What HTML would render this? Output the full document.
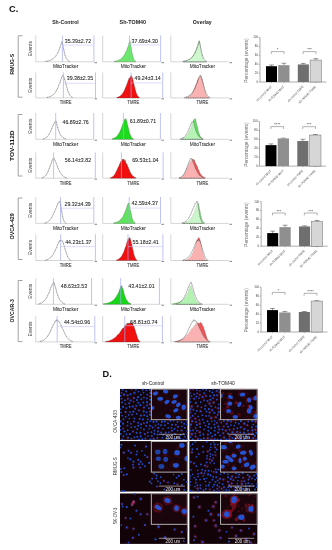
<!DOCTYPE html>
<html><head><meta charset="utf-8"><title>Figure</title>
<style>
html,body{margin:0;padding:0;background:#fff;}
body{width:332px;height:550px;overflow:hidden;}
svg{display:block;font-family:'Liberation Sans', sans-serif;}
</style></head>
<body>
<svg width="332" height="550" viewBox="0 0 332 550">
<defs><filter id="soft" x="-5%" y="-5%" width="110%" height="110%"><feGaussianBlur stdDeviation="0.35"/></filter><filter id="soft2" x="-5%" y="-5%" width="110%" height="110%"><feGaussianBlur stdDeviation="0.45"/></filter></defs>
<rect width="332" height="550" fill="#fff"/>
<text x="9.00" y="12.20" font-size="9.2" fill="#111" font-weight="bold" textLength="9.20" lengthAdjust="spacingAndGlyphs">C.</text>
<text x="52.20" y="24.20" font-size="6.0" fill="#222" font-weight="bold" textLength="26.50" lengthAdjust="spacingAndGlyphs">Sh-Control</text>
<text x="119.60" y="24.20" font-size="6.0" fill="#222" font-weight="bold" textLength="26.50" lengthAdjust="spacingAndGlyphs">Sh-TOM40</text>
<text x="192.80" y="24.20" font-size="6.0" fill="#222" font-weight="bold" textLength="18.90" lengthAdjust="spacingAndGlyphs">Overlay</text>
<path d="M22.5,35.80 L18.2,35.80 L18.2,97.20 L22.5,97.20" fill="none" stroke="#8a8a8a" stroke-width="0.8"/>
<text x="14.20" y="64.20" font-size="5.6" fill="#111" text-anchor="middle" font-weight="bold" textLength="20.40" lengthAdjust="spacingAndGlyphs" transform="rotate(-90 14.20 64.20)">RMUG-S</text>
<line x1="35.80" y1="35.50" x2="35.80" y2="61.80" stroke="#b8b8b8" stroke-width="0.6"/>
<line x1="35.80" y1="61.80" x2="93.60" y2="61.80" stroke="#b8b8b8" stroke-width="0.6"/>
<line x1="94.50" y1="62.70" x2="97.10" y2="62.70" stroke="#666" stroke-width="0.8"/>
<text x="65.60" y="68.30" font-size="5.9" fill="#333" text-anchor="middle" textLength="25.30" lengthAdjust="spacingAndGlyphs" stroke="#333" stroke-width="0.08">MitoTracker</text>
<line x1="102.70" y1="35.50" x2="102.70" y2="61.80" stroke="#b8b8b8" stroke-width="0.6"/>
<line x1="102.70" y1="61.80" x2="160.50" y2="61.80" stroke="#b8b8b8" stroke-width="0.6"/>
<line x1="161.40" y1="62.70" x2="164.00" y2="62.70" stroke="#666" stroke-width="0.8"/>
<text x="133.30" y="68.30" font-size="5.9" fill="#333" text-anchor="middle" textLength="25.30" lengthAdjust="spacingAndGlyphs" stroke="#333" stroke-width="0.08">MitoTracker</text>
<line x1="170.80" y1="35.50" x2="170.80" y2="61.80" stroke="#b8b8b8" stroke-width="0.6"/>
<line x1="170.80" y1="61.80" x2="228.60" y2="61.80" stroke="#b8b8b8" stroke-width="0.6"/>
<line x1="229.50" y1="62.70" x2="232.10" y2="62.70" stroke="#666" stroke-width="0.8"/>
<text x="202.40" y="68.30" font-size="5.9" fill="#333" text-anchor="middle" textLength="25.30" lengthAdjust="spacingAndGlyphs" stroke="#333" stroke-width="0.08">MitoTracker</text>
<text x="32.00" y="48.65" font-size="5.9" fill="#333" text-anchor="middle" textLength="15.00" lengthAdjust="spacingAndGlyphs" transform="rotate(-90 32.00 48.65)">Events</text>
<path d="M45.72,61.80 L45.72,61.28 L46.07,61.23 L46.42,61.18 L46.77,61.12 L47.12,61.06 L47.48,60.99 L47.83,60.92 L48.18,60.84 L48.53,60.75 L48.88,60.65 L49.23,60.55 L49.58,60.44 L49.93,60.32 L50.28,60.19 L50.63,60.05 L50.98,59.89 L51.33,59.72 L51.68,59.62 L52.03,59.41 L52.38,59.15 L52.73,58.89 L53.08,58.69 L53.43,58.40 L53.78,58.20 L54.13,57.77 L54.48,57.48 L54.83,57.15 L55.18,56.86 L55.53,56.31 L55.88,55.78 L56.23,55.47 L56.58,54.89 L56.93,54.17 L57.28,53.88 L57.63,53.29 L57.98,52.52 L58.33,51.85 L58.68,50.68 L59.03,50.13 L59.38,49.39 L59.73,48.29 L60.08,47.11 L60.43,45.71 L60.78,44.92 L61.13,43.98 L61.48,43.18 L61.83,42.14 L62.18,41.56 L62.53,43.64 L62.88,44.86 L63.23,47.30 L63.58,48.92 L63.93,50.29 L64.28,52.34 L64.63,53.59 L64.98,55.04 L65.33,56.07 L65.68,56.83 L66.03,57.80 L66.38,58.58 L66.73,59.05 L67.08,59.57 L67.43,59.98 L67.78,60.33 L68.12,60.61 L68.47,60.85 L68.82,61.04 L69.17,61.20 L69.45,61.80" fill="none" stroke="#555" stroke-width="0.65" stroke-dasharray="1.3 0.45"/>
<path d="M114.26,61.80 L114.26,61.28 L114.61,61.23 L114.96,61.17 L115.31,61.11 L115.66,61.04 L116.01,60.96 L116.36,60.88 L116.71,60.79 L117.06,60.69 L117.41,60.58 L117.76,60.46 L118.11,60.33 L118.46,60.19 L118.81,60.03 L119.16,59.86 L119.51,59.65 L119.86,59.52 L120.21,59.38 L120.56,59.13 L120.91,58.89 L121.26,58.53 L121.61,58.35 L121.96,57.94 L122.31,57.41 L122.66,57.18 L123.01,56.57 L123.36,56.57 L123.71,56.12 L124.06,55.25 L124.41,54.67 L124.76,54.39 L125.11,53.33 L125.46,52.60 L125.81,51.86 L126.16,51.21 L126.51,50.66 L126.86,50.18 L127.21,48.35 L127.56,48.34 L127.91,46.77 L128.26,46.24 L128.61,45.04 L128.96,42.79 L129.31,42.56 L129.66,40.55 L130.01,40.82 L130.36,42.88 L130.71,45.23 L131.06,46.83 L131.41,48.39 L131.76,51.13 L132.11,53.00 L132.46,54.16 L132.81,55.81 L133.16,57.18 L133.51,58.32 L133.86,58.95 L134.21,59.75 L134.56,60.25 L134.91,60.68 L135.26,61.00 L135.61,61.23 L135.79,61.80 L135.79,61.80 Z" fill="#6ce96c" stroke="#3a3a3a" stroke-width="0.25"/>
<path d="M183.56,61.80 L183.56,61.28 L183.91,61.23 L184.26,61.17 L184.61,61.11 L184.96,61.04 L185.31,60.96 L185.66,60.88 L186.01,60.79 L186.36,60.69 L186.71,60.58 L187.06,60.46 L187.41,60.33 L187.76,60.19 L188.11,60.03 L188.46,59.86 L188.81,59.65 L189.16,59.52 L189.51,59.38 L189.86,59.13 L190.21,58.89 L190.56,58.53 L190.91,58.35 L191.26,57.94 L191.61,57.41 L191.96,57.18 L192.31,56.57 L192.66,56.57 L193.01,56.12 L193.36,55.25 L193.71,54.67 L194.06,54.39 L194.41,53.33 L194.76,52.60 L195.11,51.86 L195.46,51.21 L195.81,50.66 L196.16,50.18 L196.51,48.35 L196.86,48.34 L197.21,46.77 L197.56,46.24 L197.91,45.04 L198.26,42.79 L198.61,42.56 L198.96,40.55 L199.31,40.82 L199.66,42.88 L200.01,45.23 L200.36,46.83 L200.71,48.39 L201.06,51.13 L201.41,53.00 L201.76,54.16 L202.11,55.81 L202.46,57.18 L202.81,58.32 L203.16,58.95 L203.51,59.75 L203.86,60.25 L204.21,60.68 L204.56,61.00 L204.91,61.23 L205.09,61.80 L205.09,61.80 Z" fill="#6ce96c" fill-opacity="0.72" stroke="#555" stroke-width="0.3"/>
<path d="M183.03,61.80 L183.03,61.28 L183.38,61.23 L183.73,61.18 L184.08,61.12 L184.43,61.06 L184.78,60.99 L185.12,60.92 L185.48,60.84 L185.83,60.75 L186.18,60.65 L186.53,60.55 L186.88,60.44 L187.23,60.32 L187.58,60.19 L187.93,60.05 L188.28,59.89 L188.63,59.72 L188.98,59.62 L189.33,59.41 L189.68,59.15 L190.03,58.89 L190.38,58.69 L190.73,58.40 L191.08,58.20 L191.43,57.77 L191.78,57.48 L192.13,57.15 L192.48,56.86 L192.83,56.31 L193.18,55.78 L193.53,55.47 L193.88,54.89 L194.23,54.17 L194.58,53.88 L194.93,53.29 L195.28,52.52 L195.63,51.85 L195.98,50.68 L196.33,50.13 L196.68,49.39 L197.03,48.29 L197.38,47.11 L197.73,45.71 L198.08,44.92 L198.43,43.98 L198.78,43.18 L199.13,42.14 L199.48,41.56 L199.83,43.64 L200.18,44.86 L200.53,47.30 L200.88,48.92 L201.23,50.29 L201.58,52.34 L201.93,53.59 L202.28,55.04 L202.63,56.07 L202.98,56.83 L203.33,57.80 L203.68,58.58 L204.03,59.05 L204.38,59.57 L204.73,59.98 L205.08,60.33 L205.43,60.61 L205.78,60.85 L206.12,61.04 L206.47,61.20 L206.75,61.80 L206.75,61.80 Z" fill="#ffffff" fill-opacity="0.55" stroke="#555" stroke-width="0.6" stroke-dasharray="1.3 0.45"/>
<line x1="62.40" y1="35.50" x2="62.40" y2="61.80" stroke="#a3abf4" stroke-width="0.7"/>
<line x1="93.90" y1="35.50" x2="93.90" y2="61.80" stroke="#a3abf4" stroke-width="0.7"/>
<line x1="62.40" y1="45.10" x2="93.90" y2="45.10" stroke="#c2c7f7" stroke-width="0.6"/>
<text x="64.80" y="42.85" font-size="6.0" fill="#222" textLength="26.30" lengthAdjust="spacingAndGlyphs" stroke="#222" stroke-width="0.08">35.39±2.72</text>
<line x1="129.60" y1="35.50" x2="129.60" y2="61.80" stroke="#a3abf4" stroke-width="0.7"/>
<line x1="160.60" y1="35.50" x2="160.60" y2="61.80" stroke="#a3abf4" stroke-width="0.7"/>
<line x1="129.60" y1="44.90" x2="160.60" y2="44.90" stroke="#c2c7f7" stroke-width="0.6"/>
<text x="131.60" y="42.60" font-size="6.0" fill="#222" textLength="26.30" lengthAdjust="spacingAndGlyphs" stroke="#222" stroke-width="0.08">37.69±4.30</text>
<line x1="35.80" y1="72.50" x2="35.80" y2="97.90" stroke="#b8b8b8" stroke-width="0.6"/>
<line x1="35.80" y1="97.90" x2="93.60" y2="97.90" stroke="#b8b8b8" stroke-width="0.6"/>
<line x1="94.50" y1="98.80" x2="97.10" y2="98.80" stroke="#666" stroke-width="0.8"/>
<text x="65.60" y="104.40" font-size="5.9" fill="#333" text-anchor="middle" textLength="11.90" lengthAdjust="spacingAndGlyphs" stroke="#333" stroke-width="0.08">TMRE</text>
<line x1="102.70" y1="72.50" x2="102.70" y2="97.90" stroke="#b8b8b8" stroke-width="0.6"/>
<line x1="102.70" y1="97.90" x2="160.50" y2="97.90" stroke="#b8b8b8" stroke-width="0.6"/>
<line x1="161.40" y1="98.80" x2="164.00" y2="98.80" stroke="#666" stroke-width="0.8"/>
<text x="133.30" y="104.40" font-size="5.9" fill="#333" text-anchor="middle" textLength="11.90" lengthAdjust="spacingAndGlyphs" stroke="#333" stroke-width="0.08">TMRE</text>
<line x1="170.80" y1="72.50" x2="170.80" y2="97.90" stroke="#b8b8b8" stroke-width="0.6"/>
<line x1="170.80" y1="97.90" x2="228.60" y2="97.90" stroke="#b8b8b8" stroke-width="0.6"/>
<line x1="229.50" y1="98.80" x2="232.10" y2="98.80" stroke="#666" stroke-width="0.8"/>
<text x="202.40" y="104.40" font-size="5.9" fill="#333" text-anchor="middle" textLength="11.90" lengthAdjust="spacingAndGlyphs" stroke="#333" stroke-width="0.08">TMRE</text>
<text x="32.00" y="85.20" font-size="5.9" fill="#333" text-anchor="middle" textLength="15.00" lengthAdjust="spacingAndGlyphs" transform="rotate(-90 32.00 85.20)">Events</text>
<path d="M47.27,97.90 L47.27,97.36 L47.62,97.30 L47.97,97.23 L48.32,97.15 L48.67,97.06 L49.02,96.96 L49.37,96.85 L49.72,96.74 L50.07,96.61 L50.42,96.46 L50.77,96.30 L51.12,96.13 L51.47,95.94 L51.82,95.73 L52.17,95.48 L52.52,95.33 L52.87,95.05 L53.22,94.67 L53.57,94.39 L53.92,94.04 L54.27,93.71 L54.62,93.34 L54.97,92.71 L55.32,92.21 L55.67,91.96 L56.02,91.28 L56.37,90.83 L56.72,89.88 L57.07,89.41 L57.42,88.85 L57.77,87.84 L58.12,87.48 L58.47,86.65 L58.82,85.20 L59.17,84.28 L59.52,83.75 L59.87,83.14 L60.22,81.68 L60.57,80.53 L60.92,79.74 L61.27,78.33 L61.62,77.59 L61.97,76.95 L62.32,76.24 L62.67,75.36 L63.02,75.46 L63.37,75.83 L63.72,76.74 L64.07,77.35 L64.42,78.04 L64.77,80.01 L65.12,80.92 L65.47,82.27 L65.82,83.20 L66.17,85.15 L66.52,86.34 L66.87,87.15 L67.22,88.51 L67.57,89.86 L67.92,90.91 L68.27,91.97 L68.61,92.69 L68.96,93.59 L69.31,94.25 L69.66,94.80 L70.01,95.39 L70.36,95.81 L70.71,96.21 L71.06,96.54 L71.41,96.81 L71.76,97.04 L72.11,97.23 L72.46,97.38 L72.57,97.90" fill="none" stroke="#555" stroke-width="0.65" stroke-dasharray="1.3 0.45"/>
<path d="M116.83,97.90 L116.83,97.39 L117.17,97.31 L117.52,97.21 L117.87,97.10 L118.22,96.97 L118.57,96.83 L118.92,96.67 L119.27,96.49 L119.62,96.28 L119.97,96.05 L120.32,95.79 L120.67,95.57 L121.02,95.16 L121.37,95.01 L121.72,94.64 L122.07,94.08 L122.42,93.70 L122.77,93.02 L123.12,92.47 L123.47,91.91 L123.82,91.51 L124.17,90.55 L124.52,90.35 L124.87,88.94 L125.22,88.23 L125.57,87.28 L125.92,87.06 L126.27,85.76 L126.62,84.96 L126.97,83.85 L127.32,83.31 L127.67,82.05 L128.02,80.83 L128.37,80.24 L128.72,79.16 L129.07,77.98 L129.42,78.46 L129.77,77.53 L130.12,76.93 L130.47,76.90 L130.82,75.67 L131.17,75.62 L131.52,76.00 L131.87,76.53 L132.22,77.83 L132.57,77.72 L132.92,79.74 L133.27,81.22 L133.62,82.42 L133.97,83.57 L134.32,85.90 L134.67,86.71 L135.02,88.67 L135.37,89.72 L135.72,90.92 L136.07,92.16 L136.42,93.14 L136.77,94.06 L137.12,94.97 L137.47,95.59 L137.82,96.03 L138.17,96.46 L138.52,96.80 L138.87,97.08 L139.22,97.29 L139.50,97.90 L139.50,97.90 Z" fill="#f01010" stroke="#3a3a3a" stroke-width="0.25"/>
<path d="M186.12,97.90 L186.12,97.39 L186.47,97.31 L186.82,97.21 L187.17,97.10 L187.52,96.97 L187.87,96.83 L188.22,96.67 L188.57,96.49 L188.92,96.28 L189.27,96.05 L189.62,95.79 L189.97,95.57 L190.32,95.16 L190.67,95.01 L191.02,94.64 L191.37,94.08 L191.72,93.70 L192.07,93.02 L192.42,92.47 L192.77,91.91 L193.12,91.51 L193.47,90.55 L193.82,90.35 L194.17,88.94 L194.52,88.23 L194.87,87.28 L195.22,87.06 L195.57,85.76 L195.92,84.96 L196.27,83.85 L196.62,83.31 L196.97,82.05 L197.32,80.83 L197.67,80.24 L198.02,79.16 L198.37,77.98 L198.72,78.46 L199.07,77.53 L199.42,76.93 L199.77,76.90 L200.12,75.67 L200.47,75.62 L200.82,76.00 L201.17,76.53 L201.52,77.83 L201.87,77.72 L202.22,79.74 L202.57,81.22 L202.92,82.42 L203.27,83.57 L203.62,85.90 L203.97,86.71 L204.32,88.67 L204.67,89.72 L205.02,90.92 L205.37,92.16 L205.72,93.14 L206.07,94.06 L206.42,94.97 L206.77,95.59 L207.12,96.03 L207.47,96.46 L207.82,96.80 L208.17,97.08 L208.52,97.29 L208.81,97.90 L208.81,97.90 Z" fill="#f01010" fill-opacity="0.72" stroke="#555" stroke-width="0.3"/>
<path d="M184.56,97.90 L184.56,97.36 L184.92,97.30 L185.27,97.23 L185.62,97.15 L185.97,97.06 L186.32,96.96 L186.67,96.85 L187.02,96.74 L187.37,96.61 L187.72,96.46 L188.07,96.30 L188.42,96.13 L188.77,95.94 L189.12,95.73 L189.47,95.48 L189.82,95.33 L190.17,95.05 L190.52,94.67 L190.87,94.39 L191.22,94.04 L191.57,93.71 L191.92,93.34 L192.27,92.71 L192.62,92.21 L192.97,91.96 L193.32,91.28 L193.67,90.83 L194.02,89.88 L194.37,89.41 L194.72,88.85 L195.07,87.84 L195.42,87.48 L195.77,86.65 L196.12,85.20 L196.47,84.28 L196.82,83.75 L197.17,83.14 L197.52,81.68 L197.87,80.53 L198.22,79.74 L198.57,78.33 L198.92,77.59 L199.27,76.95 L199.62,76.24 L199.97,75.36 L200.32,75.46 L200.67,75.83 L201.02,76.74 L201.37,77.35 L201.72,78.04 L202.07,80.01 L202.42,80.92 L202.77,82.27 L203.12,83.20 L203.47,85.15 L203.82,86.34 L204.17,87.15 L204.52,88.51 L204.87,89.86 L205.22,90.91 L205.56,91.97 L205.92,92.69 L206.26,93.59 L206.62,94.25 L206.96,94.80 L207.31,95.39 L207.66,95.81 L208.01,96.21 L208.36,96.54 L208.71,96.81 L209.06,97.04 L209.41,97.23 L209.76,97.38 L209.87,97.90 L209.87,97.90 Z" fill="#ffffff" fill-opacity="0.55" stroke="#555" stroke-width="0.6" stroke-dasharray="1.3 0.45"/>
<line x1="63.40" y1="72.50" x2="63.40" y2="97.90" stroke="#a3abf4" stroke-width="0.7"/>
<line x1="95.50" y1="72.50" x2="95.50" y2="97.90" stroke="#a3abf4" stroke-width="0.7"/>
<line x1="63.40" y1="83.30" x2="95.50" y2="83.30" stroke="#c2c7f7" stroke-width="0.6"/>
<text x="66.80" y="80.25" font-size="6.0" fill="#222" textLength="26.30" lengthAdjust="spacingAndGlyphs" stroke="#222" stroke-width="0.08">39.38±2.35</text>
<line x1="131.10" y1="72.50" x2="131.10" y2="97.90" stroke="#a3abf4" stroke-width="0.7"/>
<line x1="162.70" y1="72.50" x2="162.70" y2="97.90" stroke="#a3abf4" stroke-width="0.7"/>
<line x1="131.10" y1="82.90" x2="162.70" y2="82.90" stroke="#c2c7f7" stroke-width="0.6"/>
<text x="134.50" y="80.45" font-size="6.0" fill="#222" textLength="26.30" lengthAdjust="spacingAndGlyphs" stroke="#222" stroke-width="0.08">49.24±3.14</text>
<path d="M22.5,114.50 L18.2,114.50 L18.2,176.00 L22.5,176.00" fill="none" stroke="#8a8a8a" stroke-width="0.8"/>
<text x="14.20" y="145.70" font-size="5.6" fill="#111" text-anchor="middle" font-weight="bold" textLength="30.40" lengthAdjust="spacingAndGlyphs" transform="rotate(-90 14.20 145.70)">TOV-112D</text>
<line x1="35.80" y1="113.00" x2="35.80" y2="139.30" stroke="#b8b8b8" stroke-width="0.6"/>
<line x1="35.80" y1="139.30" x2="93.60" y2="139.30" stroke="#b8b8b8" stroke-width="0.6"/>
<line x1="94.50" y1="140.20" x2="97.10" y2="140.20" stroke="#666" stroke-width="0.8"/>
<text x="65.60" y="145.80" font-size="5.9" fill="#333" text-anchor="middle" textLength="25.30" lengthAdjust="spacingAndGlyphs" stroke="#333" stroke-width="0.08">MitoTracker</text>
<line x1="102.70" y1="113.00" x2="102.70" y2="139.30" stroke="#b8b8b8" stroke-width="0.6"/>
<line x1="102.70" y1="139.30" x2="160.50" y2="139.30" stroke="#b8b8b8" stroke-width="0.6"/>
<line x1="161.40" y1="140.20" x2="164.00" y2="140.20" stroke="#666" stroke-width="0.8"/>
<text x="133.30" y="145.80" font-size="5.9" fill="#333" text-anchor="middle" textLength="25.30" lengthAdjust="spacingAndGlyphs" stroke="#333" stroke-width="0.08">MitoTracker</text>
<line x1="170.80" y1="113.00" x2="170.80" y2="139.30" stroke="#b8b8b8" stroke-width="0.6"/>
<line x1="170.80" y1="139.30" x2="228.60" y2="139.30" stroke="#b8b8b8" stroke-width="0.6"/>
<line x1="229.50" y1="140.20" x2="232.10" y2="140.20" stroke="#666" stroke-width="0.8"/>
<text x="202.40" y="145.80" font-size="5.9" fill="#333" text-anchor="middle" textLength="25.30" lengthAdjust="spacingAndGlyphs" stroke="#333" stroke-width="0.08">MitoTracker</text>
<text x="32.00" y="126.15" font-size="5.9" fill="#333" text-anchor="middle" textLength="15.00" lengthAdjust="spacingAndGlyphs" transform="rotate(-90 32.00 126.15)">Events</text>
<path d="M43.20,139.30 L43.20,138.89 L43.55,138.81 L43.90,138.71 L44.25,138.60 L44.60,138.47 L44.95,138.32 L45.30,138.15 L45.65,137.95 L46.00,137.73 L46.35,137.47 L46.70,137.22 L47.05,136.88 L47.40,136.55 L47.75,136.08 L48.10,135.78 L48.45,135.32 L48.80,134.75 L49.15,134.01 L49.50,133.53 L49.85,132.79 L50.20,132.04 L50.55,131.67 L50.90,130.95 L51.25,129.55 L51.60,129.27 L51.95,128.25 L52.30,127.22 L52.65,126.27 L53.00,125.79 L53.35,124.77 L53.70,124.23 L54.05,123.49 L54.40,122.23 L54.75,122.40 L55.10,122.21 L55.45,121.86 L55.80,121.23 L56.15,121.18 L56.50,122.43 L56.85,123.96 L57.20,126.10 L57.55,126.83 L57.90,128.13 L58.25,129.67 L58.60,130.35 L58.95,131.48 L59.30,132.32 L59.65,132.98 L60.00,133.93 L60.35,134.67 L60.70,135.05 L61.05,135.60 L61.40,136.12 L61.75,136.46 L62.10,136.91 L62.45,137.28 L62.80,137.48 L63.15,137.73 L63.50,137.95 L63.85,138.14 L64.20,138.30 L64.55,138.44 L64.90,138.57 L65.25,138.67 L65.60,138.76 L65.95,138.84 L65.98,139.30" fill="none" stroke="#555" stroke-width="0.65" stroke-dasharray="1.3 0.45"/>
<path d="M111.97,139.30 L111.97,138.80 L112.31,138.72 L112.66,138.63 L113.01,138.53 L113.36,138.42 L113.71,138.29 L114.06,138.15 L114.41,137.98 L114.76,137.80 L115.11,137.59 L115.46,137.36 L115.81,137.24 L116.16,136.84 L116.51,136.64 L116.86,136.14 L117.21,135.83 L117.56,135.34 L117.91,134.99 L118.26,134.28 L118.61,133.89 L118.96,133.25 L119.31,132.43 L119.66,132.25 L120.01,131.61 L120.36,130.25 L120.71,129.83 L121.06,128.88 L121.41,127.86 L121.76,127.10 L122.11,126.22 L122.46,124.73 L122.81,123.82 L123.16,123.02 L123.51,122.80 L123.86,121.78 L124.21,120.64 L124.56,119.25 L124.91,119.44 L125.26,119.17 L125.61,119.18 L125.96,118.47 L126.31,119.80 L126.66,120.65 L127.01,122.36 L127.36,124.39 L127.71,125.38 L128.06,126.71 L128.41,128.06 L128.76,129.52 L129.11,131.42 L129.46,132.70 L129.81,133.74 L130.16,134.30 L130.51,135.30 L130.86,136.02 L131.21,136.75 L131.56,137.25 L131.91,137.69 L132.26,138.05 L132.61,138.34 L132.96,138.57 L133.31,138.76 L133.49,139.30 L133.49,139.30 Z" fill="#1ddc1d" stroke="#3a3a3a" stroke-width="0.25"/>
<path d="M181.26,139.30 L181.26,138.80 L181.62,138.72 L181.96,138.63 L182.31,138.53 L182.66,138.42 L183.01,138.29 L183.36,138.15 L183.71,137.98 L184.06,137.80 L184.41,137.59 L184.76,137.36 L185.11,137.24 L185.46,136.84 L185.81,136.64 L186.16,136.14 L186.51,135.83 L186.86,135.34 L187.21,134.99 L187.56,134.28 L187.91,133.89 L188.26,133.25 L188.61,132.43 L188.96,132.25 L189.31,131.61 L189.66,130.25 L190.01,129.83 L190.36,128.88 L190.71,127.86 L191.06,127.10 L191.41,126.22 L191.76,124.73 L192.11,123.82 L192.46,123.02 L192.81,122.80 L193.16,121.78 L193.51,120.64 L193.86,119.25 L194.21,119.44 L194.56,119.17 L194.91,119.18 L195.26,118.47 L195.61,119.80 L195.96,120.65 L196.31,122.36 L196.66,124.39 L197.01,125.38 L197.36,126.71 L197.71,128.06 L198.06,129.52 L198.41,131.42 L198.76,132.70 L199.11,133.74 L199.46,134.30 L199.81,135.30 L200.16,136.02 L200.51,136.75 L200.86,137.25 L201.21,137.69 L201.56,138.05 L201.91,138.34 L202.26,138.57 L202.61,138.76 L202.79,139.30 L202.79,139.30 Z" fill="#1ddc1d" fill-opacity="0.72" stroke="#555" stroke-width="0.3"/>
<path d="M180.50,139.30 L180.50,138.89 L180.85,138.81 L181.20,138.71 L181.55,138.60 L181.90,138.47 L182.25,138.32 L182.60,138.15 L182.95,137.95 L183.30,137.73 L183.65,137.47 L184.00,137.22 L184.35,136.88 L184.70,136.55 L185.05,136.08 L185.40,135.78 L185.75,135.32 L186.10,134.75 L186.45,134.01 L186.80,133.53 L187.15,132.79 L187.50,132.04 L187.85,131.67 L188.20,130.95 L188.55,129.55 L188.90,129.27 L189.25,128.25 L189.60,127.22 L189.95,126.27 L190.30,125.79 L190.65,124.77 L191.00,124.23 L191.35,123.49 L191.70,122.23 L192.05,122.40 L192.40,122.21 L192.75,121.86 L193.10,121.23 L193.45,121.18 L193.80,122.43 L194.15,123.96 L194.50,126.10 L194.85,126.83 L195.20,128.13 L195.55,129.67 L195.90,130.35 L196.25,131.48 L196.60,132.32 L196.95,132.98 L197.30,133.93 L197.65,134.67 L198.00,135.05 L198.35,135.60 L198.70,136.12 L199.05,136.46 L199.40,136.91 L199.75,137.28 L200.10,137.48 L200.45,137.73 L200.80,137.95 L201.15,138.14 L201.50,138.30 L201.85,138.44 L202.20,138.57 L202.55,138.67 L202.90,138.76 L203.25,138.84 L203.28,139.30 L203.28,139.30 Z" fill="#ffffff" fill-opacity="0.55" stroke="#555" stroke-width="0.6" stroke-dasharray="1.3 0.45"/>
<line x1="55.70" y1="113.00" x2="55.70" y2="139.30" stroke="#a3abf4" stroke-width="0.7"/>
<line x1="93.70" y1="113.00" x2="93.70" y2="139.30" stroke="#a3abf4" stroke-width="0.7"/>
<text x="62.50" y="123.65" font-size="6.0" fill="#222" textLength="26.30" lengthAdjust="spacingAndGlyphs" stroke="#222" stroke-width="0.08">46.89±2.76</text>
<line x1="123.40" y1="113.00" x2="123.40" y2="139.30" stroke="#a3abf4" stroke-width="0.7"/>
<line x1="160.40" y1="113.00" x2="160.40" y2="139.30" stroke="#a3abf4" stroke-width="0.7"/>
<text x="129.80" y="123.30" font-size="6.0" fill="#222" textLength="26.30" lengthAdjust="spacingAndGlyphs" stroke="#222" stroke-width="0.08">61.89±0.71</text>
<line x1="35.80" y1="152.40" x2="35.80" y2="178.20" stroke="#b8b8b8" stroke-width="0.6"/>
<line x1="35.80" y1="178.20" x2="93.60" y2="178.20" stroke="#b8b8b8" stroke-width="0.6"/>
<line x1="94.50" y1="179.10" x2="97.10" y2="179.10" stroke="#666" stroke-width="0.8"/>
<text x="65.60" y="184.70" font-size="5.9" fill="#333" text-anchor="middle" textLength="11.90" lengthAdjust="spacingAndGlyphs" stroke="#333" stroke-width="0.08">TMRE</text>
<line x1="102.70" y1="152.40" x2="102.70" y2="178.20" stroke="#b8b8b8" stroke-width="0.6"/>
<line x1="102.70" y1="178.20" x2="160.50" y2="178.20" stroke="#b8b8b8" stroke-width="0.6"/>
<line x1="161.40" y1="179.10" x2="164.00" y2="179.10" stroke="#666" stroke-width="0.8"/>
<text x="133.30" y="184.70" font-size="5.9" fill="#333" text-anchor="middle" textLength="11.90" lengthAdjust="spacingAndGlyphs" stroke="#333" stroke-width="0.08">TMRE</text>
<line x1="170.80" y1="152.40" x2="170.80" y2="178.20" stroke="#b8b8b8" stroke-width="0.6"/>
<line x1="170.80" y1="178.20" x2="228.60" y2="178.20" stroke="#b8b8b8" stroke-width="0.6"/>
<line x1="229.50" y1="179.10" x2="232.10" y2="179.10" stroke="#666" stroke-width="0.8"/>
<text x="202.40" y="184.70" font-size="5.9" fill="#333" text-anchor="middle" textLength="11.90" lengthAdjust="spacingAndGlyphs" stroke="#333" stroke-width="0.08">TMRE</text>
<text x="32.00" y="165.30" font-size="5.9" fill="#333" text-anchor="middle" textLength="15.00" lengthAdjust="spacingAndGlyphs" transform="rotate(-90 32.00 165.30)">Events</text>
<path d="M42.04,178.20 L42.04,177.76 L42.39,177.67 L42.74,177.55 L43.09,177.42 L43.44,177.26 L43.79,177.07 L44.14,176.86 L44.49,176.61 L44.84,176.32 L45.19,176.01 L45.54,175.66 L45.89,175.32 L46.24,174.77 L46.59,174.26 L46.94,173.71 L47.29,172.96 L47.64,172.38 L47.99,171.69 L48.34,170.99 L48.69,169.79 L49.04,169.00 L49.39,167.93 L49.74,167.45 L50.09,166.41 L50.44,164.89 L50.79,164.72 L51.14,163.77 L51.49,162.56 L51.84,161.66 L52.19,160.35 L52.54,159.46 L52.89,159.48 L53.24,158.46 L53.59,158.34 L53.94,158.40 L54.29,158.47 L54.64,159.51 L54.99,160.13 L55.34,161.32 L55.69,161.77 L56.04,162.75 L56.39,163.51 L56.74,164.57 L57.09,165.31 L57.44,166.09 L57.79,167.52 L58.14,168.37 L58.49,169.09 L58.84,169.81 L59.19,170.38 L59.54,171.07 L59.89,171.79 L60.24,172.36 L60.59,173.19 L60.94,173.62 L61.29,174.24 L61.64,174.58 L61.99,175.12 L62.34,175.47 L62.69,175.67 L63.04,176.01 L63.39,176.30 L63.74,176.55 L64.09,176.77 L64.44,176.96 L64.79,177.13 L65.14,177.28 L65.49,177.41 L65.84,177.53 L66.19,177.63 L66.54,177.71 L66.72,178.20" fill="none" stroke="#555" stroke-width="0.65" stroke-dasharray="1.3 0.45"/>
<path d="M110.17,178.20 L110.17,177.81 L110.52,177.72 L110.86,177.60 L111.21,177.47 L111.56,177.31 L111.91,177.12 L112.26,176.90 L112.61,176.65 L112.96,176.36 L113.31,176.16 L113.66,175.65 L114.01,175.45 L114.36,174.86 L114.71,174.33 L115.06,173.88 L115.41,173.06 L115.76,172.42 L116.11,171.87 L116.46,171.01 L116.81,170.60 L117.16,169.60 L117.51,168.76 L117.86,167.82 L118.21,166.91 L118.56,166.67 L118.91,166.13 L119.26,164.59 L119.61,164.49 L119.96,163.01 L120.31,163.05 L120.66,161.56 L121.01,161.57 L121.36,160.78 L121.71,161.23 L122.06,160.69 L122.41,159.18 L122.76,158.98 L123.11,159.58 L123.46,159.06 L123.81,159.15 L124.16,160.68 L124.51,160.89 L124.86,159.49 L125.21,159.96 L125.56,161.59 L125.91,162.74 L126.26,163.29 L126.61,163.70 L126.96,164.54 L127.31,164.99 L127.66,165.85 L128.01,167.16 L128.36,167.16 L128.71,168.65 L129.06,169.51 L129.41,169.83 L129.76,171.13 L130.11,171.44 L130.46,172.67 L130.81,173.19 L131.16,173.64 L131.51,174.27 L131.86,174.92 L132.21,175.17 L132.56,175.56 L132.91,176.06 L133.26,176.30 L133.61,176.60 L133.96,176.86 L134.31,177.08 L134.66,177.27 L135.01,177.44 L135.36,177.58 L135.71,177.69 L136.06,177.79 L136.10,178.20 L136.10,178.20 Z" fill="#f01010" stroke="#3a3a3a" stroke-width="0.25"/>
<path d="M179.47,178.20 L179.47,177.81 L179.81,177.72 L180.16,177.60 L180.51,177.47 L180.86,177.31 L181.21,177.12 L181.56,176.90 L181.91,176.65 L182.26,176.36 L182.61,176.16 L182.96,175.65 L183.31,175.45 L183.66,174.86 L184.01,174.33 L184.36,173.88 L184.71,173.06 L185.06,172.42 L185.41,171.87 L185.76,171.01 L186.11,170.60 L186.46,169.60 L186.81,168.76 L187.16,167.82 L187.51,166.91 L187.86,166.67 L188.21,166.13 L188.56,164.59 L188.91,164.49 L189.26,163.01 L189.61,163.05 L189.96,161.56 L190.31,161.57 L190.66,160.78 L191.01,161.23 L191.36,160.69 L191.71,159.18 L192.06,158.98 L192.41,159.58 L192.76,159.06 L193.11,159.15 L193.46,160.68 L193.81,160.89 L194.16,159.49 L194.51,159.96 L194.86,161.59 L195.21,162.74 L195.56,163.29 L195.91,163.70 L196.26,164.54 L196.61,164.99 L196.96,165.85 L197.31,167.16 L197.66,167.16 L198.01,168.65 L198.36,169.51 L198.71,169.83 L199.06,171.13 L199.41,171.44 L199.76,172.67 L200.11,173.19 L200.46,173.64 L200.81,174.27 L201.16,174.92 L201.51,175.17 L201.86,175.56 L202.21,176.06 L202.56,176.30 L202.91,176.60 L203.26,176.86 L203.61,177.08 L203.96,177.27 L204.31,177.44 L204.66,177.58 L205.01,177.69 L205.36,177.79 L205.40,178.20 L205.40,178.20 Z" fill="#f01010" fill-opacity="0.72" stroke="#555" stroke-width="0.3"/>
<path d="M179.34,178.20 L179.34,177.76 L179.69,177.67 L180.04,177.55 L180.39,177.42 L180.74,177.26 L181.09,177.07 L181.44,176.86 L181.79,176.61 L182.14,176.32 L182.49,176.01 L182.84,175.66 L183.19,175.32 L183.54,174.77 L183.89,174.26 L184.24,173.71 L184.59,172.96 L184.94,172.38 L185.29,171.69 L185.64,170.99 L185.99,169.79 L186.34,169.00 L186.69,167.93 L187.04,167.45 L187.39,166.41 L187.74,164.89 L188.09,164.72 L188.44,163.77 L188.79,162.56 L189.14,161.66 L189.49,160.35 L189.84,159.46 L190.19,159.48 L190.54,158.46 L190.89,158.34 L191.24,158.40 L191.59,158.47 L191.94,159.51 L192.29,160.13 L192.64,161.32 L192.99,161.77 L193.34,162.75 L193.69,163.51 L194.04,164.57 L194.39,165.31 L194.74,166.09 L195.09,167.52 L195.44,168.37 L195.79,169.09 L196.14,169.81 L196.49,170.38 L196.84,171.07 L197.19,171.79 L197.54,172.36 L197.89,173.19 L198.24,173.62 L198.59,174.24 L198.94,174.58 L199.29,175.12 L199.64,175.47 L199.99,175.67 L200.34,176.01 L200.69,176.30 L201.04,176.55 L201.39,176.77 L201.74,176.96 L202.09,177.13 L202.44,177.28 L202.79,177.41 L203.14,177.53 L203.49,177.63 L203.84,177.71 L204.02,178.20 L204.02,178.20 Z" fill="#ffffff" fill-opacity="0.55" stroke="#555" stroke-width="0.6" stroke-dasharray="1.3 0.45"/>
<line x1="53.60" y1="152.40" x2="53.60" y2="178.20" stroke="#a3abf4" stroke-width="0.7"/>
<line x1="95.30" y1="152.40" x2="95.30" y2="178.20" stroke="#a3abf4" stroke-width="0.7"/>
<text x="64.80" y="161.80" font-size="6.0" fill="#222" textLength="26.30" lengthAdjust="spacingAndGlyphs" stroke="#222" stroke-width="0.08">56.14±3.82</text>
<line x1="121.40" y1="152.40" x2="121.40" y2="178.20" stroke="#a3abf4" stroke-width="0.7"/>
<line x1="163.10" y1="152.40" x2="163.10" y2="178.20" stroke="#a3abf4" stroke-width="0.7"/>
<text x="132.20" y="161.80" font-size="6.0" fill="#222" textLength="26.30" lengthAdjust="spacingAndGlyphs" stroke="#222" stroke-width="0.08">69.53±1.04</text>
<path d="M22.5,198.00 L18.2,198.00 L18.2,259.50 L22.5,259.50" fill="none" stroke="#8a8a8a" stroke-width="0.8"/>
<text x="14.20" y="226.40" font-size="5.6" fill="#111" text-anchor="middle" font-weight="bold" textLength="26.20" lengthAdjust="spacingAndGlyphs" transform="rotate(-90 14.20 226.40)">OVCA-429</text>
<line x1="35.80" y1="197.00" x2="35.80" y2="223.40" stroke="#b8b8b8" stroke-width="0.6"/>
<line x1="35.80" y1="223.40" x2="93.60" y2="223.40" stroke="#b8b8b8" stroke-width="0.6"/>
<line x1="94.50" y1="224.30" x2="97.10" y2="224.30" stroke="#666" stroke-width="0.8"/>
<text x="65.60" y="229.90" font-size="5.9" fill="#333" text-anchor="middle" textLength="25.30" lengthAdjust="spacingAndGlyphs" stroke="#333" stroke-width="0.08">MitoTracker</text>
<line x1="102.70" y1="197.00" x2="102.70" y2="223.40" stroke="#b8b8b8" stroke-width="0.6"/>
<line x1="102.70" y1="223.40" x2="160.50" y2="223.40" stroke="#b8b8b8" stroke-width="0.6"/>
<line x1="161.40" y1="224.30" x2="164.00" y2="224.30" stroke="#666" stroke-width="0.8"/>
<text x="133.30" y="229.90" font-size="5.9" fill="#333" text-anchor="middle" textLength="25.30" lengthAdjust="spacingAndGlyphs" stroke="#333" stroke-width="0.08">MitoTracker</text>
<line x1="170.80" y1="197.00" x2="170.80" y2="223.40" stroke="#b8b8b8" stroke-width="0.6"/>
<line x1="170.80" y1="223.40" x2="228.60" y2="223.40" stroke="#b8b8b8" stroke-width="0.6"/>
<line x1="229.50" y1="224.30" x2="232.10" y2="224.30" stroke="#666" stroke-width="0.8"/>
<text x="202.40" y="229.90" font-size="5.9" fill="#333" text-anchor="middle" textLength="25.30" lengthAdjust="spacingAndGlyphs" stroke="#333" stroke-width="0.08">MitoTracker</text>
<text x="32.00" y="210.20" font-size="5.9" fill="#333" text-anchor="middle" textLength="15.00" lengthAdjust="spacingAndGlyphs" transform="rotate(-90 32.00 210.20)">Events</text>
<path d="M44.88,223.40 L44.88,222.92 L45.23,222.84 L45.58,222.74 L45.93,222.64 L46.28,222.51 L46.63,222.37 L46.98,222.21 L47.33,222.03 L47.68,221.83 L48.03,221.60 L48.38,221.35 L48.73,221.15 L49.08,220.82 L49.43,220.50 L49.78,220.16 L50.13,219.63 L50.48,219.28 L50.83,218.88 L51.18,218.37 L51.53,217.73 L51.88,217.00 L52.23,216.46 L52.58,216.05 L52.93,214.94 L53.28,214.31 L53.63,213.91 L53.98,212.84 L54.33,211.87 L54.68,211.11 L55.03,210.72 L55.38,209.44 L55.73,208.67 L56.08,208.01 L56.43,207.37 L56.78,206.29 L57.13,205.10 L57.48,204.90 L57.83,203.64 L58.18,203.09 L58.53,202.65 L58.88,202.80 L59.23,201.94 L59.58,202.18 L59.93,201.37 L60.28,201.78 L60.63,203.54 L60.98,206.58 L61.33,209.11 L61.68,210.96 L62.03,213.18 L62.38,215.04 L62.73,216.99 L63.08,218.28 L63.43,219.41 L63.78,220.45 L64.13,221.18 L64.48,221.72 L64.83,222.16 L65.18,222.50 L65.53,222.75 L65.77,223.40" fill="none" stroke="#555" stroke-width="0.65" stroke-dasharray="1.3 0.45"/>
<path d="M113.69,223.40 L113.69,222.88 L114.04,222.82 L114.39,222.75 L114.74,222.68 L115.09,222.60 L115.44,222.51 L115.79,222.41 L116.14,222.30 L116.49,222.18 L116.84,222.05 L117.19,221.91 L117.54,221.75 L117.89,221.57 L118.24,221.38 L118.59,221.22 L118.94,220.92 L119.29,220.86 L119.64,220.51 L119.99,220.21 L120.34,220.00 L120.69,219.36 L121.04,219.25 L121.39,218.60 L121.74,218.16 L122.09,217.70 L122.44,217.42 L122.79,217.00 L123.14,216.26 L123.49,215.34 L123.84,214.49 L124.19,213.87 L124.54,213.00 L124.89,212.44 L125.24,211.57 L125.59,210.18 L125.94,209.30 L126.29,209.19 L126.64,207.93 L126.99,205.94 L127.34,206.12 L127.69,204.36 L128.04,203.24 L128.39,203.19 L128.74,203.05 L129.09,203.49 L129.44,204.77 L129.79,206.69 L130.14,208.89 L130.49,210.54 L130.84,211.69 L131.19,213.45 L131.54,215.37 L131.89,216.79 L132.24,218.31 L132.59,219.30 L132.94,220.05 L133.29,220.88 L133.64,221.46 L133.99,221.95 L134.34,222.33 L134.69,222.62 L135.04,222.84 L135.22,223.40 L135.22,223.40 Z" fill="#5fe35f" stroke="#3a3a3a" stroke-width="0.25"/>
<path d="M183.00,223.40 L183.00,222.88 L183.34,222.82 L183.69,222.75 L184.04,222.68 L184.39,222.60 L184.74,222.51 L185.09,222.41 L185.44,222.30 L185.79,222.18 L186.14,222.05 L186.49,221.91 L186.84,221.75 L187.19,221.57 L187.54,221.38 L187.89,221.22 L188.24,220.92 L188.59,220.86 L188.94,220.51 L189.29,220.21 L189.64,220.00 L189.99,219.36 L190.34,219.25 L190.69,218.60 L191.04,218.16 L191.39,217.70 L191.74,217.42 L192.09,217.00 L192.44,216.26 L192.79,215.34 L193.14,214.49 L193.49,213.87 L193.84,213.00 L194.19,212.44 L194.54,211.57 L194.89,210.18 L195.24,209.30 L195.59,209.19 L195.94,207.93 L196.29,205.94 L196.64,206.12 L196.99,204.36 L197.34,203.24 L197.69,203.19 L198.04,203.05 L198.39,203.49 L198.74,204.77 L199.09,206.69 L199.44,208.89 L199.79,210.54 L200.14,211.69 L200.49,213.45 L200.84,215.37 L201.19,216.79 L201.54,218.31 L201.89,219.30 L202.24,220.05 L202.59,220.88 L202.94,221.46 L203.29,221.95 L203.64,222.33 L203.99,222.62 L204.34,222.84 L204.52,223.40 L204.52,223.40 Z" fill="#5fe35f" fill-opacity="0.72" stroke="#555" stroke-width="0.3"/>
<path d="M182.18,223.40 L182.18,222.92 L182.53,222.84 L182.88,222.74 L183.23,222.64 L183.58,222.51 L183.93,222.37 L184.28,222.21 L184.63,222.03 L184.98,221.83 L185.33,221.60 L185.68,221.35 L186.03,221.15 L186.38,220.82 L186.73,220.50 L187.08,220.16 L187.43,219.63 L187.78,219.28 L188.13,218.88 L188.48,218.37 L188.83,217.73 L189.18,217.00 L189.53,216.46 L189.88,216.05 L190.23,214.94 L190.58,214.31 L190.93,213.91 L191.28,212.84 L191.63,211.87 L191.98,211.11 L192.33,210.72 L192.68,209.44 L193.03,208.67 L193.38,208.01 L193.73,207.37 L194.08,206.29 L194.43,205.10 L194.78,204.90 L195.13,203.64 L195.48,203.09 L195.83,202.65 L196.18,202.80 L196.53,201.94 L196.88,202.18 L197.23,201.37 L197.58,201.78 L197.93,203.54 L198.28,206.58 L198.63,209.11 L198.98,210.96 L199.33,213.18 L199.68,215.04 L200.03,216.99 L200.38,218.28 L200.73,219.41 L201.08,220.45 L201.43,221.18 L201.78,221.72 L202.13,222.16 L202.48,222.50 L202.83,222.75 L203.07,223.40 L203.07,223.40 Z" fill="#ffffff" fill-opacity="0.55" stroke="#555" stroke-width="0.6" stroke-dasharray="1.3 0.45"/>
<line x1="60.50" y1="197.00" x2="60.50" y2="223.40" stroke="#a3abf4" stroke-width="0.7"/>
<line x1="93.80" y1="197.00" x2="93.80" y2="223.40" stroke="#a3abf4" stroke-width="0.7"/>
<line x1="60.50" y1="208.20" x2="93.80" y2="208.20" stroke="#c2c7f7" stroke-width="0.6"/>
<text x="64.50" y="205.55" font-size="6.0" fill="#222" textLength="26.30" lengthAdjust="spacingAndGlyphs" stroke="#222" stroke-width="0.08">29.32±4.39</text>
<line x1="129.20" y1="197.00" x2="129.20" y2="223.40" stroke="#a3abf4" stroke-width="0.7"/>
<line x1="160.50" y1="197.00" x2="160.50" y2="223.40" stroke="#a3abf4" stroke-width="0.7"/>
<line x1="129.20" y1="208.10" x2="160.50" y2="208.10" stroke="#c2c7f7" stroke-width="0.6"/>
<text x="131.60" y="205.20" font-size="6.0" fill="#222" textLength="26.30" lengthAdjust="spacingAndGlyphs" stroke="#222" stroke-width="0.08">42.59±4.37</text>
<line x1="35.80" y1="234.30" x2="35.80" y2="260.50" stroke="#b8b8b8" stroke-width="0.6"/>
<line x1="35.80" y1="260.50" x2="93.60" y2="260.50" stroke="#b8b8b8" stroke-width="0.6"/>
<line x1="94.50" y1="261.40" x2="97.10" y2="261.40" stroke="#666" stroke-width="0.8"/>
<text x="65.60" y="267.00" font-size="5.9" fill="#333" text-anchor="middle" textLength="11.90" lengthAdjust="spacingAndGlyphs" stroke="#333" stroke-width="0.08">TMRE</text>
<line x1="102.70" y1="234.30" x2="102.70" y2="260.50" stroke="#b8b8b8" stroke-width="0.6"/>
<line x1="102.70" y1="260.50" x2="160.50" y2="260.50" stroke="#b8b8b8" stroke-width="0.6"/>
<line x1="161.40" y1="261.40" x2="164.00" y2="261.40" stroke="#666" stroke-width="0.8"/>
<text x="133.30" y="267.00" font-size="5.9" fill="#333" text-anchor="middle" textLength="11.90" lengthAdjust="spacingAndGlyphs" stroke="#333" stroke-width="0.08">TMRE</text>
<line x1="170.80" y1="234.30" x2="170.80" y2="260.50" stroke="#b8b8b8" stroke-width="0.6"/>
<line x1="170.80" y1="260.50" x2="228.60" y2="260.50" stroke="#b8b8b8" stroke-width="0.6"/>
<line x1="229.50" y1="261.40" x2="232.10" y2="261.40" stroke="#666" stroke-width="0.8"/>
<text x="202.40" y="267.00" font-size="5.9" fill="#333" text-anchor="middle" textLength="11.90" lengthAdjust="spacingAndGlyphs" stroke="#333" stroke-width="0.08">TMRE</text>
<text x="32.00" y="247.40" font-size="5.9" fill="#333" text-anchor="middle" textLength="15.00" lengthAdjust="spacingAndGlyphs" transform="rotate(-90 32.00 247.40)">Events</text>
<path d="M45.48,260.50 L45.48,260.03 L45.83,259.96 L46.18,259.88 L46.53,259.79 L46.88,259.69 L47.23,259.57 L47.58,259.44 L47.93,259.29 L48.28,259.13 L48.63,258.95 L48.98,258.75 L49.33,258.53 L49.68,258.26 L50.03,258.07 L50.38,257.77 L50.73,257.42 L51.08,257.02 L51.43,256.77 L51.78,256.37 L52.13,255.85 L52.48,255.37 L52.83,254.76 L53.18,254.12 L53.53,253.67 L53.88,253.15 L54.23,252.25 L54.58,251.94 L54.93,250.92 L55.28,250.17 L55.63,249.27 L55.98,249.15 L56.33,248.18 L56.68,247.49 L57.03,246.47 L57.38,245.13 L57.73,244.59 L58.08,243.98 L58.43,242.82 L58.78,243.02 L59.13,241.71 L59.48,240.87 L59.83,241.16 L60.18,239.91 L60.53,240.66 L60.88,240.02 L61.23,240.22 L61.58,240.14 L61.93,240.63 L62.28,240.72 L62.63,241.14 L62.98,242.81 L63.33,242.97 L63.68,244.50 L64.03,245.00 L64.38,246.82 L64.73,247.91 L65.08,248.99 L65.43,250.19 L65.78,251.27 L66.13,252.49 L66.48,253.31 L66.83,254.49 L67.18,255.54 L67.53,256.20 L67.88,257.12 L68.23,257.75 L68.58,258.23 L68.92,258.69 L69.27,259.09 L69.62,259.42 L69.97,259.68 L70.32,259.89 L70.67,260.05 L70.78,260.50" fill="none" stroke="#555" stroke-width="0.65" stroke-dasharray="1.3 0.45"/>
<path d="M116.28,260.50 L116.28,259.98 L116.63,259.89 L116.98,259.78 L117.33,259.66 L117.68,259.51 L118.03,259.35 L118.38,259.17 L118.73,258.96 L119.08,258.72 L119.43,258.45 L119.78,258.11 L120.13,257.87 L120.48,257.46 L120.83,257.20 L121.18,256.65 L121.53,256.12 L121.88,255.75 L122.23,254.85 L122.58,254.49 L122.93,253.55 L123.28,252.95 L123.63,252.37 L123.98,251.41 L124.33,250.35 L124.68,249.60 L125.03,247.80 L125.38,247.20 L125.73,246.68 L126.08,245.52 L126.43,244.05 L126.78,242.66 L127.13,241.81 L127.48,240.97 L127.83,239.51 L128.18,240.20 L128.53,239.01 L128.88,238.29 L129.23,237.40 L129.58,237.79 L129.93,238.32 L130.28,238.44 L130.63,239.68 L130.98,240.88 L131.33,242.81 L131.68,244.53 L132.03,244.93 L132.38,246.83 L132.73,249.30 L133.08,250.17 L133.43,251.98 L133.78,253.64 L134.13,254.91 L134.48,255.92 L134.83,257.08 L135.18,257.87 L135.53,258.44 L135.88,258.98 L136.23,259.40 L136.58,259.72 L136.93,259.96 L137.07,260.50 L137.07,260.50 Z" fill="#f01010" stroke="#3a3a3a" stroke-width="0.25"/>
<path d="M185.58,260.50 L185.58,259.98 L185.93,259.89 L186.28,259.78 L186.63,259.66 L186.98,259.51 L187.33,259.35 L187.68,259.17 L188.03,258.96 L188.38,258.72 L188.73,258.45 L189.08,258.11 L189.43,257.87 L189.78,257.46 L190.13,257.20 L190.48,256.65 L190.83,256.12 L191.18,255.75 L191.53,254.85 L191.88,254.49 L192.23,253.55 L192.58,252.95 L192.93,252.37 L193.28,251.41 L193.63,250.35 L193.98,249.60 L194.33,247.80 L194.68,247.20 L195.03,246.68 L195.38,245.52 L195.73,244.05 L196.08,242.66 L196.43,241.81 L196.78,240.97 L197.13,239.51 L197.48,240.20 L197.83,239.01 L198.18,238.29 L198.53,237.40 L198.88,237.79 L199.23,238.32 L199.58,238.44 L199.93,239.68 L200.28,240.88 L200.63,242.81 L200.98,244.53 L201.33,244.93 L201.68,246.83 L202.03,249.30 L202.38,250.17 L202.73,251.98 L203.08,253.64 L203.43,254.91 L203.78,255.92 L204.13,257.08 L204.48,257.87 L204.83,258.44 L205.18,258.98 L205.53,259.40 L205.88,259.72 L206.23,259.96 L206.38,260.50 L206.38,260.50 Z" fill="#f01010" fill-opacity="0.72" stroke="#555" stroke-width="0.3"/>
<path d="M182.78,260.50 L182.78,260.03 L183.12,259.96 L183.48,259.88 L183.83,259.79 L184.18,259.69 L184.53,259.57 L184.88,259.44 L185.23,259.29 L185.58,259.13 L185.93,258.95 L186.28,258.75 L186.63,258.53 L186.98,258.26 L187.33,258.07 L187.68,257.77 L188.03,257.42 L188.38,257.02 L188.73,256.77 L189.08,256.37 L189.43,255.85 L189.78,255.37 L190.13,254.76 L190.48,254.12 L190.83,253.67 L191.18,253.15 L191.53,252.25 L191.88,251.94 L192.23,250.92 L192.58,250.17 L192.93,249.27 L193.28,249.15 L193.63,248.18 L193.98,247.49 L194.33,246.47 L194.68,245.13 L195.03,244.59 L195.38,243.98 L195.73,242.82 L196.08,243.02 L196.43,241.71 L196.78,240.87 L197.13,241.16 L197.48,239.91 L197.83,240.66 L198.18,240.02 L198.53,240.22 L198.88,240.14 L199.23,240.63 L199.58,240.72 L199.93,241.14 L200.28,242.81 L200.63,242.97 L200.98,244.50 L201.33,245.00 L201.68,246.82 L202.03,247.91 L202.38,248.99 L202.73,250.19 L203.08,251.27 L203.43,252.49 L203.78,253.31 L204.13,254.49 L204.48,255.54 L204.83,256.20 L205.18,257.12 L205.53,257.75 L205.88,258.23 L206.23,258.69 L206.57,259.09 L206.93,259.42 L207.27,259.68 L207.62,259.89 L207.97,260.05 L208.08,260.50 L208.08,260.50 Z" fill="#ffffff" fill-opacity="0.55" stroke="#555" stroke-width="0.6" stroke-dasharray="1.3 0.45"/>
<line x1="60.60" y1="234.30" x2="60.60" y2="260.50" stroke="#a3abf4" stroke-width="0.7"/>
<line x1="95.40" y1="234.30" x2="95.40" y2="260.50" stroke="#a3abf4" stroke-width="0.7"/>
<line x1="60.60" y1="246.60" x2="95.40" y2="246.60" stroke="#c2c7f7" stroke-width="0.6"/>
<text x="65.20" y="244.40" font-size="6.0" fill="#222" textLength="26.30" lengthAdjust="spacingAndGlyphs" stroke="#222" stroke-width="0.08">44.23±1.37</text>
<line x1="128.00" y1="234.30" x2="128.00" y2="260.50" stroke="#a3abf4" stroke-width="0.7"/>
<line x1="162.90" y1="234.30" x2="162.90" y2="260.50" stroke="#a3abf4" stroke-width="0.7"/>
<line x1="128.00" y1="246.60" x2="162.90" y2="246.60" stroke="#c2c7f7" stroke-width="0.6"/>
<text x="132.50" y="244.10" font-size="6.0" fill="#222" textLength="26.30" lengthAdjust="spacingAndGlyphs" stroke="#222" stroke-width="0.08">55.18±2.41</text>
<path d="M22.5,280.50 L18.2,280.50 L18.2,341.60 L22.5,341.60" fill="none" stroke="#8a8a8a" stroke-width="0.8"/>
<text x="14.20" y="310.80" font-size="5.6" fill="#111" text-anchor="middle" font-weight="bold" textLength="23.30" lengthAdjust="spacingAndGlyphs" transform="rotate(-90 14.20 310.80)">OVCAR-3</text>
<line x1="35.80" y1="278.10" x2="35.80" y2="304.30" stroke="#b8b8b8" stroke-width="0.6"/>
<line x1="35.80" y1="304.30" x2="93.60" y2="304.30" stroke="#b8b8b8" stroke-width="0.6"/>
<line x1="94.50" y1="305.20" x2="97.10" y2="305.20" stroke="#666" stroke-width="0.8"/>
<text x="65.60" y="310.80" font-size="5.9" fill="#333" text-anchor="middle" textLength="25.30" lengthAdjust="spacingAndGlyphs" stroke="#333" stroke-width="0.08">MitoTracker</text>
<line x1="102.70" y1="278.10" x2="102.70" y2="304.30" stroke="#b8b8b8" stroke-width="0.6"/>
<line x1="102.70" y1="304.30" x2="160.50" y2="304.30" stroke="#b8b8b8" stroke-width="0.6"/>
<line x1="161.40" y1="305.20" x2="164.00" y2="305.20" stroke="#666" stroke-width="0.8"/>
<text x="133.30" y="310.80" font-size="5.9" fill="#333" text-anchor="middle" textLength="25.30" lengthAdjust="spacingAndGlyphs" stroke="#333" stroke-width="0.08">MitoTracker</text>
<line x1="170.80" y1="278.10" x2="170.80" y2="304.30" stroke="#b8b8b8" stroke-width="0.6"/>
<line x1="170.80" y1="304.30" x2="228.60" y2="304.30" stroke="#b8b8b8" stroke-width="0.6"/>
<line x1="229.50" y1="305.20" x2="232.10" y2="305.20" stroke="#666" stroke-width="0.8"/>
<text x="202.40" y="310.80" font-size="5.9" fill="#333" text-anchor="middle" textLength="25.30" lengthAdjust="spacingAndGlyphs" stroke="#333" stroke-width="0.08">MitoTracker</text>
<text x="32.00" y="291.20" font-size="5.9" fill="#333" text-anchor="middle" textLength="15.00" lengthAdjust="spacingAndGlyphs" transform="rotate(-90 32.00 291.20)">Events</text>
<path d="M38.89,304.30 L38.89,303.79 L39.24,303.71 L39.59,303.63 L39.94,303.53 L40.29,303.42 L40.64,303.30 L40.99,303.16 L41.34,303.00 L41.69,302.83 L42.04,302.64 L42.39,302.42 L42.74,302.19 L43.09,301.96 L43.44,301.64 L43.79,301.28 L44.14,301.04 L44.49,300.58 L44.84,300.18 L45.19,299.76 L45.54,299.35 L45.89,298.95 L46.24,298.23 L46.59,297.84 L46.94,297.23 L47.29,296.23 L47.64,295.43 L47.99,294.72 L48.34,294.32 L48.69,293.37 L49.04,292.75 L49.39,291.94 L49.74,290.83 L50.09,289.84 L50.44,288.52 L50.79,287.55 L51.14,287.40 L51.49,286.41 L51.84,285.68 L52.19,284.68 L52.54,284.08 L52.89,283.42 L53.24,283.22 L53.59,281.88 L53.94,282.45 L54.29,283.08 L54.64,284.79 L54.99,286.05 L55.34,286.70 L55.69,287.88 L56.04,289.36 L56.39,290.71 L56.74,292.27 L57.09,293.19 L57.44,294.49 L57.79,295.28 L58.14,296.34 L58.49,297.08 L58.84,298.06 L59.19,298.74 L59.54,299.50 L59.89,300.11 L60.24,300.54 L60.59,300.93 L60.94,301.51 L61.29,301.88 L61.64,302.12 L61.99,302.42 L62.34,302.68 L62.69,302.90 L63.04,303.10 L63.39,303.28 L63.74,303.43 L64.09,303.56 L64.44,303.67 L64.79,303.76 L64.83,304.30" fill="none" stroke="#555" stroke-width="0.65" stroke-dasharray="1.3 0.45"/>
<path d="M103.35,304.30 L103.35,303.80 L103.70,303.76 L104.05,303.72 L104.40,303.67 L104.75,303.62 L105.10,303.57 L105.45,303.51 L105.80,303.45 L106.15,303.38 L106.50,303.31 L106.85,303.23 L107.20,303.15 L107.55,303.06 L107.90,302.96 L108.25,302.86 L108.60,302.75 L108.95,302.63 L109.30,302.50 L109.65,302.36 L110.00,302.25 L110.35,302.04 L110.70,301.98 L111.05,301.82 L111.40,301.58 L111.75,301.19 L112.10,301.02 L112.45,300.80 L112.80,300.78 L113.15,300.38 L113.50,300.03 L113.85,299.77 L114.20,299.15 L114.55,299.07 L114.90,298.66 L115.25,297.96 L115.60,297.58 L115.95,297.12 L116.30,297.01 L116.65,295.98 L117.00,295.07 L117.35,295.14 L117.70,294.52 L118.05,293.24 L118.40,292.89 L118.75,292.39 L119.10,290.75 L119.45,290.18 L119.80,289.01 L120.15,287.96 L120.50,286.83 L120.85,286.26 L121.20,285.71 L121.55,286.29 L121.90,285.68 L122.25,287.99 L122.60,287.91 L122.95,289.21 L123.30,290.45 L123.65,291.62 L124.00,293.23 L124.35,294.02 L124.70,295.42 L125.05,296.78 L125.40,297.33 L125.75,297.98 L126.10,299.14 L126.45,299.71 L126.80,300.20 L127.15,300.82 L127.50,301.30 L127.85,301.82 L128.20,302.27 L128.55,302.47 L128.90,302.76 L129.25,303.00 L129.60,303.22 L129.95,303.40 L130.30,303.55 L130.65,303.68 L131.00,303.79 L131.18,304.30 L131.18,304.30 Z" fill="#16d816" stroke="#3a3a3a" stroke-width="0.25"/>
<path d="M172.65,304.30 L172.65,303.80 L173.00,303.76 L173.35,303.72 L173.70,303.67 L174.05,303.62 L174.40,303.57 L174.75,303.51 L175.10,303.45 L175.45,303.38 L175.80,303.31 L176.15,303.23 L176.50,303.15 L176.85,303.06 L177.20,302.96 L177.55,302.86 L177.90,302.75 L178.25,302.63 L178.60,302.50 L178.95,302.36 L179.30,302.25 L179.65,302.04 L180.00,301.98 L180.35,301.82 L180.70,301.58 L181.05,301.19 L181.40,301.02 L181.75,300.80 L182.10,300.78 L182.45,300.38 L182.80,300.03 L183.15,299.77 L183.50,299.15 L183.85,299.07 L184.20,298.66 L184.55,297.96 L184.90,297.58 L185.25,297.12 L185.60,297.01 L185.95,295.98 L186.30,295.07 L186.65,295.14 L187.00,294.52 L187.35,293.24 L187.70,292.89 L188.05,292.39 L188.40,290.75 L188.75,290.18 L189.10,289.01 L189.45,287.96 L189.80,286.83 L190.15,286.26 L190.50,285.71 L190.85,286.29 L191.20,285.68 L191.55,287.99 L191.90,287.91 L192.25,289.21 L192.60,290.45 L192.95,291.62 L193.30,293.23 L193.65,294.02 L194.00,295.42 L194.35,296.78 L194.70,297.33 L195.05,297.98 L195.40,299.14 L195.75,299.71 L196.10,300.20 L196.45,300.82 L196.80,301.30 L197.15,301.82 L197.50,302.27 L197.85,302.47 L198.20,302.76 L198.55,303.00 L198.90,303.22 L199.25,303.40 L199.60,303.55 L199.95,303.68 L200.30,303.79 L200.48,304.30 L200.48,304.30 Z" fill="#16d816" fill-opacity="0.72" stroke="#555" stroke-width="0.3"/>
<path d="M176.19,304.30 L176.19,303.79 L176.54,303.71 L176.89,303.63 L177.24,303.53 L177.59,303.42 L177.94,303.30 L178.29,303.16 L178.64,303.00 L178.99,302.83 L179.34,302.64 L179.69,302.42 L180.04,302.19 L180.39,301.96 L180.74,301.64 L181.09,301.28 L181.44,301.04 L181.79,300.58 L182.14,300.18 L182.49,299.76 L182.84,299.35 L183.19,298.95 L183.54,298.23 L183.89,297.84 L184.24,297.23 L184.59,296.23 L184.94,295.43 L185.29,294.72 L185.64,294.32 L185.99,293.37 L186.34,292.75 L186.69,291.94 L187.04,290.83 L187.39,289.84 L187.74,288.52 L188.09,287.55 L188.44,287.40 L188.79,286.41 L189.14,285.68 L189.49,284.68 L189.84,284.08 L190.19,283.42 L190.54,283.22 L190.89,281.88 L191.24,282.45 L191.59,283.08 L191.94,284.79 L192.29,286.05 L192.64,286.70 L192.99,287.88 L193.34,289.36 L193.69,290.71 L194.04,292.27 L194.39,293.19 L194.74,294.49 L195.09,295.28 L195.44,296.34 L195.79,297.08 L196.14,298.06 L196.49,298.74 L196.84,299.50 L197.19,300.11 L197.54,300.54 L197.89,300.93 L198.24,301.51 L198.59,301.88 L198.94,302.12 L199.29,302.42 L199.64,302.68 L199.99,302.90 L200.34,303.10 L200.69,303.28 L201.04,303.43 L201.39,303.56 L201.74,303.67 L202.09,303.76 L202.12,304.30 L202.12,304.30 Z" fill="#ffffff" fill-opacity="0.55" stroke="#555" stroke-width="0.6" stroke-dasharray="1.3 0.45"/>
<line x1="53.40" y1="278.10" x2="53.40" y2="304.30" stroke="#a3abf4" stroke-width="0.7"/>
<line x1="91.50" y1="278.10" x2="91.50" y2="304.30" stroke="#a3abf4" stroke-width="0.7"/>
<text x="60.80" y="288.00" font-size="6.0" fill="#222" textLength="26.30" lengthAdjust="spacingAndGlyphs" stroke="#222" stroke-width="0.08">48.63±3.53</text>
<line x1="120.70" y1="278.10" x2="120.70" y2="304.30" stroke="#a3abf4" stroke-width="0.7"/>
<line x1="159.40" y1="278.10" x2="159.40" y2="304.30" stroke="#a3abf4" stroke-width="0.7"/>
<text x="128.30" y="287.70" font-size="6.0" fill="#222" textLength="26.30" lengthAdjust="spacingAndGlyphs" stroke="#222" stroke-width="0.08">43.41±2.01</text>
<line x1="35.80" y1="316.10" x2="35.80" y2="341.90" stroke="#b8b8b8" stroke-width="0.6"/>
<line x1="35.80" y1="341.90" x2="93.60" y2="341.90" stroke="#b8b8b8" stroke-width="0.6"/>
<line x1="94.50" y1="342.80" x2="97.10" y2="342.80" stroke="#666" stroke-width="0.8"/>
<text x="65.60" y="348.40" font-size="5.9" fill="#333" text-anchor="middle" textLength="11.90" lengthAdjust="spacingAndGlyphs" stroke="#333" stroke-width="0.08">TMRE</text>
<line x1="102.70" y1="316.10" x2="102.70" y2="341.90" stroke="#b8b8b8" stroke-width="0.6"/>
<line x1="102.70" y1="341.90" x2="160.50" y2="341.90" stroke="#b8b8b8" stroke-width="0.6"/>
<line x1="161.40" y1="342.80" x2="164.00" y2="342.80" stroke="#666" stroke-width="0.8"/>
<text x="133.30" y="348.40" font-size="5.9" fill="#333" text-anchor="middle" textLength="11.90" lengthAdjust="spacingAndGlyphs" stroke="#333" stroke-width="0.08">TMRE</text>
<line x1="170.80" y1="316.10" x2="170.80" y2="341.90" stroke="#b8b8b8" stroke-width="0.6"/>
<line x1="170.80" y1="341.90" x2="228.60" y2="341.90" stroke="#b8b8b8" stroke-width="0.6"/>
<line x1="229.50" y1="342.80" x2="232.10" y2="342.80" stroke="#666" stroke-width="0.8"/>
<text x="202.40" y="348.40" font-size="5.9" fill="#333" text-anchor="middle" textLength="11.90" lengthAdjust="spacingAndGlyphs" stroke="#333" stroke-width="0.08">TMRE</text>
<text x="32.00" y="329.00" font-size="5.9" fill="#333" text-anchor="middle" textLength="15.00" lengthAdjust="spacingAndGlyphs" transform="rotate(-90 32.00 329.00)">Events</text>
<path d="M40.02,341.90 L40.02,341.41 L40.37,341.34 L40.72,341.26 L41.07,341.17 L41.42,341.07 L41.77,340.96 L42.12,340.83 L42.47,340.69 L42.82,340.54 L43.17,340.36 L43.52,340.18 L43.87,339.97 L44.22,339.74 L44.57,339.45 L44.92,339.18 L45.27,338.93 L45.62,338.66 L45.97,338.20 L46.32,337.81 L46.67,337.43 L47.02,337.14 L47.37,336.49 L47.72,336.18 L48.07,335.63 L48.42,334.87 L48.77,334.44 L49.12,333.78 L49.47,333.11 L49.82,332.75 L50.17,331.54 L50.52,330.75 L50.87,330.60 L51.22,329.47 L51.57,328.53 L51.92,327.84 L52.27,327.07 L52.62,326.81 L52.97,325.35 L53.32,324.58 L53.67,324.21 L54.02,323.47 L54.37,323.26 L54.72,322.52 L55.07,321.41 L55.42,320.74 L55.77,321.12 L56.12,321.03 L56.47,319.70 L56.82,320.59 L57.17,320.83 L57.52,320.70 L57.87,320.38 L58.22,321.36 L58.57,321.61 L58.92,321.38 L59.27,322.36 L59.62,322.40 L59.97,322.78 L60.32,323.72 L60.67,324.38 L61.02,325.14 L61.37,326.09 L61.72,327.00 L62.07,327.85 L62.42,328.61 L62.77,329.38 L63.12,330.00 L63.47,330.44 L63.82,331.13 L64.17,332.15 L64.52,332.84 L64.87,333.61 L65.22,334.02 L65.57,334.73 L65.92,335.64 L66.27,336.11 L66.62,336.69 L66.97,337.04 L67.32,337.61 L67.67,338.18 L68.02,338.54 L68.37,338.98 L68.72,339.19 L69.07,339.55 L69.42,339.82 L69.77,340.09 L70.11,340.32 L70.46,340.53 L70.81,340.72 L71.16,340.89 L71.51,341.03 L71.86,341.16 L72.21,341.27 L72.56,341.37 L72.88,341.90" fill="none" stroke="#555" stroke-width="0.65" stroke-dasharray="1.3 0.45"/>
<path d="M105.45,341.90 L105.45,341.48 L105.80,341.43 L106.15,341.38 L106.50,341.33 L106.85,341.27 L107.20,341.20 L107.55,341.13 L107.90,341.06 L108.25,340.97 L108.60,340.88 L108.95,340.79 L109.30,340.68 L109.65,340.57 L110.00,340.45 L110.35,340.32 L110.70,340.18 L111.05,340.03 L111.40,339.87 L111.75,339.81 L112.10,339.47 L112.45,339.32 L112.80,339.15 L113.15,339.09 L113.50,338.69 L113.85,338.54 L114.20,338.10 L114.55,337.86 L114.90,337.80 L115.25,337.45 L115.60,337.23 L115.95,336.78 L116.30,336.47 L116.65,335.96 L117.00,335.61 L117.35,335.11 L117.70,334.80 L118.05,334.61 L118.40,334.31 L118.75,334.02 L119.10,333.53 L119.45,333.26 L119.80,332.76 L120.15,331.58 L120.50,332.04 L120.85,331.16 L121.20,330.63 L121.55,329.74 L121.90,329.34 L122.25,328.74 L122.60,328.29 L122.95,328.79 L123.30,327.75 L123.65,327.90 L124.00,327.79 L124.35,326.81 L124.70,325.73 L125.05,325.24 L125.40,326.22 L125.75,325.05 L126.10,324.44 L126.45,325.23 L126.80,323.51 L127.15,324.55 L127.50,322.69 L127.85,323.29 L128.20,322.92 L128.55,324.01 L128.90,322.90 L129.25,323.07 L129.60,323.52 L129.95,323.17 L130.30,323.58 L130.65,323.57 L131.00,322.20 L131.35,322.39 L131.70,323.06 L132.05,323.25 L132.40,324.34 L132.75,323.48 L133.10,325.50 L133.45,325.77 L133.80,326.21 L134.15,326.43 L134.50,328.18 L134.85,329.11 L135.20,330.42 L135.55,330.97 L135.90,332.71 L136.25,333.42 L136.60,334.86 L136.95,335.83 L137.30,337.01 L137.65,338.27 L138.00,339.10 L138.35,339.59 L138.70,340.22 L139.05,340.71 L139.40,341.08 L139.75,341.35 L140.10,341.55 L140.21,341.90 L140.21,341.90 Z" fill="#f01010" stroke="#3a3a3a" stroke-width="0.25"/>
<path d="M174.75,341.90 L174.75,341.48 L175.10,341.43 L175.45,341.38 L175.80,341.33 L176.15,341.27 L176.50,341.20 L176.85,341.13 L177.20,341.06 L177.55,340.97 L177.90,340.88 L178.25,340.79 L178.60,340.68 L178.95,340.57 L179.30,340.45 L179.65,340.32 L180.00,340.18 L180.35,340.03 L180.70,339.87 L181.05,339.81 L181.40,339.47 L181.75,339.32 L182.10,339.15 L182.45,339.09 L182.80,338.69 L183.15,338.54 L183.50,338.10 L183.85,337.86 L184.20,337.80 L184.55,337.45 L184.90,337.23 L185.25,336.78 L185.60,336.47 L185.95,335.96 L186.30,335.61 L186.65,335.11 L187.00,334.80 L187.35,334.61 L187.70,334.31 L188.05,334.02 L188.40,333.53 L188.75,333.26 L189.10,332.76 L189.45,331.58 L189.80,332.04 L190.15,331.16 L190.50,330.63 L190.85,329.74 L191.20,329.34 L191.55,328.74 L191.90,328.29 L192.25,328.79 L192.60,327.75 L192.95,327.90 L193.30,327.79 L193.65,326.81 L194.00,325.73 L194.35,325.24 L194.70,326.22 L195.05,325.05 L195.40,324.44 L195.75,325.23 L196.10,323.51 L196.45,324.55 L196.80,322.69 L197.15,323.29 L197.50,322.92 L197.85,324.01 L198.20,322.90 L198.55,323.07 L198.90,323.52 L199.25,323.17 L199.60,323.58 L199.95,323.57 L200.30,322.20 L200.65,322.39 L201.00,323.06 L201.35,323.25 L201.70,324.34 L202.05,323.48 L202.40,325.50 L202.75,325.77 L203.10,326.21 L203.45,326.43 L203.80,328.18 L204.15,329.11 L204.50,330.42 L204.85,330.97 L205.20,332.71 L205.55,333.42 L205.90,334.86 L206.25,335.83 L206.60,337.01 L206.95,338.27 L207.30,339.10 L207.65,339.59 L208.00,340.22 L208.35,340.71 L208.70,341.08 L209.05,341.35 L209.40,341.55 L209.51,341.90 L209.51,341.90 Z" fill="#f01010" fill-opacity="0.72" stroke="#555" stroke-width="0.3"/>
<path d="M177.31,341.90 L177.31,341.41 L177.67,341.34 L178.02,341.26 L178.37,341.17 L178.72,341.07 L179.07,340.96 L179.42,340.83 L179.77,340.69 L180.12,340.54 L180.47,340.36 L180.82,340.18 L181.17,339.97 L181.52,339.74 L181.87,339.45 L182.22,339.18 L182.57,338.93 L182.92,338.66 L183.27,338.20 L183.62,337.81 L183.97,337.43 L184.32,337.14 L184.67,336.49 L185.02,336.18 L185.37,335.63 L185.72,334.87 L186.07,334.44 L186.42,333.78 L186.77,333.11 L187.12,332.75 L187.47,331.54 L187.82,330.75 L188.17,330.60 L188.52,329.47 L188.87,328.53 L189.22,327.84 L189.57,327.07 L189.92,326.81 L190.27,325.35 L190.62,324.58 L190.97,324.21 L191.32,323.47 L191.67,323.26 L192.02,322.52 L192.37,321.41 L192.72,320.74 L193.07,321.12 L193.42,321.03 L193.77,319.70 L194.12,320.59 L194.47,320.83 L194.82,320.70 L195.17,320.38 L195.52,321.36 L195.87,321.61 L196.22,321.38 L196.57,322.36 L196.92,322.40 L197.27,322.78 L197.62,323.72 L197.97,324.38 L198.32,325.14 L198.67,326.09 L199.02,327.00 L199.37,327.85 L199.72,328.61 L200.07,329.38 L200.42,330.00 L200.77,330.44 L201.12,331.13 L201.47,332.15 L201.82,332.84 L202.17,333.61 L202.52,334.02 L202.87,334.73 L203.22,335.64 L203.57,336.11 L203.92,336.69 L204.27,337.04 L204.62,337.61 L204.97,338.18 L205.32,338.54 L205.67,338.98 L206.02,339.19 L206.37,339.55 L206.72,339.82 L207.06,340.09 L207.42,340.32 L207.76,340.53 L208.12,340.72 L208.46,340.89 L208.81,341.03 L209.16,341.16 L209.51,341.27 L209.86,341.37 L210.18,341.90 L210.18,341.90 Z" fill="#ffffff" fill-opacity="0.55" stroke="#555" stroke-width="0.6" stroke-dasharray="1.3 0.45"/>
<line x1="57.20" y1="316.10" x2="57.20" y2="341.90" stroke="#a3abf4" stroke-width="0.7"/>
<line x1="94.80" y1="316.10" x2="94.80" y2="341.90" stroke="#a3abf4" stroke-width="0.7"/>
<line x1="57.20" y1="326.60" x2="94.80" y2="326.60" stroke="#c2c7f7" stroke-width="0.6"/>
<text x="63.90" y="324.20" font-size="6.0" fill="#222" textLength="26.30" lengthAdjust="spacingAndGlyphs" stroke="#222" stroke-width="0.08">44.54±0.96</text>
<line x1="124.80" y1="316.10" x2="124.80" y2="341.90" stroke="#a3abf4" stroke-width="0.7"/>
<line x1="162.40" y1="316.10" x2="162.40" y2="341.90" stroke="#a3abf4" stroke-width="0.7"/>
<line x1="124.80" y1="325.70" x2="162.40" y2="325.70" stroke="#c2c7f7" stroke-width="0.6"/>
<text x="130.10" y="324.00" font-size="6.0" fill="#222" textLength="27.50" lengthAdjust="spacingAndGlyphs" stroke="#222" stroke-width="0.08">68.81±0.74</text>
<text x="247.60" y="60.50" font-size="4.8" fill="#6a6a6a" text-anchor="middle" textLength="44.50" lengthAdjust="spacingAndGlyphs" transform="rotate(-90 247.60 60.50)">Percentage (events)</text>
<line x1="260.00" y1="37.40" x2="260.00" y2="82.00" stroke="#777" stroke-width="0.6"/>
<line x1="260.00" y1="82.00" x2="326.50" y2="82.00" stroke="#777" stroke-width="0.6"/>
<line x1="258.60" y1="82.00" x2="260.00" y2="82.00" stroke="#777" stroke-width="0.5"/>
<text x="258.00" y="83.00" font-size="2.9" fill="#444" text-anchor="end">0</text>
<line x1="258.60" y1="73.08" x2="260.00" y2="73.08" stroke="#777" stroke-width="0.5"/>
<text x="258.00" y="74.08" font-size="2.9" fill="#444" text-anchor="end">20</text>
<line x1="258.60" y1="64.16" x2="260.00" y2="64.16" stroke="#777" stroke-width="0.5"/>
<text x="258.00" y="65.16" font-size="2.9" fill="#444" text-anchor="end">40</text>
<line x1="258.60" y1="55.24" x2="260.00" y2="55.24" stroke="#777" stroke-width="0.5"/>
<text x="258.00" y="56.24" font-size="2.9" fill="#444" text-anchor="end">60</text>
<line x1="258.60" y1="46.32" x2="260.00" y2="46.32" stroke="#777" stroke-width="0.5"/>
<text x="258.00" y="47.32" font-size="2.9" fill="#444" text-anchor="end">80</text>
<line x1="258.60" y1="37.40" x2="260.00" y2="37.40" stroke="#777" stroke-width="0.5"/>
<text x="258.00" y="38.40" font-size="2.9" fill="#444" text-anchor="end">100</text>
<line x1="271.50" y1="66.22" x2="271.50" y2="65.00" stroke="#333" stroke-width="0.5"/>
<line x1="269.10" y1="65.00" x2="273.90" y2="65.00" stroke="#333" stroke-width="0.5"/>
<rect x="266.00" y="66.22" width="11.00" height="15.78" fill="#000000"/>
<line x1="271.50" y1="82.00" x2="271.50" y2="83.20" stroke="#777" stroke-width="0.4"/>
<text x="272.10" y="87.00" font-size="3.1" fill="#444" text-anchor="end" textLength="20.50" lengthAdjust="spacingAndGlyphs" transform="rotate(-45 272.10 87.00)">sh-control MitoT</text>
<line x1="283.85" y1="65.19" x2="283.85" y2="63.27" stroke="#333" stroke-width="0.5"/>
<line x1="281.45" y1="63.27" x2="286.25" y2="63.27" stroke="#333" stroke-width="0.5"/>
<rect x="278.20" y="65.19" width="11.30" height="16.81" fill="#8f8f8f"/>
<line x1="283.85" y1="82.00" x2="283.85" y2="83.20" stroke="#777" stroke-width="0.4"/>
<text x="284.45" y="87.00" font-size="3.1" fill="#444" text-anchor="end" textLength="21.00" lengthAdjust="spacingAndGlyphs" transform="rotate(-45 284.45 87.00)">sh-TOM40 MitoT</text>
<line x1="303.35" y1="64.44" x2="303.35" y2="63.39" stroke="#333" stroke-width="0.5"/>
<line x1="300.95" y1="63.39" x2="305.75" y2="63.39" stroke="#333" stroke-width="0.5"/>
<rect x="297.80" y="64.44" width="11.10" height="17.56" fill="#6f6f6f"/>
<line x1="303.35" y1="82.00" x2="303.35" y2="83.20" stroke="#777" stroke-width="0.4"/>
<text x="303.95" y="87.00" font-size="3.1" fill="#444" text-anchor="end" textLength="21.50" lengthAdjust="spacingAndGlyphs" transform="rotate(-45 303.95 87.00)">sh-control TMRE</text>
<line x1="315.80" y1="60.04" x2="315.80" y2="58.64" stroke="#333" stroke-width="0.5"/>
<line x1="313.40" y1="58.64" x2="318.20" y2="58.64" stroke="#333" stroke-width="0.5"/>
<rect x="310.10" y="60.04" width="11.40" height="21.96" fill="#d6d6d6" stroke="#555" stroke-width="0.4"/>
<line x1="315.80" y1="82.00" x2="315.80" y2="83.20" stroke="#777" stroke-width="0.4"/>
<text x="316.40" y="87.00" font-size="3.1" fill="#444" text-anchor="end" textLength="23.50" lengthAdjust="spacingAndGlyphs" transform="rotate(-45 316.40 87.00)">sh-TOM40 TMRE</text>
<path d="M271.30,54.00 L271.30,51.60 L284.05,51.60 L284.05,54.00" fill="none" stroke="#666" stroke-width="0.5"/>
<text x="277.68" y="51.20" font-size="3.8" fill="#333" text-anchor="middle" textLength="1.60" lengthAdjust="spacingAndGlyphs">*</text>
<path d="M303.15,54.00 L303.15,51.60 L316.00,51.60 L316.00,54.00" fill="none" stroke="#666" stroke-width="0.5"/>
<text x="309.58" y="51.20" font-size="3.8" fill="#333" text-anchor="middle" textLength="4.80" lengthAdjust="spacingAndGlyphs">***</text>
<text x="247.60" y="144.55" font-size="4.8" fill="#6a6a6a" text-anchor="middle" textLength="44.50" lengthAdjust="spacingAndGlyphs" transform="rotate(-90 247.60 144.55)">Percentage (events)</text>
<line x1="259.50" y1="121.40" x2="259.50" y2="166.10" stroke="#777" stroke-width="0.6"/>
<line x1="259.50" y1="166.10" x2="326.00" y2="166.10" stroke="#777" stroke-width="0.6"/>
<line x1="258.10" y1="166.10" x2="259.50" y2="166.10" stroke="#777" stroke-width="0.5"/>
<text x="257.50" y="167.10" font-size="2.9" fill="#444" text-anchor="end">0</text>
<line x1="258.10" y1="157.16" x2="259.50" y2="157.16" stroke="#777" stroke-width="0.5"/>
<text x="257.50" y="158.16" font-size="2.9" fill="#444" text-anchor="end">20</text>
<line x1="258.10" y1="148.22" x2="259.50" y2="148.22" stroke="#777" stroke-width="0.5"/>
<text x="257.50" y="149.22" font-size="2.9" fill="#444" text-anchor="end">40</text>
<line x1="258.10" y1="139.28" x2="259.50" y2="139.28" stroke="#777" stroke-width="0.5"/>
<text x="257.50" y="140.28" font-size="2.9" fill="#444" text-anchor="end">60</text>
<line x1="258.10" y1="130.34" x2="259.50" y2="130.34" stroke="#777" stroke-width="0.5"/>
<text x="257.50" y="131.34" font-size="2.9" fill="#444" text-anchor="end">80</text>
<line x1="258.10" y1="121.40" x2="259.50" y2="121.40" stroke="#777" stroke-width="0.5"/>
<text x="257.50" y="122.40" font-size="2.9" fill="#444" text-anchor="end">100</text>
<line x1="271.00" y1="145.14" x2="271.00" y2="143.91" stroke="#333" stroke-width="0.5"/>
<line x1="268.60" y1="143.91" x2="273.40" y2="143.91" stroke="#333" stroke-width="0.5"/>
<rect x="265.50" y="145.14" width="11.00" height="20.96" fill="#000000"/>
<line x1="271.00" y1="166.10" x2="271.00" y2="167.30" stroke="#777" stroke-width="0.4"/>
<text x="271.60" y="171.10" font-size="3.1" fill="#444" text-anchor="end" textLength="20.50" lengthAdjust="spacingAndGlyphs" transform="rotate(-45 271.60 171.10)">sh-control MitoT</text>
<line x1="283.35" y1="138.44" x2="283.35" y2="138.12" stroke="#333" stroke-width="0.5"/>
<line x1="280.95" y1="138.12" x2="285.75" y2="138.12" stroke="#333" stroke-width="0.5"/>
<rect x="277.70" y="138.44" width="11.30" height="27.66" fill="#8f8f8f"/>
<line x1="283.35" y1="166.10" x2="283.35" y2="167.30" stroke="#777" stroke-width="0.4"/>
<text x="283.95" y="171.10" font-size="3.1" fill="#444" text-anchor="end" textLength="21.00" lengthAdjust="spacingAndGlyphs" transform="rotate(-45 283.95 171.10)">sh-TOM40 MitoT</text>
<line x1="302.85" y1="141.01" x2="302.85" y2="139.30" stroke="#333" stroke-width="0.5"/>
<line x1="300.45" y1="139.30" x2="305.25" y2="139.30" stroke="#333" stroke-width="0.5"/>
<rect x="297.30" y="141.01" width="11.10" height="25.09" fill="#6f6f6f"/>
<line x1="302.85" y1="166.10" x2="302.85" y2="167.30" stroke="#777" stroke-width="0.4"/>
<text x="303.45" y="171.10" font-size="3.1" fill="#444" text-anchor="end" textLength="21.50" lengthAdjust="spacingAndGlyphs" transform="rotate(-45 303.45 171.10)">sh-control TMRE</text>
<line x1="315.30" y1="135.02" x2="315.30" y2="134.56" stroke="#333" stroke-width="0.5"/>
<line x1="312.90" y1="134.56" x2="317.70" y2="134.56" stroke="#333" stroke-width="0.5"/>
<rect x="309.60" y="135.02" width="11.40" height="31.08" fill="#d6d6d6" stroke="#555" stroke-width="0.4"/>
<line x1="315.30" y1="166.10" x2="315.30" y2="167.30" stroke="#777" stroke-width="0.4"/>
<text x="315.90" y="171.10" font-size="3.1" fill="#444" text-anchor="end" textLength="23.50" lengthAdjust="spacingAndGlyphs" transform="rotate(-45 315.90 171.10)">sh-TOM40 TMRE</text>
<path d="M270.80,129.00 L270.80,126.60 L283.55,126.60 L283.55,129.00" fill="none" stroke="#666" stroke-width="0.5"/>
<text x="277.18" y="126.20" font-size="3.8" fill="#333" text-anchor="middle" textLength="6.40" lengthAdjust="spacingAndGlyphs">****</text>
<path d="M302.65,129.10 L302.65,126.70 L315.50,126.70 L315.50,129.10" fill="none" stroke="#666" stroke-width="0.5"/>
<text x="309.08" y="126.30" font-size="3.8" fill="#333" text-anchor="middle" textLength="4.80" lengthAdjust="spacingAndGlyphs">***</text>
<text x="247.60" y="224.65" font-size="4.8" fill="#6a6a6a" text-anchor="middle" textLength="44.50" lengthAdjust="spacingAndGlyphs" transform="rotate(-90 247.60 224.65)">Percentage (events)</text>
<line x1="261.20" y1="201.50" x2="261.20" y2="246.20" stroke="#777" stroke-width="0.6"/>
<line x1="261.20" y1="246.20" x2="327.70" y2="246.20" stroke="#777" stroke-width="0.6"/>
<line x1="259.80" y1="246.20" x2="261.20" y2="246.20" stroke="#777" stroke-width="0.5"/>
<text x="259.20" y="247.20" font-size="2.9" fill="#444" text-anchor="end">0</text>
<line x1="259.80" y1="237.26" x2="261.20" y2="237.26" stroke="#777" stroke-width="0.5"/>
<text x="259.20" y="238.26" font-size="2.9" fill="#444" text-anchor="end">20</text>
<line x1="259.80" y1="228.32" x2="261.20" y2="228.32" stroke="#777" stroke-width="0.5"/>
<text x="259.20" y="229.32" font-size="2.9" fill="#444" text-anchor="end">40</text>
<line x1="259.80" y1="219.38" x2="261.20" y2="219.38" stroke="#777" stroke-width="0.5"/>
<text x="259.20" y="220.38" font-size="2.9" fill="#444" text-anchor="end">60</text>
<line x1="259.80" y1="210.44" x2="261.20" y2="210.44" stroke="#777" stroke-width="0.5"/>
<text x="259.20" y="211.44" font-size="2.9" fill="#444" text-anchor="end">80</text>
<line x1="259.80" y1="201.50" x2="261.20" y2="201.50" stroke="#777" stroke-width="0.5"/>
<text x="259.20" y="202.50" font-size="2.9" fill="#444" text-anchor="end">100</text>
<line x1="272.70" y1="233.09" x2="272.70" y2="231.13" stroke="#333" stroke-width="0.5"/>
<line x1="270.30" y1="231.13" x2="275.10" y2="231.13" stroke="#333" stroke-width="0.5"/>
<rect x="267.20" y="233.09" width="11.00" height="13.11" fill="#000000"/>
<line x1="272.70" y1="246.20" x2="272.70" y2="247.40" stroke="#777" stroke-width="0.4"/>
<text x="273.30" y="251.20" font-size="3.1" fill="#444" text-anchor="end" textLength="20.50" lengthAdjust="spacingAndGlyphs" transform="rotate(-45 273.30 251.20)">sh-control MitoT</text>
<line x1="285.05" y1="227.16" x2="285.05" y2="225.21" stroke="#333" stroke-width="0.5"/>
<line x1="282.65" y1="225.21" x2="287.45" y2="225.21" stroke="#333" stroke-width="0.5"/>
<rect x="279.40" y="227.16" width="11.30" height="19.04" fill="#8f8f8f"/>
<line x1="285.05" y1="246.20" x2="285.05" y2="247.40" stroke="#777" stroke-width="0.4"/>
<text x="285.65" y="251.20" font-size="3.1" fill="#444" text-anchor="end" textLength="21.00" lengthAdjust="spacingAndGlyphs" transform="rotate(-45 285.65 251.20)">sh-TOM40 MitoT</text>
<line x1="304.55" y1="226.43" x2="304.55" y2="225.82" stroke="#333" stroke-width="0.5"/>
<line x1="302.15" y1="225.82" x2="306.95" y2="225.82" stroke="#333" stroke-width="0.5"/>
<rect x="299.00" y="226.43" width="11.10" height="19.77" fill="#6f6f6f"/>
<line x1="304.55" y1="246.20" x2="304.55" y2="247.40" stroke="#777" stroke-width="0.4"/>
<text x="305.15" y="251.20" font-size="3.1" fill="#444" text-anchor="end" textLength="21.50" lengthAdjust="spacingAndGlyphs" transform="rotate(-45 305.15 251.20)">sh-control TMRE</text>
<line x1="317.00" y1="221.53" x2="317.00" y2="220.46" stroke="#333" stroke-width="0.5"/>
<line x1="314.60" y1="220.46" x2="319.40" y2="220.46" stroke="#333" stroke-width="0.5"/>
<rect x="311.30" y="221.53" width="11.40" height="24.67" fill="#d6d6d6" stroke="#555" stroke-width="0.4"/>
<line x1="317.00" y1="246.20" x2="317.00" y2="247.40" stroke="#777" stroke-width="0.4"/>
<text x="317.60" y="251.20" font-size="3.1" fill="#444" text-anchor="end" textLength="23.50" lengthAdjust="spacingAndGlyphs" transform="rotate(-45 317.60 251.20)">sh-TOM40 TMRE</text>
<path d="M272.50,215.40 L272.50,213.00 L285.25,213.00 L285.25,215.40" fill="none" stroke="#666" stroke-width="0.5"/>
<text x="278.88" y="212.60" font-size="3.8" fill="#333" text-anchor="middle" textLength="4.80" lengthAdjust="spacingAndGlyphs">***</text>
<path d="M304.35,215.40 L304.35,213.00 L317.20,213.00 L317.20,215.40" fill="none" stroke="#666" stroke-width="0.5"/>
<text x="310.77" y="212.60" font-size="3.8" fill="#333" text-anchor="middle" textLength="4.80" lengthAdjust="spacingAndGlyphs">***</text>
<text x="247.60" y="310.30" font-size="4.8" fill="#6a6a6a" text-anchor="middle" textLength="44.50" lengthAdjust="spacingAndGlyphs" transform="rotate(-90 247.60 310.30)">Percentage (events)</text>
<line x1="261.00" y1="287.00" x2="261.00" y2="332.00" stroke="#777" stroke-width="0.6"/>
<line x1="261.00" y1="332.00" x2="327.50" y2="332.00" stroke="#777" stroke-width="0.6"/>
<line x1="259.60" y1="332.00" x2="261.00" y2="332.00" stroke="#777" stroke-width="0.5"/>
<text x="259.00" y="333.00" font-size="2.9" fill="#444" text-anchor="end">0</text>
<line x1="259.60" y1="323.00" x2="261.00" y2="323.00" stroke="#777" stroke-width="0.5"/>
<text x="259.00" y="324.00" font-size="2.9" fill="#444" text-anchor="end">20</text>
<line x1="259.60" y1="314.00" x2="261.00" y2="314.00" stroke="#777" stroke-width="0.5"/>
<text x="259.00" y="315.00" font-size="2.9" fill="#444" text-anchor="end">40</text>
<line x1="259.60" y1="305.00" x2="261.00" y2="305.00" stroke="#777" stroke-width="0.5"/>
<text x="259.00" y="306.00" font-size="2.9" fill="#444" text-anchor="end">60</text>
<line x1="259.60" y1="296.00" x2="261.00" y2="296.00" stroke="#777" stroke-width="0.5"/>
<text x="259.00" y="297.00" font-size="2.9" fill="#444" text-anchor="end">80</text>
<line x1="259.60" y1="287.00" x2="261.00" y2="287.00" stroke="#777" stroke-width="0.5"/>
<text x="259.00" y="288.00" font-size="2.9" fill="#444" text-anchor="end">100</text>
<line x1="272.50" y1="310.12" x2="272.50" y2="308.53" stroke="#333" stroke-width="0.5"/>
<line x1="270.10" y1="308.53" x2="274.90" y2="308.53" stroke="#333" stroke-width="0.5"/>
<rect x="267.00" y="310.12" width="11.00" height="21.88" fill="#000000"/>
<line x1="272.50" y1="332.00" x2="272.50" y2="333.20" stroke="#777" stroke-width="0.4"/>
<text x="273.10" y="337.00" font-size="3.1" fill="#444" text-anchor="end" textLength="20.50" lengthAdjust="spacingAndGlyphs" transform="rotate(-45 273.10 337.00)">sh-control MitoT</text>
<line x1="284.85" y1="312.47" x2="284.85" y2="311.56" stroke="#333" stroke-width="0.5"/>
<line x1="282.45" y1="311.56" x2="287.25" y2="311.56" stroke="#333" stroke-width="0.5"/>
<rect x="279.20" y="312.47" width="11.30" height="19.53" fill="#8f8f8f"/>
<line x1="284.85" y1="332.00" x2="284.85" y2="333.20" stroke="#777" stroke-width="0.4"/>
<text x="285.45" y="337.00" font-size="3.1" fill="#444" text-anchor="end" textLength="21.00" lengthAdjust="spacingAndGlyphs" transform="rotate(-45 285.45 337.00)">sh-TOM40 MitoT</text>
<line x1="304.35" y1="311.96" x2="304.35" y2="311.52" stroke="#333" stroke-width="0.5"/>
<line x1="301.95" y1="311.52" x2="306.75" y2="311.52" stroke="#333" stroke-width="0.5"/>
<rect x="298.80" y="311.96" width="11.10" height="20.04" fill="#6f6f6f"/>
<line x1="304.35" y1="332.00" x2="304.35" y2="333.20" stroke="#777" stroke-width="0.4"/>
<text x="304.95" y="337.00" font-size="3.1" fill="#444" text-anchor="end" textLength="21.50" lengthAdjust="spacingAndGlyphs" transform="rotate(-45 304.95 337.00)">sh-control TMRE</text>
<line x1="316.80" y1="301.04" x2="316.80" y2="300.70" stroke="#333" stroke-width="0.5"/>
<line x1="314.40" y1="300.70" x2="319.20" y2="300.70" stroke="#333" stroke-width="0.5"/>
<rect x="311.10" y="301.04" width="11.40" height="30.96" fill="#d6d6d6" stroke="#555" stroke-width="0.4"/>
<line x1="316.80" y1="332.00" x2="316.80" y2="333.20" stroke="#777" stroke-width="0.4"/>
<text x="317.40" y="337.00" font-size="3.1" fill="#444" text-anchor="end" textLength="23.50" lengthAdjust="spacingAndGlyphs" transform="rotate(-45 317.40 337.00)">sh-TOM40 TMRE</text>
<path d="M272.30,294.80 L272.30,292.40 L285.05,292.40 L285.05,294.80" fill="none" stroke="#666" stroke-width="0.5"/>
<text x="278.68" y="292.00" font-size="3.8" fill="#333" text-anchor="middle" textLength="1.60" lengthAdjust="spacingAndGlyphs">*</text>
<path d="M304.15,295.70 L304.15,293.30 L317.00,293.30 L317.00,295.70" fill="none" stroke="#666" stroke-width="0.5"/>
<text x="310.58" y="292.90" font-size="3.8" fill="#333" text-anchor="middle" textLength="6.40" lengthAdjust="spacingAndGlyphs">****</text>
<text x="102.50" y="376.60" font-size="9.2" fill="#111" font-weight="bold" textLength="9.20" lengthAdjust="spacingAndGlyphs">D.</text>
<text x="153.10" y="385.40" font-size="5.0" fill="#222" text-anchor="middle" textLength="22.40" lengthAdjust="spacingAndGlyphs">sh-Control</text>
<text x="223.00" y="385.40" font-size="5.0" fill="#222" text-anchor="middle" textLength="23.40" lengthAdjust="spacingAndGlyphs">sh-TOM40</text>
<text x="117.20" y="421.50" font-size="4.7" fill="#333" text-anchor="middle" textLength="22.60" lengthAdjust="spacingAndGlyphs" transform="rotate(-90 117.20 421.50)">OVCA-433</text>
<text x="117.20" y="466.20" font-size="4.7" fill="#333" text-anchor="middle" textLength="18.00" lengthAdjust="spacingAndGlyphs" transform="rotate(-90 117.20 466.20)">RMUG-S</text>
<text x="117.20" y="516.00" font-size="4.7" fill="#333" text-anchor="middle" textLength="16.50" lengthAdjust="spacingAndGlyphs" transform="rotate(-90 117.20 516.00)">SK-OV-3</text>
<clipPath id="cp00"><rect x="119.90" y="388.70" width="67.80" height="51.20"/></clipPath>
<g clip-path="url(#cp00)">
<rect x="119.90" y="388.70" width="67.80" height="51.20" fill="#120309"/>
<g filter="url(#soft)">
<circle cx="129.99" cy="412.02" r="0.90" fill="#1f4cc9"/>
<circle cx="172.00" cy="424.70" r="1.05" fill="#1f4cc9"/>
<circle cx="125.59" cy="412.07" r="2.09" fill="#b3182a" fill-opacity="0.12"/>
<circle cx="125.59" cy="412.07" r="1.04" fill="#1f4cc9"/>
<circle cx="123.42" cy="436.21" r="1.00" fill="#1f4cc9"/>
<circle cx="140.99" cy="427.86" r="0.92" fill="#1f4cc9"/>
<circle cx="133.90" cy="398.03" r="2.06" fill="#b3182a" fill-opacity="0.12"/>
<circle cx="133.90" cy="398.03" r="1.03" fill="#1f4cc9"/>
<circle cx="132.87" cy="406.56" r="2.06" fill="#b3182a" fill-opacity="0.12"/>
<circle cx="132.87" cy="406.56" r="1.03" fill="#1f4cc9"/>
<circle cx="162.29" cy="437.74" r="0.92" fill="#1f4cc9"/>
<circle cx="134.37" cy="437.38" r="0.95" fill="#1f4cc9"/>
<circle cx="157.52" cy="434.60" r="1.05" fill="#1f4cc9"/>
<circle cx="120.58" cy="409.01" r="0.88" fill="#1f4cc9"/>
<circle cx="133.15" cy="431.56" r="1.93" fill="#b3182a" fill-opacity="0.12"/>
<circle cx="133.15" cy="431.56" r="0.96" fill="#1f4cc9"/>
<circle cx="150.32" cy="421.27" r="0.93" fill="#1f4cc9"/>
<circle cx="157.43" cy="438.01" r="0.92" fill="#1f4cc9"/>
<circle cx="161.13" cy="425.30" r="1.04" fill="#1f4cc9"/>
<circle cx="139.68" cy="418.87" r="1.03" fill="#1f4cc9"/>
<circle cx="152.70" cy="427.53" r="1.99" fill="#b3182a" fill-opacity="0.12"/>
<circle cx="152.70" cy="427.53" r="1.00" fill="#1f4cc9"/>
<circle cx="174.89" cy="434.06" r="1.92" fill="#b3182a" fill-opacity="0.12"/>
<circle cx="174.89" cy="434.06" r="0.96" fill="#1f4cc9"/>
<circle cx="168.23" cy="427.81" r="0.87" fill="#1f4cc9"/>
<circle cx="165.63" cy="432.58" r="1.07" fill="#1f4cc9"/>
<circle cx="131.27" cy="427.15" r="0.85" fill="#1f4cc9"/>
<circle cx="123.61" cy="419.13" r="0.90" fill="#1f4cc9"/>
<circle cx="161.94" cy="421.93" r="1.07" fill="#1f4cc9"/>
<circle cx="142.63" cy="389.63" r="1.04" fill="#1f4cc9"/>
<circle cx="127.86" cy="398.76" r="1.80" fill="#b3182a" fill-opacity="0.12"/>
<circle cx="127.86" cy="398.76" r="0.90" fill="#1f4cc9"/>
<circle cx="155.50" cy="425.44" r="0.94" fill="#1f4cc9"/>
<circle cx="133.51" cy="401.59" r="0.87" fill="#1f4cc9"/>
<circle cx="147.22" cy="416.35" r="1.08" fill="#1f4cc9"/>
<circle cx="147.93" cy="436.08" r="0.88" fill="#1f4cc9"/>
<circle cx="147.13" cy="402.18" r="1.08" fill="#1f4cc9"/>
<circle cx="138.44" cy="402.73" r="0.91" fill="#1f4cc9"/>
<circle cx="140.66" cy="436.40" r="1.04" fill="#1f4cc9"/>
<circle cx="135.79" cy="389.49" r="1.03" fill="#1f4cc9"/>
<circle cx="125.58" cy="404.08" r="0.91" fill="#1f4cc9"/>
<circle cx="177.54" cy="430.55" r="0.86" fill="#1f4cc9"/>
<circle cx="143.90" cy="423.10" r="1.78" fill="#b3182a" fill-opacity="0.12"/>
<circle cx="143.90" cy="423.10" r="0.89" fill="#1f4cc9"/>
<circle cx="150.06" cy="425.85" r="1.10" fill="#1f4cc9"/>
<circle cx="143.89" cy="429.52" r="1.03" fill="#1f4cc9"/>
<circle cx="129.85" cy="434.08" r="1.09" fill="#1f4cc9"/>
<circle cx="120.42" cy="426.20" r="1.05" fill="#1f4cc9"/>
<circle cx="150.22" cy="399.76" r="1.10" fill="#1f4cc9"/>
<circle cx="129.34" cy="418.58" r="0.86" fill="#1f4cc9"/>
<circle cx="140.41" cy="432.68" r="1.95" fill="#b3182a" fill-opacity="0.12"/>
<circle cx="140.41" cy="432.68" r="0.98" fill="#1f4cc9"/>
<circle cx="146.64" cy="412.19" r="0.96" fill="#1f4cc9"/>
<circle cx="126.08" cy="391.36" r="1.04" fill="#1f4cc9"/>
<circle cx="149.87" cy="390.01" r="1.08" fill="#1f4cc9"/>
<circle cx="130.57" cy="394.37" r="1.03" fill="#1f4cc9"/>
<circle cx="122.55" cy="389.72" r="1.05" fill="#1f4cc9"/>
<circle cx="122.17" cy="415.58" r="0.86" fill="#1f4cc9"/>
<circle cx="184.91" cy="427.81" r="1.93" fill="#b3182a" fill-opacity="0.12"/>
<circle cx="184.91" cy="427.81" r="0.96" fill="#1f4cc9"/>
<circle cx="166.99" cy="436.26" r="0.90" fill="#1f4cc9"/>
<circle cx="141.37" cy="399.31" r="1.03" fill="#1f4cc9"/>
<circle cx="138.19" cy="422.73" r="0.95" fill="#1f4cc9"/>
<circle cx="148.78" cy="408.30" r="1.02" fill="#1f4cc9"/>
<circle cx="122.05" cy="402.47" r="1.03" fill="#1f4cc9"/>
<circle cx="143.88" cy="397.58" r="0.90" fill="#1f4cc9"/>
<circle cx="153.73" cy="438.98" r="2.15" fill="#b3182a" fill-opacity="0.12"/>
<circle cx="153.73" cy="438.98" r="1.07" fill="#1f4cc9"/>
<circle cx="146.92" cy="405.42" r="1.80" fill="#b3182a" fill-opacity="0.12"/>
<circle cx="146.92" cy="405.42" r="0.90" fill="#1f4cc9"/>
<circle cx="181.94" cy="426.34" r="0.88" fill="#1f4cc9"/>
<circle cx="134.41" cy="392.90" r="2.06" fill="#b3182a" fill-opacity="0.12"/>
<circle cx="134.41" cy="392.90" r="1.03" fill="#1f4cc9"/>
<circle cx="178.09" cy="426.75" r="2.02" fill="#b3182a" fill-opacity="0.12"/>
<circle cx="178.09" cy="426.75" r="1.01" fill="#1f4cc9"/>
<circle cx="145.36" cy="438.54" r="0.95" fill="#1f4cc9"/>
<circle cx="184.96" cy="436.70" r="0.86" fill="#1f4cc9"/>
<circle cx="173.67" cy="420.77" r="0.85" fill="#1f4cc9"/>
<circle cx="123.07" cy="423.63" r="1.06" fill="#1f4cc9"/>
<circle cx="158.01" cy="431.48" r="1.02" fill="#1f4cc9"/>
<circle cx="133.49" cy="411.66" r="1.09" fill="#1f4cc9"/>
<circle cx="133.98" cy="421.49" r="0.96" fill="#1f4cc9"/>
<circle cx="146.37" cy="390.27" r="0.95" fill="#1f4cc9"/>
<circle cx="147.15" cy="394.60" r="0.97" fill="#1f4cc9"/>
<circle cx="163.16" cy="434.71" r="0.92" fill="#1f4cc9"/>
<circle cx="140.98" cy="415.54" r="1.96" fill="#b3182a" fill-opacity="0.12"/>
<circle cx="140.98" cy="415.54" r="0.98" fill="#1f4cc9"/>
<circle cx="167.99" cy="423.26" r="0.98" fill="#1f4cc9"/>
<circle cx="121.56" cy="392.77" r="0.86" fill="#1f4cc9"/>
<circle cx="138.91" cy="410.36" r="1.90" fill="#b3182a" fill-opacity="0.12"/>
<circle cx="138.91" cy="410.36" r="0.95" fill="#1f4cc9"/>
<circle cx="181.62" cy="430.50" r="2.11" fill="#b3182a" fill-opacity="0.12"/>
<circle cx="181.62" cy="430.50" r="1.06" fill="#1f4cc9"/>
<circle cx="187.16" cy="434.19" r="0.87" fill="#1f4cc9"/>
<circle cx="149.90" cy="414.68" r="1.05" fill="#1f4cc9"/>
<circle cx="129.72" cy="406.84" r="1.07" fill="#1f4cc9"/>
<circle cx="138.80" cy="439.46" r="1.06" fill="#1f4cc9"/>
<circle cx="123.25" cy="428.48" r="1.70" fill="#b3182a" fill-opacity="0.12"/>
<circle cx="123.25" cy="428.48" r="0.85" fill="#1f4cc9"/>
<circle cx="168.84" cy="432.32" r="0.88" fill="#1f4cc9"/>
<circle cx="120.22" cy="429.97" r="1.03" fill="#1f4cc9"/>
<circle cx="187.26" cy="430.94" r="0.96" fill="#1f4cc9"/>
<circle cx="180.38" cy="438.39" r="0.94" fill="#1f4cc9"/>
<circle cx="151.45" cy="432.13" r="0.92" fill="#1f4cc9"/>
<circle cx="164.92" cy="425.22" r="0.92" fill="#1f4cc9"/>
<circle cx="172.07" cy="430.76" r="1.98" fill="#b3182a" fill-opacity="0.12"/>
<circle cx="172.07" cy="430.76" r="0.99" fill="#1f4cc9"/>
<circle cx="144.89" cy="433.96" r="1.91" fill="#b3182a" fill-opacity="0.12"/>
<circle cx="144.89" cy="433.96" r="0.95" fill="#1f4cc9"/>
<circle cx="127.92" cy="437.81" r="2.12" fill="#b3182a" fill-opacity="0.12"/>
<circle cx="127.92" cy="437.81" r="1.06" fill="#1f4cc9"/>
<circle cx="120.34" cy="421.38" r="2.01" fill="#b3182a" fill-opacity="0.12"/>
<circle cx="120.34" cy="421.38" r="1.01" fill="#1f4cc9"/>
<circle cx="126.54" cy="434.26" r="0.89" fill="#1f4cc9"/>
<circle cx="136.32" cy="405.66" r="0.99" fill="#1f4cc9"/>
<circle cx="140.45" cy="405.17" r="1.07" fill="#1f4cc9"/>
<circle cx="138.43" cy="391.59" r="0.94" fill="#1f4cc9"/>
<circle cx="131.60" cy="389.23" r="1.76" fill="#b3182a" fill-opacity="0.12"/>
<circle cx="131.60" cy="389.23" r="0.88" fill="#1f4cc9"/>
<circle cx="164.94" cy="421.47" r="1.05" fill="#1f4cc9"/>
<circle cx="121.52" cy="398.77" r="0.90" fill="#1f4cc9"/>
<circle cx="181.49" cy="422.34" r="1.03" fill="#1f4cc9"/>
<circle cx="146.16" cy="425.95" r="0.93" fill="#1f4cc9"/>
<circle cx="140.89" cy="394.82" r="1.02" fill="#1f4cc9"/>
<circle cx="134.36" cy="418.46" r="0.98" fill="#1f4cc9"/>
<circle cx="171.59" cy="437.90" r="0.87" fill="#1f4cc9"/>
<circle cx="136.74" cy="413.85" r="0.95" fill="#1f4cc9"/>
<circle cx="187.01" cy="421.64" r="0.90" fill="#1f4cc9"/>
<circle cx="143.68" cy="411.41" r="1.05" fill="#1f4cc9"/>
<circle cx="150.50" cy="439.16" r="1.00" fill="#1f4cc9"/>
<circle cx="124.00" cy="394.71" r="2.18" fill="#b3182a" fill-opacity="0.12"/>
<circle cx="124.00" cy="394.71" r="1.09" fill="#1f4cc9"/>
<circle cx="163.02" cy="428.80" r="0.87" fill="#1f4cc9"/>
<circle cx="134.97" cy="426.93" r="0.94" fill="#1f4cc9"/>
<circle cx="128.77" cy="414.97" r="0.87" fill="#1f4cc9"/>
<circle cx="120.94" cy="412.39" r="0.85" fill="#1f4cc9"/>
<circle cx="177.50" cy="421.94" r="0.95" fill="#1f4cc9"/>
<circle cx="149.12" cy="428.75" r="0.86" fill="#1f4cc9"/>
<circle cx="122.43" cy="439.41" r="2.05" fill="#b3182a" fill-opacity="0.12"/>
<circle cx="122.43" cy="439.41" r="1.02" fill="#1f4cc9"/>
<circle cx="123.07" cy="406.93" r="1.07" fill="#1f4cc9"/>
<circle cx="124.41" cy="431.53" r="1.07" fill="#1f4cc9"/>
<circle cx="175.82" cy="424.74" r="0.96" fill="#1f4cc9"/>
<circle cx="127.63" cy="422.01" r="0.94" fill="#1f4cc9"/>
<circle cx="153.55" cy="421.91" r="1.07" fill="#1f4cc9"/>
<circle cx="138.06" cy="397.15" r="1.03" fill="#1f4cc9"/>
<circle cx="143.99" cy="407.51" r="2.15" fill="#b3182a" fill-opacity="0.12"/>
<circle cx="143.99" cy="407.51" r="1.07" fill="#1f4cc9"/>
<circle cx="174.49" cy="439.14" r="2.15" fill="#b3182a" fill-opacity="0.12"/>
<circle cx="174.49" cy="439.14" r="1.07" fill="#1f4cc9"/>
<circle cx="154.42" cy="433.73" r="1.07" fill="#1f4cc9"/>
<circle cx="136.58" cy="432.77" r="1.10" fill="#1f4cc9"/>
<circle cx="156.65" cy="421.46" r="1.96" fill="#b3182a" fill-opacity="0.12"/>
<circle cx="156.65" cy="421.46" r="0.98" fill="#1f4cc9"/>
<circle cx="142.96" cy="419.38" r="1.02" fill="#1f4cc9"/>
<circle cx="183.58" cy="433.62" r="0.89" fill="#1f4cc9"/>
<circle cx="170.63" cy="420.73" r="0.90" fill="#1f4cc9"/>
<circle cx="158.25" cy="427.86" r="2.12" fill="#b3182a" fill-opacity="0.12"/>
<circle cx="158.25" cy="427.86" r="1.06" fill="#1f4cc9"/>
<circle cx="127.72" cy="430.17" r="0.88" fill="#1f4cc9"/>
<circle cx="167.85" cy="439.33" r="1.09" fill="#1f4cc9"/>
<circle cx="180.55" cy="435.08" r="0.88" fill="#1f4cc9"/>
<circle cx="120.85" cy="433.95" r="1.00" fill="#1f4cc9"/>
<circle cx="129.16" cy="403.32" r="1.04" fill="#1f4cc9"/>
<circle cx="174.54" cy="428.83" r="1.05" fill="#1f4cc9"/>
<circle cx="131.96" cy="414.50" r="0.96" fill="#1f4cc9"/>
<circle cx="147.71" cy="419.50" r="1.02" fill="#1f4cc9"/>
<circle cx="141.05" cy="424.29" r="1.09" fill="#1f4cc9"/>
<circle cx="126.38" cy="408.10" r="0.96" fill="#1f4cc9"/>
<circle cx="137.32" cy="429.30" r="0.94" fill="#1f4cc9"/>
<circle cx="149.91" cy="396.34" r="1.89" fill="#b3182a" fill-opacity="0.12"/>
<circle cx="149.91" cy="396.34" r="0.95" fill="#1f4cc9"/>
<circle cx="147.86" cy="432.56" r="0.94" fill="#1f4cc9"/>
<circle cx="177.25" cy="437.77" r="1.10" fill="#1f4cc9"/>
<circle cx="143.35" cy="402.51" r="1.04" fill="#1f4cc9"/>
<circle cx="131.43" cy="438.54" r="0.85" fill="#1f4cc9"/>
<circle cx="130.83" cy="423.73" r="1.70" fill="#b3182a" fill-opacity="0.12"/>
<circle cx="130.83" cy="423.73" r="0.85" fill="#1f4cc9"/>
<circle cx="144.19" cy="415.32" r="1.01" fill="#1f4cc9"/>
<circle cx="149.91" cy="411.63" r="0.90" fill="#1f4cc9"/>
<circle cx="125.73" cy="416.73" r="0.91" fill="#1f4cc9"/>
<circle cx="184.15" cy="423.74" r="0.96" fill="#1f4cc9"/>
<circle cx="127.49" cy="425.67" r="0.87" fill="#1f4cc9"/>
<circle cx="151.81" cy="435.93" r="1.00" fill="#1f4cc9"/>
<circle cx="171.72" cy="434.77" r="0.94" fill="#1f4cc9"/>
<circle cx="143.51" cy="392.53" r="0.85" fill="#1f4cc9"/>
<circle cx="149.77" cy="404.20" r="1.04" fill="#1f4cc9"/>
<circle cx="183.64" cy="439.59" r="0.99" fill="#1f4cc9"/>
<circle cx="130.63" cy="400.48" r="2.15" fill="#b3182a" fill-opacity="0.12"/>
<circle cx="130.63" cy="400.48" r="1.07" fill="#1f4cc9"/>
<circle cx="154.42" cy="430.46" r="0.94" fill="#1f4cc9"/>
<circle cx="187.14" cy="424.78" r="0.91" fill="#1f4cc9"/>
<circle cx="142.11" cy="439.40" r="1.07" fill="#1f4cc9"/>
<circle cx="137.31" cy="436.78" r="1.08" fill="#1f4cc9"/>
<circle cx="147.08" cy="422.58" r="1.07" fill="#1f4cc9"/>
<circle cx="135.23" cy="408.76" r="1.85" fill="#b3182a" fill-opacity="0.12"/>
<circle cx="135.23" cy="408.76" r="0.93" fill="#1f4cc9"/>
<circle cx="124.88" cy="400.29" r="1.73" fill="#b3182a" fill-opacity="0.12"/>
<circle cx="124.88" cy="400.29" r="0.86" fill="#1f4cc9"/>
<circle cx="127.66" cy="395.31" r="2.01" fill="#b3182a" fill-opacity="0.12"/>
<circle cx="127.66" cy="395.31" r="1.01" fill="#1f4cc9"/>
<circle cx="146.96" cy="398.39" r="0.97" fill="#1f4cc9"/>
<circle cx="161.23" cy="432.40" r="1.02" fill="#1f4cc9"/>
<circle cx="187.18" cy="439.27" r="1.85" fill="#b3182a" fill-opacity="0.12"/>
<circle cx="187.18" cy="439.27" r="0.92" fill="#1f4cc9"/>
<circle cx="136.90" cy="400.03" r="1.02" fill="#1f4cc9"/>
<circle cx="120.50" cy="395.86" r="1.04" fill="#1f4cc9"/>
<circle cx="158.35" cy="424.06" r="0.85" fill="#1f4cc9"/>
<circle cx="138.24" cy="425.78" r="1.06" fill="#1f4cc9"/>
<circle cx="150.28" cy="393.00" r="0.96" fill="#1f4cc9"/>
<circle cx="171.40" cy="427.78" r="0.90" fill="#1f4cc9"/>
</g>
<rect x="151.30" y="388.70" width="36.40" height="31.00" fill="#1a050c"/>
<g filter="url(#soft2)">
<circle cx="158.20" cy="392.22" r="1.56" fill="#b0142a" fill-opacity="0.12"/>
<circle cx="153.95" cy="389.23" r="0.85" fill="#b0142a" fill-opacity="0.11"/>
<circle cx="151.68" cy="392.26" r="1.69" fill="#b0142a" fill-opacity="0.13"/>
<circle cx="152.05" cy="391.89" r="1.13" fill="#b0142a" fill-opacity="0.10"/>
<circle cx="152.46" cy="392.90" r="1.36" fill="#b0142a" fill-opacity="0.11"/>
<circle cx="165.74" cy="394.34" r="1.24" fill="#b0142a" fill-opacity="0.10"/>
<circle cx="167.81" cy="388.35" r="0.91" fill="#b0142a" fill-opacity="0.13"/>
<circle cx="168.26" cy="390.78" r="1.23" fill="#b0142a" fill-opacity="0.08"/>
<circle cx="164.38" cy="393.77" r="1.60" fill="#b0142a" fill-opacity="0.08"/>
<circle cx="162.74" cy="387.99" r="1.07" fill="#b0142a" fill-opacity="0.12"/>
<circle cx="162.22" cy="401.54" r="1.48" fill="#b0142a" fill-opacity="0.12"/>
<circle cx="158.72" cy="394.81" r="1.30" fill="#b0142a" fill-opacity="0.15"/>
<circle cx="157.21" cy="400.94" r="0.96" fill="#b0142a" fill-opacity="0.09"/>
<circle cx="156.35" cy="395.38" r="1.73" fill="#b0142a" fill-opacity="0.10"/>
<circle cx="160.53" cy="402.28" r="1.49" fill="#b0142a" fill-opacity="0.09"/>
<circle cx="168.78" cy="398.87" r="0.91" fill="#b0142a" fill-opacity="0.09"/>
<circle cx="170.54" cy="405.00" r="1.07" fill="#b0142a" fill-opacity="0.11"/>
<circle cx="170.26" cy="400.42" r="1.42" fill="#b0142a" fill-opacity="0.12"/>
<circle cx="171.36" cy="403.08" r="1.18" fill="#b0142a" fill-opacity="0.10"/>
<circle cx="166.76" cy="404.49" r="1.78" fill="#b0142a" fill-opacity="0.11"/>
<circle cx="176.67" cy="391.85" r="1.50" fill="#b0142a" fill-opacity="0.08"/>
<circle cx="176.96" cy="399.03" r="0.98" fill="#b0142a" fill-opacity="0.13"/>
<circle cx="178.63" cy="395.69" r="1.44" fill="#b0142a" fill-opacity="0.15"/>
<circle cx="178.62" cy="394.11" r="1.61" fill="#b0142a" fill-opacity="0.09"/>
<circle cx="178.86" cy="394.92" r="1.12" fill="#b0142a" fill-opacity="0.09"/>
<circle cx="173.30" cy="398.73" r="1.53" fill="#b0142a" fill-opacity="0.12"/>
<circle cx="173.97" cy="405.97" r="1.65" fill="#b0142a" fill-opacity="0.15"/>
<circle cx="178.30" cy="403.24" r="1.74" fill="#b0142a" fill-opacity="0.10"/>
<circle cx="175.72" cy="404.08" r="0.95" fill="#b0142a" fill-opacity="0.14"/>
<circle cx="176.68" cy="403.83" r="0.88" fill="#b0142a" fill-opacity="0.11"/>
<circle cx="178.14" cy="407.31" r="0.87" fill="#b0142a" fill-opacity="0.14"/>
<circle cx="174.99" cy="401.52" r="0.86" fill="#b0142a" fill-opacity="0.14"/>
<circle cx="181.52" cy="406.99" r="1.29" fill="#b0142a" fill-opacity="0.13"/>
<circle cx="180.67" cy="405.76" r="0.87" fill="#b0142a" fill-opacity="0.08"/>
<circle cx="176.53" cy="401.74" r="1.17" fill="#b0142a" fill-opacity="0.14"/>
<circle cx="185.61" cy="404.31" r="1.34" fill="#b0142a" fill-opacity="0.12"/>
<circle cx="186.31" cy="410.91" r="0.98" fill="#b0142a" fill-opacity="0.11"/>
<circle cx="185.37" cy="408.34" r="1.07" fill="#b0142a" fill-opacity="0.08"/>
<circle cx="183.88" cy="410.66" r="1.52" fill="#b0142a" fill-opacity="0.12"/>
<circle cx="185.39" cy="405.35" r="1.53" fill="#b0142a" fill-opacity="0.08"/>
<circle cx="177.45" cy="408.18" r="1.00" fill="#b0142a" fill-opacity="0.12"/>
<circle cx="170.93" cy="410.76" r="1.34" fill="#b0142a" fill-opacity="0.10"/>
<circle cx="178.30" cy="412.81" r="1.10" fill="#b0142a" fill-opacity="0.13"/>
<circle cx="181.01" cy="409.61" r="1.58" fill="#b0142a" fill-opacity="0.15"/>
<circle cx="179.33" cy="412.45" r="0.96" fill="#b0142a" fill-opacity="0.11"/>
<circle cx="167.24" cy="419.88" r="1.75" fill="#b0142a" fill-opacity="0.12"/>
<circle cx="169.10" cy="419.67" r="1.28" fill="#b0142a" fill-opacity="0.10"/>
<circle cx="165.82" cy="417.84" r="1.71" fill="#b0142a" fill-opacity="0.11"/>
<circle cx="172.27" cy="414.28" r="1.60" fill="#b0142a" fill-opacity="0.08"/>
<circle cx="168.11" cy="419.25" r="1.14" fill="#b0142a" fill-opacity="0.12"/>
<circle cx="182.22" cy="415.21" r="1.12" fill="#b0142a" fill-opacity="0.08"/>
<circle cx="181.08" cy="419.73" r="1.61" fill="#b0142a" fill-opacity="0.14"/>
<circle cx="174.06" cy="417.47" r="1.24" fill="#b0142a" fill-opacity="0.13"/>
<circle cx="181.92" cy="418.57" r="1.39" fill="#b0142a" fill-opacity="0.10"/>
<circle cx="178.97" cy="419.83" r="1.57" fill="#b0142a" fill-opacity="0.08"/>
<circle cx="149.45" cy="409.58" r="1.52" fill="#b0142a" fill-opacity="0.11"/>
<circle cx="151.53" cy="409.70" r="1.59" fill="#b0142a" fill-opacity="0.10"/>
<circle cx="151.73" cy="410.38" r="1.44" fill="#b0142a" fill-opacity="0.10"/>
<circle cx="155.06" cy="407.86" r="1.15" fill="#b0142a" fill-opacity="0.12"/>
<circle cx="151.12" cy="406.11" r="1.05" fill="#b0142a" fill-opacity="0.15"/>
<circle cx="175.82" cy="400.42" r="0.97" fill="#a0122a" fill-opacity="0.09"/>
<circle cx="165.44" cy="417.12" r="1.01" fill="#a0122a" fill-opacity="0.09"/>
<circle cx="165.51" cy="408.80" r="1.07" fill="#a0122a" fill-opacity="0.09"/>
<circle cx="177.02" cy="405.51" r="0.83" fill="#a0122a" fill-opacity="0.09"/>
<ellipse cx="155.40" cy="393.40" rx="2.76" ry="1.84" transform="rotate(-20 155.40 393.40)" fill="#2552d2"/>
<ellipse cx="165.70" cy="391.60" rx="2.76" ry="1.84" transform="rotate(10 165.70 391.60)" fill="#2552d2"/>
<ellipse cx="160.20" cy="398.80" rx="2.94" ry="1.93" transform="rotate(0 160.20 398.80)" fill="#2552d2"/>
<ellipse cx="166.90" cy="401.90" rx="2.67" ry="1.93" transform="rotate(-30 166.90 401.90)" fill="#2552d2"/>
<ellipse cx="175.30" cy="396.40" rx="2.58" ry="1.93" transform="rotate(-20 175.30 396.40)" fill="#2552d2"/>
<ellipse cx="174.10" cy="401.90" rx="2.76" ry="1.75" transform="rotate(-20 174.10 401.90)" fill="#2552d2"/>
<ellipse cx="178.30" cy="404.90" rx="2.58" ry="1.84" transform="rotate(-40 178.30 404.90)" fill="#2552d2"/>
<ellipse cx="183.70" cy="407.30" rx="2.12" ry="2.76" transform="rotate(0 183.70 407.30)" fill="#2552d2"/>
<ellipse cx="175.90" cy="410.30" rx="2.76" ry="1.93" transform="rotate(-20 175.90 410.30)" fill="#2552d2"/>
<ellipse cx="168.10" cy="416.30" rx="2.94" ry="1.84" transform="rotate(20 168.10 416.30)" fill="#2552d2"/>
<ellipse cx="178.30" cy="417.50" rx="2.58" ry="1.66" transform="rotate(0 178.30 417.50)" fill="#2552d2"/>
<ellipse cx="152.60" cy="407.90" rx="1.66" ry="2.02" transform="rotate(0 152.60 407.90)" fill="#2552d2"/>
</g>
<rect x="151.30" y="389.10" width="36.00" height="30.60" fill="none" stroke="#c4c4c4" stroke-width="0.9"/>
<line x1="158.90" y1="434.30" x2="184.90" y2="434.30" stroke="#e0e0e0" stroke-width="0.6"/>
<text x="172.90" y="438.70" font-size="4.8" fill="#e6e6e6" text-anchor="middle" textLength="14.80" lengthAdjust="spacingAndGlyphs">200 um</text>
</g>
<clipPath id="cp01"><rect x="189.20" y="388.70" width="68.40" height="51.20"/></clipPath>
<g clip-path="url(#cp01)">
<rect x="189.20" y="388.70" width="68.40" height="51.20" fill="#120309"/>
<g filter="url(#soft)">
<circle cx="254.94" cy="435.75" r="1.09" fill="#1f4cc9"/>
<circle cx="221.17" cy="422.57" r="1.73" fill="#b3182a" fill-opacity="0.12"/>
<circle cx="221.17" cy="422.57" r="0.86" fill="#1f4cc9"/>
<circle cx="204.04" cy="400.22" r="1.72" fill="#b3182a" fill-opacity="0.12"/>
<circle cx="204.04" cy="400.22" r="0.86" fill="#1f4cc9"/>
<circle cx="209.06" cy="424.04" r="1.09" fill="#1f4cc9"/>
<circle cx="203.90" cy="438.14" r="1.01" fill="#1f4cc9"/>
<circle cx="194.27" cy="398.78" r="1.84" fill="#b3182a" fill-opacity="0.25"/>
<circle cx="194.27" cy="398.78" r="0.92" fill="#1f4cc9"/>
<circle cx="195.52" cy="427.96" r="0.86" fill="#1f4cc9"/>
<circle cx="214.35" cy="412.87" r="1.04" fill="#1f4cc9"/>
<circle cx="211.60" cy="421.25" r="0.85" fill="#1f4cc9"/>
<circle cx="216.88" cy="399.54" r="1.76" fill="#b3182a" fill-opacity="0.12"/>
<circle cx="216.88" cy="399.54" r="0.88" fill="#1f4cc9"/>
<circle cx="218.66" cy="404.40" r="0.85" fill="#1f4cc9"/>
<circle cx="197.01" cy="430.66" r="1.92" fill="#b3182a" fill-opacity="0.12"/>
<circle cx="197.01" cy="430.66" r="0.96" fill="#1f4cc9"/>
<circle cx="235.61" cy="422.64" r="0.86" fill="#1f4cc9"/>
<circle cx="216.93" cy="422.85" r="1.73" fill="#b3182a" fill-opacity="0.25"/>
<circle cx="216.93" cy="422.85" r="0.86" fill="#1f4cc9"/>
<circle cx="189.94" cy="412.48" r="2.16" fill="#b3182a" fill-opacity="0.25"/>
<circle cx="189.94" cy="412.48" r="1.08" fill="#1f4cc9"/>
<circle cx="190.98" cy="424.65" r="2.15" fill="#b3182a" fill-opacity="0.12"/>
<circle cx="190.98" cy="424.65" r="1.08" fill="#1f4cc9"/>
<circle cx="190.14" cy="417.56" r="1.76" fill="#b3182a" fill-opacity="0.25"/>
<circle cx="190.14" cy="417.56" r="0.88" fill="#1f4cc9"/>
<circle cx="199.90" cy="390.75" r="0.85" fill="#1f4cc9"/>
<circle cx="199.72" cy="423.65" r="1.97" fill="#b3182a" fill-opacity="0.25"/>
<circle cx="199.72" cy="423.65" r="0.98" fill="#1f4cc9"/>
<circle cx="223.30" cy="433.32" r="2.00" fill="#b3182a" fill-opacity="0.12"/>
<circle cx="223.30" cy="433.32" r="1.00" fill="#1f4cc9"/>
<circle cx="210.61" cy="433.02" r="0.99" fill="#1f4cc9"/>
<circle cx="189.90" cy="393.25" r="1.79" fill="#b3182a" fill-opacity="0.25"/>
<circle cx="189.90" cy="393.25" r="0.90" fill="#1f4cc9"/>
<circle cx="191.67" cy="406.50" r="2.15" fill="#b3182a" fill-opacity="0.25"/>
<circle cx="191.67" cy="406.50" r="1.08" fill="#1f4cc9"/>
<circle cx="237.35" cy="428.19" r="1.00" fill="#1f4cc9"/>
<circle cx="244.37" cy="429.09" r="2.08" fill="#b3182a" fill-opacity="0.12"/>
<circle cx="244.37" cy="429.09" r="1.04" fill="#1f4cc9"/>
<circle cx="199.01" cy="398.05" r="1.80" fill="#b3182a" fill-opacity="0.12"/>
<circle cx="199.01" cy="398.05" r="0.90" fill="#1f4cc9"/>
<circle cx="212.39" cy="392.42" r="0.99" fill="#1f4cc9"/>
<circle cx="226.69" cy="423.87" r="1.82" fill="#b3182a" fill-opacity="0.25"/>
<circle cx="226.69" cy="423.87" r="0.91" fill="#1f4cc9"/>
<circle cx="208.39" cy="430.72" r="0.97" fill="#1f4cc9"/>
<circle cx="195.64" cy="436.43" r="1.96" fill="#b3182a" fill-opacity="0.12"/>
<circle cx="195.64" cy="436.43" r="0.98" fill="#1f4cc9"/>
<circle cx="195.98" cy="422.06" r="1.91" fill="#b3182a" fill-opacity="0.12"/>
<circle cx="195.98" cy="422.06" r="0.95" fill="#1f4cc9"/>
<circle cx="232.42" cy="432.35" r="2.17" fill="#b3182a" fill-opacity="0.25"/>
<circle cx="232.42" cy="432.35" r="1.08" fill="#1f4cc9"/>
<circle cx="212.17" cy="436.41" r="0.96" fill="#1f4cc9"/>
<circle cx="197.67" cy="406.33" r="1.97" fill="#b3182a" fill-opacity="0.12"/>
<circle cx="197.67" cy="406.33" r="0.99" fill="#1f4cc9"/>
<circle cx="198.15" cy="416.62" r="0.88" fill="#1f4cc9"/>
<circle cx="219.00" cy="412.02" r="2.08" fill="#b3182a" fill-opacity="0.25"/>
<circle cx="219.00" cy="412.02" r="1.04" fill="#1f4cc9"/>
<circle cx="209.63" cy="391.05" r="1.00" fill="#1f4cc9"/>
<circle cx="192.86" cy="439.24" r="1.01" fill="#1f4cc9"/>
<circle cx="237.66" cy="437.11" r="1.95" fill="#b3182a" fill-opacity="0.25"/>
<circle cx="237.66" cy="437.11" r="0.97" fill="#1f4cc9"/>
<circle cx="193.45" cy="409.84" r="1.00" fill="#1f4cc9"/>
<circle cx="240.16" cy="432.40" r="1.81" fill="#b3182a" fill-opacity="0.12"/>
<circle cx="240.16" cy="432.40" r="0.90" fill="#1f4cc9"/>
<circle cx="207.53" cy="421.30" r="1.02" fill="#1f4cc9"/>
<circle cx="207.48" cy="401.07" r="1.02" fill="#1f4cc9"/>
<circle cx="204.20" cy="429.30" r="0.86" fill="#1f4cc9"/>
<circle cx="202.54" cy="397.00" r="2.06" fill="#b3182a" fill-opacity="0.25"/>
<circle cx="202.54" cy="397.00" r="1.03" fill="#1f4cc9"/>
<circle cx="234.57" cy="434.55" r="1.72" fill="#b3182a" fill-opacity="0.25"/>
<circle cx="234.57" cy="434.55" r="0.86" fill="#1f4cc9"/>
<circle cx="202.33" cy="415.14" r="0.97" fill="#1f4cc9"/>
<circle cx="229.68" cy="436.30" r="1.75" fill="#b3182a" fill-opacity="0.25"/>
<circle cx="229.68" cy="436.30" r="0.88" fill="#1f4cc9"/>
<circle cx="230.95" cy="425.06" r="0.91" fill="#1f4cc9"/>
<circle cx="209.04" cy="415.86" r="0.87" fill="#1f4cc9"/>
<circle cx="205.45" cy="425.60" r="0.92" fill="#1f4cc9"/>
<circle cx="215.83" cy="417.25" r="1.91" fill="#b3182a" fill-opacity="0.25"/>
<circle cx="215.83" cy="417.25" r="0.96" fill="#1f4cc9"/>
<circle cx="199.77" cy="432.18" r="1.97" fill="#b3182a" fill-opacity="0.25"/>
<circle cx="199.77" cy="432.18" r="0.99" fill="#1f4cc9"/>
<circle cx="251.83" cy="427.21" r="1.03" fill="#1f4cc9"/>
<circle cx="200.64" cy="411.21" r="1.97" fill="#b3182a" fill-opacity="0.25"/>
<circle cx="200.64" cy="411.21" r="0.99" fill="#1f4cc9"/>
<circle cx="252.26" cy="433.73" r="2.05" fill="#b3182a" fill-opacity="0.25"/>
<circle cx="252.26" cy="433.73" r="1.03" fill="#1f4cc9"/>
<circle cx="240.88" cy="427.26" r="2.19" fill="#b3182a" fill-opacity="0.12"/>
<circle cx="240.88" cy="427.26" r="1.10" fill="#1f4cc9"/>
<circle cx="191.77" cy="434.15" r="2.18" fill="#b3182a" fill-opacity="0.25"/>
<circle cx="191.77" cy="434.15" r="1.09" fill="#1f4cc9"/>
<circle cx="243.22" cy="436.49" r="0.97" fill="#1f4cc9"/>
<circle cx="193.34" cy="389.13" r="1.82" fill="#b3182a" fill-opacity="0.25"/>
<circle cx="193.34" cy="389.13" r="0.91" fill="#1f4cc9"/>
<circle cx="198.01" cy="438.90" r="2.02" fill="#b3182a" fill-opacity="0.25"/>
<circle cx="198.01" cy="438.90" r="1.01" fill="#1f4cc9"/>
<circle cx="246.13" cy="435.39" r="0.94" fill="#1f4cc9"/>
<circle cx="207.78" cy="438.13" r="1.83" fill="#b3182a" fill-opacity="0.25"/>
<circle cx="207.78" cy="438.13" r="0.92" fill="#1f4cc9"/>
<circle cx="238.88" cy="423.63" r="0.93" fill="#1f4cc9"/>
<circle cx="208.79" cy="409.11" r="1.10" fill="#1f4cc9"/>
<circle cx="218.01" cy="432.46" r="1.01" fill="#1f4cc9"/>
<circle cx="192.67" cy="415.84" r="1.94" fill="#b3182a" fill-opacity="0.12"/>
<circle cx="192.67" cy="415.84" r="0.97" fill="#1f4cc9"/>
<circle cx="205.95" cy="395.90" r="1.80" fill="#b3182a" fill-opacity="0.25"/>
<circle cx="205.95" cy="395.90" r="0.90" fill="#1f4cc9"/>
<circle cx="219.51" cy="392.24" r="1.04" fill="#1f4cc9"/>
<circle cx="247.33" cy="425.14" r="1.75" fill="#b3182a" fill-opacity="0.25"/>
<circle cx="247.33" cy="425.14" r="0.88" fill="#1f4cc9"/>
<circle cx="224.07" cy="437.47" r="1.91" fill="#b3182a" fill-opacity="0.25"/>
<circle cx="224.07" cy="437.47" r="0.95" fill="#1f4cc9"/>
<circle cx="190.36" cy="401.92" r="1.04" fill="#1f4cc9"/>
<circle cx="227.94" cy="433.47" r="1.01" fill="#1f4cc9"/>
<circle cx="210.18" cy="396.11" r="1.07" fill="#1f4cc9"/>
<circle cx="211.23" cy="428.10" r="1.00" fill="#1f4cc9"/>
<circle cx="211.14" cy="418.01" r="2.15" fill="#b3182a" fill-opacity="0.25"/>
<circle cx="211.14" cy="418.01" r="1.08" fill="#1f4cc9"/>
<circle cx="209.46" cy="403.46" r="1.95" fill="#b3182a" fill-opacity="0.25"/>
<circle cx="209.46" cy="403.46" r="0.98" fill="#1f4cc9"/>
<circle cx="253.12" cy="438.36" r="2.04" fill="#b3182a" fill-opacity="0.25"/>
<circle cx="253.12" cy="438.36" r="1.02" fill="#1f4cc9"/>
<circle cx="200.21" cy="435.37" r="0.95" fill="#1f4cc9"/>
<circle cx="196.84" cy="411.05" r="0.93" fill="#1f4cc9"/>
<circle cx="206.51" cy="411.54" r="0.95" fill="#1f4cc9"/>
<circle cx="203.39" cy="434.28" r="1.10" fill="#1f4cc9"/>
<circle cx="247.89" cy="430.62" r="1.01" fill="#1f4cc9"/>
<circle cx="240.92" cy="421.16" r="1.09" fill="#1f4cc9"/>
<circle cx="192.13" cy="421.30" r="1.98" fill="#b3182a" fill-opacity="0.25"/>
<circle cx="192.13" cy="421.30" r="0.99" fill="#1f4cc9"/>
<circle cx="222.57" cy="429.52" r="1.04" fill="#1f4cc9"/>
<circle cx="228.10" cy="426.79" r="1.00" fill="#1f4cc9"/>
<circle cx="217.70" cy="414.74" r="0.92" fill="#1f4cc9"/>
<circle cx="214.65" cy="430.76" r="0.93" fill="#1f4cc9"/>
<circle cx="205.45" cy="405.74" r="1.08" fill="#1f4cc9"/>
<circle cx="212.25" cy="410.02" r="1.90" fill="#b3182a" fill-opacity="0.25"/>
<circle cx="212.25" cy="410.02" r="0.95" fill="#1f4cc9"/>
<circle cx="200.17" cy="427.04" r="0.98" fill="#1f4cc9"/>
<circle cx="234.39" cy="425.56" r="0.89" fill="#1f4cc9"/>
<circle cx="218.21" cy="408.24" r="2.06" fill="#b3182a" fill-opacity="0.25"/>
<circle cx="218.21" cy="408.24" r="1.03" fill="#1f4cc9"/>
<circle cx="244.00" cy="432.64" r="1.05" fill="#1f4cc9"/>
<circle cx="253.29" cy="424.57" r="0.90" fill="#1f4cc9"/>
<circle cx="230.98" cy="421.41" r="1.74" fill="#b3182a" fill-opacity="0.25"/>
<circle cx="230.98" cy="421.41" r="0.87" fill="#1f4cc9"/>
<circle cx="248.93" cy="438.11" r="2.03" fill="#b3182a" fill-opacity="0.25"/>
<circle cx="248.93" cy="438.11" r="1.01" fill="#1f4cc9"/>
<circle cx="219.31" cy="419.65" r="1.72" fill="#b3182a" fill-opacity="0.12"/>
<circle cx="219.31" cy="419.65" r="0.86" fill="#1f4cc9"/>
<circle cx="218.34" cy="426.50" r="2.03" fill="#b3182a" fill-opacity="0.12"/>
<circle cx="218.34" cy="426.50" r="1.01" fill="#1f4cc9"/>
<circle cx="244.23" cy="423.59" r="2.09" fill="#b3182a" fill-opacity="0.25"/>
<circle cx="244.23" cy="423.59" r="1.05" fill="#1f4cc9"/>
<circle cx="193.99" cy="394.36" r="0.94" fill="#1f4cc9"/>
<circle cx="206.23" cy="389.86" r="1.81" fill="#b3182a" fill-opacity="0.12"/>
<circle cx="206.23" cy="389.86" r="0.91" fill="#1f4cc9"/>
<circle cx="256.35" cy="432.82" r="1.06" fill="#1f4cc9"/>
<circle cx="195.87" cy="402.92" r="1.05" fill="#1f4cc9"/>
<circle cx="214.55" cy="439.20" r="1.86" fill="#b3182a" fill-opacity="0.25"/>
<circle cx="214.55" cy="439.20" r="0.93" fill="#1f4cc9"/>
<circle cx="226.35" cy="439.42" r="0.88" fill="#1f4cc9"/>
<circle cx="202.97" cy="389.37" r="1.02" fill="#1f4cc9"/>
<circle cx="232.30" cy="437.88" r="0.97" fill="#1f4cc9"/>
<circle cx="214.03" cy="395.30" r="1.08" fill="#1f4cc9"/>
<circle cx="256.15" cy="426.61" r="1.01" fill="#1f4cc9"/>
<circle cx="255.94" cy="439.56" r="1.05" fill="#1f4cc9"/>
<circle cx="220.08" cy="435.36" r="0.90" fill="#1f4cc9"/>
<circle cx="221.02" cy="439.49" r="1.05" fill="#1f4cc9"/>
<circle cx="209.63" cy="412.48" r="2.17" fill="#b3182a" fill-opacity="0.12"/>
<circle cx="209.63" cy="412.48" r="1.09" fill="#1f4cc9"/>
<circle cx="213.62" cy="402.59" r="2.07" fill="#b3182a" fill-opacity="0.25"/>
<circle cx="213.62" cy="402.59" r="1.03" fill="#1f4cc9"/>
<circle cx="216.66" cy="390.92" r="1.73" fill="#b3182a" fill-opacity="0.25"/>
<circle cx="216.66" cy="390.92" r="0.87" fill="#1f4cc9"/>
<circle cx="196.85" cy="390.19" r="0.88" fill="#1f4cc9"/>
<circle cx="202.72" cy="419.52" r="0.96" fill="#1f4cc9"/>
<circle cx="206.01" cy="416.06" r="0.94" fill="#1f4cc9"/>
<circle cx="213.32" cy="389.14" r="0.99" fill="#1f4cc9"/>
<circle cx="201.46" cy="407.27" r="1.72" fill="#b3182a" fill-opacity="0.12"/>
<circle cx="201.46" cy="407.27" r="0.86" fill="#1f4cc9"/>
<circle cx="223.77" cy="426.46" r="1.80" fill="#b3182a" fill-opacity="0.12"/>
<circle cx="223.77" cy="426.46" r="0.90" fill="#1f4cc9"/>
<circle cx="199.43" cy="420.05" r="1.71" fill="#b3182a" fill-opacity="0.12"/>
<circle cx="199.43" cy="420.05" r="0.86" fill="#1f4cc9"/>
<circle cx="255.65" cy="421.59" r="2.05" fill="#b3182a" fill-opacity="0.25"/>
<circle cx="255.65" cy="421.59" r="1.02" fill="#1f4cc9"/>
<circle cx="215.43" cy="407.06" r="0.86" fill="#1f4cc9"/>
<circle cx="199.81" cy="394.87" r="1.71" fill="#b3182a" fill-opacity="0.25"/>
<circle cx="199.81" cy="394.87" r="0.86" fill="#1f4cc9"/>
<circle cx="244.05" cy="439.40" r="2.08" fill="#b3182a" fill-opacity="0.12"/>
<circle cx="244.05" cy="439.40" r="1.04" fill="#1f4cc9"/>
<circle cx="214.94" cy="434.95" r="1.10" fill="#1f4cc9"/>
<circle cx="193.15" cy="430.21" r="0.95" fill="#1f4cc9"/>
<circle cx="252.47" cy="430.35" r="2.16" fill="#b3182a" fill-opacity="0.25"/>
<circle cx="252.47" cy="430.35" r="1.08" fill="#1f4cc9"/>
<circle cx="217.05" cy="395.19" r="1.03" fill="#1f4cc9"/>
<circle cx="212.96" cy="398.12" r="1.97" fill="#b3182a" fill-opacity="0.12"/>
<circle cx="212.96" cy="398.12" r="0.98" fill="#1f4cc9"/>
<circle cx="233.72" cy="429.22" r="1.74" fill="#b3182a" fill-opacity="0.12"/>
<circle cx="233.72" cy="429.22" r="0.87" fill="#1f4cc9"/>
<circle cx="211.15" cy="406.22" r="0.98" fill="#1f4cc9"/>
<circle cx="189.53" cy="427.69" r="2.11" fill="#b3182a" fill-opacity="0.12"/>
<circle cx="189.53" cy="427.69" r="1.05" fill="#1f4cc9"/>
<circle cx="214.21" cy="424.50" r="0.90" fill="#1f4cc9"/>
<circle cx="189.76" cy="398.56" r="1.05" fill="#1f4cc9"/>
<circle cx="214.92" cy="427.42" r="1.01" fill="#1f4cc9"/>
<circle cx="248.24" cy="421.55" r="0.88" fill="#1f4cc9"/>
<circle cx="189.67" cy="389.27" r="1.96" fill="#b3182a" fill-opacity="0.25"/>
<circle cx="189.67" cy="389.27" r="0.98" fill="#1f4cc9"/>
<circle cx="214.64" cy="420.81" r="0.91" fill="#1f4cc9"/>
<circle cx="229.56" cy="429.72" r="1.81" fill="#b3182a" fill-opacity="0.12"/>
<circle cx="229.56" cy="429.72" r="0.90" fill="#1f4cc9"/>
<circle cx="225.86" cy="430.51" r="1.88" fill="#b3182a" fill-opacity="0.25"/>
<circle cx="225.86" cy="430.51" r="0.94" fill="#1f4cc9"/>
<circle cx="240.21" cy="439.23" r="1.73" fill="#b3182a" fill-opacity="0.25"/>
<circle cx="240.21" cy="439.23" r="0.87" fill="#1f4cc9"/>
<circle cx="204.06" cy="422.69" r="0.91" fill="#1f4cc9"/>
<circle cx="210.34" cy="399.76" r="1.79" fill="#b3182a" fill-opacity="0.25"/>
<circle cx="210.34" cy="399.76" r="0.89" fill="#1f4cc9"/>
<circle cx="200.75" cy="402.25" r="0.90" fill="#1f4cc9"/>
<circle cx="237.09" cy="431.96" r="2.05" fill="#b3182a" fill-opacity="0.25"/>
<circle cx="237.09" cy="431.96" r="1.03" fill="#1f4cc9"/>
<circle cx="195.16" cy="413.56" r="0.90" fill="#1f4cc9"/>
<circle cx="204.10" cy="393.34" r="0.98" fill="#1f4cc9"/>
<circle cx="207.95" cy="434.47" r="1.84" fill="#b3182a" fill-opacity="0.12"/>
<circle cx="207.95" cy="434.47" r="0.92" fill="#1f4cc9"/>
<circle cx="190.23" cy="436.99" r="0.98" fill="#1f4cc9"/>
<circle cx="227.81" cy="420.87" r="2.09" fill="#b3182a" fill-opacity="0.12"/>
<circle cx="227.81" cy="420.87" r="1.05" fill="#1f4cc9"/>
<circle cx="204.93" cy="408.96" r="0.97" fill="#1f4cc9"/>
<circle cx="252.34" cy="421.11" r="1.08" fill="#1f4cc9"/>
<circle cx="190.07" cy="430.77" r="1.05" fill="#1f4cc9"/>
<circle cx="223.89" cy="421.16" r="0.92" fill="#1f4cc9"/>
<circle cx="191.53" cy="396.12" r="0.86" fill="#1f4cc9"/>
<circle cx="195.25" cy="418.62" r="1.84" fill="#b3182a" fill-opacity="0.25"/>
<circle cx="195.25" cy="418.62" r="0.92" fill="#1f4cc9"/>
<circle cx="195.36" cy="433.42" r="0.86" fill="#1f4cc9"/>
<circle cx="190.36" cy="409.29" r="1.91" fill="#b3182a" fill-opacity="0.25"/>
<circle cx="190.36" cy="409.29" r="0.95" fill="#1f4cc9"/>
<circle cx="196.41" cy="396.40" r="0.98" fill="#1f4cc9"/>
<circle cx="211.27" cy="439.54" r="1.98" fill="#b3182a" fill-opacity="0.25"/>
<circle cx="211.27" cy="439.54" r="0.99" fill="#1f4cc9"/>
<circle cx="255.55" cy="429.65" r="1.74" fill="#b3182a" fill-opacity="0.25"/>
<circle cx="255.55" cy="429.65" r="0.87" fill="#1f4cc9"/>
<circle cx="208.21" cy="427.03" r="1.04" fill="#1f4cc9"/>
<circle cx="235.11" cy="439.27" r="1.97" fill="#b3182a" fill-opacity="0.25"/>
<circle cx="235.11" cy="439.27" r="0.99" fill="#1f4cc9"/>
<circle cx="219.20" cy="389.23" r="1.97" fill="#b3182a" fill-opacity="0.25"/>
<circle cx="219.20" cy="389.23" r="0.98" fill="#1f4cc9"/>
<circle cx="217.58" cy="439.59" r="1.01" fill="#1f4cc9"/>
<circle cx="196.89" cy="425.03" r="1.07" fill="#1f4cc9"/>
<circle cx="201.06" cy="439.49" r="1.04" fill="#1f4cc9"/>
<circle cx="248.98" cy="433.60" r="1.74" fill="#b3182a" fill-opacity="0.25"/>
<circle cx="248.98" cy="433.60" r="0.87" fill="#1f4cc9"/>
<circle cx="219.23" cy="429.51" r="2.19" fill="#b3182a" fill-opacity="0.12"/>
<circle cx="219.23" cy="429.51" r="1.09" fill="#1f4cc9"/>
<circle cx="197.17" cy="393.31" r="1.79" fill="#b3182a" fill-opacity="0.12"/>
<circle cx="197.17" cy="393.31" r="0.90" fill="#1f4cc9"/>
<circle cx="229.35" cy="439.31" r="1.89" fill="#b3182a" fill-opacity="0.25"/>
<circle cx="229.35" cy="439.31" r="0.95" fill="#1f4cc9"/>
</g>
<rect x="220.60" y="388.70" width="37.00" height="31.00" fill="#1a050c"/>
<g filter="url(#soft2)">
<circle cx="227.63" cy="398.28" r="1.38" fill="#b0142a" fill-opacity="0.24"/>
<circle cx="230.58" cy="394.03" r="1.51" fill="#b0142a" fill-opacity="0.34"/>
<circle cx="228.69" cy="400.62" r="1.19" fill="#b0142a" fill-opacity="0.25"/>
<circle cx="228.22" cy="393.88" r="1.49" fill="#b0142a" fill-opacity="0.26"/>
<circle cx="232.84" cy="399.19" r="0.91" fill="#b0142a" fill-opacity="0.24"/>
<circle cx="244.44" cy="396.09" r="1.64" fill="#b0142a" fill-opacity="0.27"/>
<circle cx="239.33" cy="393.97" r="1.51" fill="#b0142a" fill-opacity="0.25"/>
<circle cx="245.63" cy="393.11" r="1.66" fill="#b0142a" fill-opacity="0.18"/>
<circle cx="239.21" cy="392.04" r="1.44" fill="#b0142a" fill-opacity="0.19"/>
<circle cx="241.87" cy="389.47" r="1.54" fill="#b0142a" fill-opacity="0.27"/>
<circle cx="227.22" cy="406.97" r="1.23" fill="#b0142a" fill-opacity="0.34"/>
<circle cx="228.29" cy="406.99" r="1.53" fill="#b0142a" fill-opacity="0.34"/>
<circle cx="225.74" cy="403.87" r="1.57" fill="#b0142a" fill-opacity="0.32"/>
<circle cx="228.85" cy="399.66" r="0.86" fill="#b0142a" fill-opacity="0.21"/>
<circle cx="228.17" cy="405.26" r="1.32" fill="#b0142a" fill-opacity="0.20"/>
<circle cx="236.10" cy="403.23" r="1.61" fill="#b0142a" fill-opacity="0.21"/>
<circle cx="243.34" cy="405.88" r="1.07" fill="#b0142a" fill-opacity="0.28"/>
<circle cx="243.36" cy="405.39" r="1.17" fill="#b0142a" fill-opacity="0.30"/>
<circle cx="236.42" cy="402.45" r="1.78" fill="#b0142a" fill-opacity="0.28"/>
<circle cx="236.87" cy="402.96" r="1.16" fill="#b0142a" fill-opacity="0.30"/>
<circle cx="247.04" cy="398.88" r="1.23" fill="#b0142a" fill-opacity="0.31"/>
<circle cx="251.69" cy="398.29" r="1.67" fill="#b0142a" fill-opacity="0.27"/>
<circle cx="247.27" cy="400.46" r="0.90" fill="#b0142a" fill-opacity="0.28"/>
<circle cx="247.15" cy="400.87" r="0.84" fill="#b0142a" fill-opacity="0.23"/>
<circle cx="247.11" cy="401.61" r="1.79" fill="#b0142a" fill-opacity="0.23"/>
<circle cx="258.36" cy="397.22" r="1.30" fill="#b0142a" fill-opacity="0.28"/>
<circle cx="252.77" cy="399.26" r="1.37" fill="#b0142a" fill-opacity="0.31"/>
<circle cx="256.16" cy="396.61" r="1.08" fill="#b0142a" fill-opacity="0.24"/>
<circle cx="256.13" cy="397.08" r="1.79" fill="#b0142a" fill-opacity="0.34"/>
<circle cx="257.02" cy="395.44" r="1.64" fill="#b0142a" fill-opacity="0.29"/>
<circle cx="231.99" cy="411.94" r="1.70" fill="#b0142a" fill-opacity="0.21"/>
<circle cx="226.70" cy="408.17" r="1.15" fill="#b0142a" fill-opacity="0.20"/>
<circle cx="229.72" cy="413.35" r="1.05" fill="#b0142a" fill-opacity="0.28"/>
<circle cx="226.86" cy="412.43" r="1.36" fill="#b0142a" fill-opacity="0.34"/>
<circle cx="223.96" cy="409.48" r="1.75" fill="#b0142a" fill-opacity="0.18"/>
<circle cx="251.78" cy="414.00" r="1.26" fill="#b0142a" fill-opacity="0.29"/>
<circle cx="247.14" cy="411.79" r="1.20" fill="#b0142a" fill-opacity="0.32"/>
<circle cx="249.79" cy="407.98" r="1.24" fill="#b0142a" fill-opacity="0.18"/>
<circle cx="249.09" cy="407.86" r="1.51" fill="#b0142a" fill-opacity="0.19"/>
<circle cx="248.08" cy="409.23" r="1.52" fill="#b0142a" fill-opacity="0.30"/>
<circle cx="254.05" cy="407.99" r="1.07" fill="#b0142a" fill-opacity="0.25"/>
<circle cx="248.72" cy="405.95" r="1.53" fill="#b0142a" fill-opacity="0.31"/>
<circle cx="249.59" cy="406.00" r="1.68" fill="#b0142a" fill-opacity="0.32"/>
<circle cx="253.04" cy="410.90" r="1.35" fill="#b0142a" fill-opacity="0.18"/>
<circle cx="250.78" cy="409.46" r="0.92" fill="#b0142a" fill-opacity="0.20"/>
<circle cx="239.75" cy="414.89" r="1.68" fill="#b0142a" fill-opacity="0.27"/>
<circle cx="232.44" cy="419.41" r="0.81" fill="#b0142a" fill-opacity="0.25"/>
<circle cx="232.07" cy="413.58" r="1.64" fill="#b0142a" fill-opacity="0.28"/>
<circle cx="238.13" cy="414.09" r="1.25" fill="#b0142a" fill-opacity="0.25"/>
<circle cx="235.92" cy="419.91" r="1.36" fill="#b0142a" fill-opacity="0.18"/>
<circle cx="254.88" cy="412.14" r="1.17" fill="#b0142a" fill-opacity="0.32"/>
<circle cx="258.38" cy="418.83" r="1.24" fill="#b0142a" fill-opacity="0.18"/>
<circle cx="256.02" cy="412.15" r="1.35" fill="#b0142a" fill-opacity="0.27"/>
<circle cx="253.55" cy="417.18" r="1.12" fill="#b0142a" fill-opacity="0.22"/>
<circle cx="255.50" cy="420.57" r="1.07" fill="#b0142a" fill-opacity="0.18"/>
<circle cx="222.76" cy="393.15" r="1.68" fill="#b0142a" fill-opacity="0.29"/>
<circle cx="218.46" cy="395.16" r="1.59" fill="#b0142a" fill-opacity="0.21"/>
<circle cx="219.37" cy="393.81" r="0.82" fill="#b0142a" fill-opacity="0.20"/>
<circle cx="223.94" cy="397.42" r="1.00" fill="#b0142a" fill-opacity="0.24"/>
<circle cx="219.54" cy="397.68" r="1.06" fill="#b0142a" fill-opacity="0.20"/>
<circle cx="249.51" cy="417.01" r="0.87" fill="#a0122a" fill-opacity="0.21"/>
<circle cx="248.80" cy="419.13" r="1.21" fill="#a0122a" fill-opacity="0.21"/>
<circle cx="235.16" cy="415.75" r="1.12" fill="#a0122a" fill-opacity="0.21"/>
<circle cx="235.61" cy="419.64" r="1.33" fill="#a0122a" fill-opacity="0.21"/>
<circle cx="246.43" cy="417.13" r="1.18" fill="#a0122a" fill-opacity="0.21"/>
<circle cx="222.66" cy="414.73" r="0.69" fill="#a0122a" fill-opacity="0.21"/>
<circle cx="229.08" cy="416.49" r="0.82" fill="#a0122a" fill-opacity="0.21"/>
<circle cx="243.74" cy="389.05" r="1.34" fill="#a0122a" fill-opacity="0.21"/>
<circle cx="247.51" cy="392.13" r="0.78" fill="#a0122a" fill-opacity="0.21"/>
<circle cx="240.06" cy="416.62" r="0.89" fill="#a0122a" fill-opacity="0.21"/>
<ellipse cx="230.40" cy="397.00" rx="2.58" ry="1.93" transform="rotate(20 230.40 397.00)" fill="#2552d2"/>
<ellipse cx="242.50" cy="394.60" rx="2.76" ry="1.93" transform="rotate(-10 242.50 394.60)" fill="#2552d2"/>
<ellipse cx="229.80" cy="403.70" rx="2.58" ry="2.12" transform="rotate(0 229.80 403.70)" fill="#2552d2"/>
<ellipse cx="239.50" cy="404.30" rx="1.84" ry="2.76" transform="rotate(30 239.50 404.30)" fill="#2552d2"/>
<ellipse cx="249.10" cy="400.00" rx="2.02" ry="2.58" transform="rotate(-10 249.10 400.00)" fill="#2552d2"/>
<ellipse cx="255.10" cy="398.20" rx="1.66" ry="2.39" transform="rotate(0 255.10 398.20)" fill="#2552d2"/>
<ellipse cx="228.60" cy="410.90" rx="2.48" ry="2.02" transform="rotate(0 228.60 410.90)" fill="#2552d2"/>
<ellipse cx="249.10" cy="410.90" rx="2.21" ry="2.76" transform="rotate(0 249.10 410.90)" fill="#2552d2"/>
<ellipse cx="250.90" cy="407.30" rx="1.84" ry="2.39" transform="rotate(-30 250.90 407.30)" fill="#2552d2"/>
<ellipse cx="235.30" cy="416.90" rx="2.76" ry="1.84" transform="rotate(0 235.30 416.90)" fill="#2552d2"/>
<ellipse cx="255.50" cy="416.30" rx="2.21" ry="2.58" transform="rotate(0 255.50 416.30)" fill="#2552d2"/>
<ellipse cx="221.40" cy="395.80" rx="1.29" ry="2.21" transform="rotate(0 221.40 395.80)" fill="#2552d2"/>
</g>
<rect x="220.60" y="389.10" width="36.60" height="30.60" fill="none" stroke="#c4c4c4" stroke-width="0.9"/>
<line x1="228.20" y1="434.30" x2="254.20" y2="434.30" stroke="#e0e0e0" stroke-width="0.6"/>
<text x="242.20" y="438.70" font-size="4.8" fill="#e6e6e6" text-anchor="middle" textLength="14.80" lengthAdjust="spacingAndGlyphs">200 um</text>
</g>
<clipPath id="cp10"><rect x="119.90" y="441.10" width="67.80" height="50.60"/></clipPath>
<g clip-path="url(#cp10)">
<rect x="119.90" y="441.10" width="67.80" height="50.60" fill="#120309"/>
<g filter="url(#soft)">
<circle cx="121.40" cy="444.80" r="1.08" fill="#1f4cc9"/>
<circle cx="146.10" cy="446.60" r="2.11" fill="#b3182a" fill-opacity="0.10"/>
<circle cx="146.10" cy="446.60" r="1.06" fill="#1f4cc9"/>
<circle cx="128.60" cy="450.80" r="1.94" fill="#b3182a" fill-opacity="0.10"/>
<circle cx="128.60" cy="450.80" r="0.97" fill="#1f4cc9"/>
<circle cx="131.00" cy="452.70" r="1.97" fill="#b3182a" fill-opacity="0.10"/>
<circle cx="131.00" cy="452.70" r="0.99" fill="#1f4cc9"/>
<circle cx="137.10" cy="451.40" r="0.95" fill="#1f4cc9"/>
<circle cx="141.90" cy="450.80" r="0.86" fill="#1f4cc9"/>
<circle cx="123.80" cy="452.70" r="2.16" fill="#b3182a" fill-opacity="0.10"/>
<circle cx="123.80" cy="452.70" r="1.08" fill="#1f4cc9"/>
<circle cx="136.50" cy="454.50" r="1.01" fill="#1f4cc9"/>
<circle cx="144.90" cy="455.10" r="0.96" fill="#1f4cc9"/>
<circle cx="147.30" cy="456.90" r="2.03" fill="#b3182a" fill-opacity="0.10"/>
<circle cx="147.30" cy="456.90" r="1.02" fill="#1f4cc9"/>
<circle cx="128.00" cy="458.10" r="0.94" fill="#1f4cc9"/>
<circle cx="130.40" cy="459.30" r="1.10" fill="#1f4cc9"/>
<circle cx="138.30" cy="459.90" r="1.04" fill="#1f4cc9"/>
<circle cx="133.50" cy="461.70" r="1.08" fill="#1f4cc9"/>
<circle cx="140.70" cy="461.70" r="2.14" fill="#b3182a" fill-opacity="0.10"/>
<circle cx="140.70" cy="461.70" r="1.07" fill="#1f4cc9"/>
<circle cx="138.90" cy="464.20" r="1.91" fill="#b3182a" fill-opacity="0.10"/>
<circle cx="138.90" cy="464.20" r="0.95" fill="#1f4cc9"/>
<circle cx="142.50" cy="464.10" r="0.96" fill="#1f4cc9"/>
<circle cx="144.90" cy="466.30" r="0.97" fill="#1f4cc9"/>
<circle cx="132.90" cy="464.70" r="1.78" fill="#b3182a" fill-opacity="0.10"/>
<circle cx="132.90" cy="464.70" r="0.89" fill="#1f4cc9"/>
<circle cx="149.10" cy="462.90" r="1.06" fill="#1f4cc9"/>
<circle cx="133.50" cy="467.60" r="2.14" fill="#b3182a" fill-opacity="0.10"/>
<circle cx="133.50" cy="467.60" r="1.07" fill="#1f4cc9"/>
<circle cx="140.10" cy="467.60" r="1.83" fill="#b3182a" fill-opacity="0.10"/>
<circle cx="140.10" cy="467.60" r="0.92" fill="#1f4cc9"/>
<circle cx="120.80" cy="468.90" r="1.93" fill="#b3182a" fill-opacity="0.10"/>
<circle cx="120.80" cy="468.90" r="0.97" fill="#1f4cc9"/>
<circle cx="124.40" cy="468.30" r="0.97" fill="#1f4cc9"/>
<circle cx="121.40" cy="471.90" r="1.01" fill="#1f4cc9"/>
<circle cx="123.80" cy="474.90" r="1.95" fill="#b3182a" fill-opacity="0.10"/>
<circle cx="123.80" cy="474.90" r="0.98" fill="#1f4cc9"/>
<circle cx="126.80" cy="474.30" r="1.09" fill="#1f4cc9"/>
<circle cx="149.70" cy="481.60" r="1.07" fill="#1f4cc9"/>
<circle cx="151.50" cy="483.40" r="0.87" fill="#1f4cc9"/>
<circle cx="152.10" cy="478.60" r="1.95" fill="#b3182a" fill-opacity="0.10"/>
<circle cx="152.10" cy="478.60" r="0.97" fill="#1f4cc9"/>
<circle cx="122.00" cy="491.20" r="1.09" fill="#1f4cc9"/>
<circle cx="124.40" cy="491.20" r="0.88" fill="#1f4cc9"/>
<circle cx="157.00" cy="486.40" r="1.77" fill="#b3182a" fill-opacity="0.10"/>
<circle cx="157.00" cy="486.40" r="0.88" fill="#1f4cc9"/>
<circle cx="120.50" cy="447.50" r="0.89" fill="#1f4cc9"/>
<circle cx="135.00" cy="445.50" r="1.00" fill="#1f4cc9"/>
<circle cx="176.61" cy="477.65" r="0.95" fill="#1f4cc9"/>
<circle cx="154.15" cy="473.52" r="1.76" fill="#b3182a" fill-opacity="0.15"/>
<circle cx="154.15" cy="473.52" r="0.88" fill="#1f4cc9"/>
<circle cx="160.34" cy="483.25" r="0.91" fill="#1f4cc9"/>
<circle cx="156.24" cy="478.40" r="0.94" fill="#1f4cc9"/>
<circle cx="181.92" cy="484.82" r="1.01" fill="#1f4cc9"/>
<circle cx="163.85" cy="480.82" r="1.85" fill="#b3182a" fill-opacity="0.15"/>
<circle cx="163.85" cy="480.82" r="0.92" fill="#1f4cc9"/>
<circle cx="167.99" cy="482.35" r="1.89" fill="#b3182a" fill-opacity="0.15"/>
<circle cx="167.99" cy="482.35" r="0.94" fill="#1f4cc9"/>
<circle cx="177.40" cy="484.19" r="1.79" fill="#b3182a" fill-opacity="0.15"/>
<circle cx="177.40" cy="484.19" r="0.89" fill="#1f4cc9"/>
<circle cx="160.72" cy="477.22" r="0.89" fill="#1f4cc9"/>
<circle cx="186.96" cy="482.04" r="0.97" fill="#1f4cc9"/>
<circle cx="184.26" cy="489.82" r="1.01" fill="#1f4cc9"/>
<circle cx="157.89" cy="481.16" r="0.84" fill="#1f4cc9"/>
<circle cx="173.21" cy="490.08" r="0.90" fill="#1f4cc9"/>
<circle cx="173.49" cy="474.61" r="0.82" fill="#1f4cc9"/>
<circle cx="181.79" cy="474.07" r="1.04" fill="#1f4cc9"/>
<circle cx="179.18" cy="489.35" r="2.01" fill="#b3182a" fill-opacity="0.15"/>
<circle cx="179.18" cy="489.35" r="1.01" fill="#1f4cc9"/>
<circle cx="178.92" cy="475.87" r="1.01" fill="#1f4cc9"/>
<circle cx="183.82" cy="479.72" r="0.89" fill="#1f4cc9"/>
<circle cx="164.23" cy="489.45" r="1.76" fill="#b3182a" fill-opacity="0.15"/>
<circle cx="164.23" cy="489.45" r="0.88" fill="#1f4cc9"/>
<circle cx="156.66" cy="475.58" r="1.03" fill="#1f4cc9"/>
<circle cx="174.23" cy="483.16" r="0.91" fill="#1f4cc9"/>
<circle cx="170.29" cy="488.64" r="1.64" fill="#b3182a" fill-opacity="0.15"/>
<circle cx="170.29" cy="488.64" r="0.82" fill="#1f4cc9"/>
</g>
<rect x="151.30" y="441.10" width="36.40" height="31.00" fill="#1a050c"/>
<g filter="url(#soft2)">
<circle cx="155.19" cy="449.43" r="1.44" fill="#b0142a" fill-opacity="0.10"/>
<circle cx="157.41" cy="454.71" r="1.48" fill="#b0142a" fill-opacity="0.07"/>
<circle cx="158.93" cy="454.73" r="1.47" fill="#b0142a" fill-opacity="0.06"/>
<circle cx="159.21" cy="449.67" r="1.14" fill="#b0142a" fill-opacity="0.12"/>
<circle cx="160.60" cy="448.15" r="1.18" fill="#b0142a" fill-opacity="0.09"/>
<circle cx="165.57" cy="454.37" r="1.37" fill="#b0142a" fill-opacity="0.10"/>
<circle cx="165.80" cy="455.92" r="1.09" fill="#b0142a" fill-opacity="0.11"/>
<circle cx="163.92" cy="455.19" r="1.40" fill="#b0142a" fill-opacity="0.10"/>
<circle cx="167.93" cy="452.46" r="0.88" fill="#b0142a" fill-opacity="0.11"/>
<circle cx="167.43" cy="455.24" r="1.60" fill="#b0142a" fill-opacity="0.06"/>
<circle cx="177.14" cy="448.24" r="0.87" fill="#b0142a" fill-opacity="0.10"/>
<circle cx="177.81" cy="456.72" r="1.75" fill="#b0142a" fill-opacity="0.11"/>
<circle cx="174.04" cy="456.07" r="1.69" fill="#b0142a" fill-opacity="0.07"/>
<circle cx="175.32" cy="454.70" r="1.78" fill="#b0142a" fill-opacity="0.07"/>
<circle cx="174.30" cy="454.60" r="1.03" fill="#b0142a" fill-opacity="0.08"/>
<circle cx="179.37" cy="446.46" r="1.42" fill="#b0142a" fill-opacity="0.06"/>
<circle cx="178.01" cy="448.34" r="1.36" fill="#b0142a" fill-opacity="0.07"/>
<circle cx="178.09" cy="447.38" r="1.60" fill="#b0142a" fill-opacity="0.11"/>
<circle cx="180.32" cy="442.88" r="1.54" fill="#b0142a" fill-opacity="0.10"/>
<circle cx="183.37" cy="448.29" r="1.51" fill="#b0142a" fill-opacity="0.10"/>
<circle cx="154.05" cy="459.84" r="1.73" fill="#b0142a" fill-opacity="0.10"/>
<circle cx="161.77" cy="460.81" r="1.20" fill="#b0142a" fill-opacity="0.06"/>
<circle cx="155.83" cy="457.93" r="1.12" fill="#b0142a" fill-opacity="0.07"/>
<circle cx="155.39" cy="455.47" r="0.86" fill="#b0142a" fill-opacity="0.10"/>
<circle cx="160.42" cy="456.59" r="1.13" fill="#b0142a" fill-opacity="0.09"/>
<circle cx="169.71" cy="457.19" r="1.18" fill="#b0142a" fill-opacity="0.09"/>
<circle cx="163.93" cy="457.90" r="0.95" fill="#b0142a" fill-opacity="0.08"/>
<circle cx="166.72" cy="461.49" r="1.42" fill="#b0142a" fill-opacity="0.07"/>
<circle cx="165.26" cy="454.55" r="1.33" fill="#b0142a" fill-opacity="0.10"/>
<circle cx="165.29" cy="455.18" r="1.64" fill="#b0142a" fill-opacity="0.08"/>
<circle cx="188.99" cy="460.96" r="1.16" fill="#b0142a" fill-opacity="0.06"/>
<circle cx="185.85" cy="462.06" r="1.12" fill="#b0142a" fill-opacity="0.08"/>
<circle cx="187.49" cy="457.95" r="1.19" fill="#b0142a" fill-opacity="0.10"/>
<circle cx="183.47" cy="457.19" r="1.60" fill="#b0142a" fill-opacity="0.09"/>
<circle cx="187.63" cy="459.98" r="1.59" fill="#b0142a" fill-opacity="0.10"/>
<circle cx="163.57" cy="463.17" r="1.35" fill="#b0142a" fill-opacity="0.09"/>
<circle cx="166.70" cy="467.34" r="1.49" fill="#b0142a" fill-opacity="0.11"/>
<circle cx="158.20" cy="465.39" r="1.13" fill="#b0142a" fill-opacity="0.06"/>
<circle cx="158.88" cy="470.23" r="1.08" fill="#b0142a" fill-opacity="0.09"/>
<circle cx="157.44" cy="465.24" r="1.11" fill="#b0142a" fill-opacity="0.08"/>
<circle cx="172.30" cy="463.84" r="1.79" fill="#b0142a" fill-opacity="0.07"/>
<circle cx="178.05" cy="470.00" r="1.79" fill="#b0142a" fill-opacity="0.10"/>
<circle cx="173.11" cy="463.88" r="1.39" fill="#b0142a" fill-opacity="0.08"/>
<circle cx="177.35" cy="462.27" r="1.33" fill="#b0142a" fill-opacity="0.08"/>
<circle cx="170.70" cy="465.09" r="1.70" fill="#b0142a" fill-opacity="0.08"/>
<circle cx="175.16" cy="456.88" r="1.14" fill="#a0122a" fill-opacity="0.07"/>
<circle cx="168.94" cy="468.92" r="1.11" fill="#a0122a" fill-opacity="0.07"/>
<circle cx="172.34" cy="462.37" r="1.16" fill="#a0122a" fill-opacity="0.07"/>
<ellipse cx="157.80" cy="452.00" rx="2.76" ry="2.48" transform="rotate(0 157.80 452.00)" fill="#1c42a8"/>
<ellipse cx="165.10" cy="451.40" rx="2.39" ry="2.76" transform="rotate(0 165.10 451.40)" fill="#1c42a8"/>
<ellipse cx="177.10" cy="452.70" rx="2.85" ry="2.67" transform="rotate(0 177.10 452.70)" fill="#2552d2"/>
<ellipse cx="181.90" cy="445.40" rx="2.76" ry="2.39" transform="rotate(0 181.90 445.40)" fill="#2552d2"/>
<ellipse cx="158.40" cy="458.70" rx="2.58" ry="2.21" transform="rotate(0 158.40 458.70)" fill="#1c42a8"/>
<ellipse cx="165.70" cy="459.30" rx="2.39" ry="2.58" transform="rotate(0 165.70 459.30)" fill="#1c42a8"/>
<ellipse cx="186.10" cy="458.70" rx="1.66" ry="2.58" transform="rotate(0 186.10 458.70)" fill="#2552d2"/>
<ellipse cx="161.40" cy="466.50" rx="2.94" ry="2.39" transform="rotate(0 161.40 466.50)" fill="#1c42a8"/>
<ellipse cx="175.90" cy="465.30" rx="2.94" ry="2.39" transform="rotate(0 175.90 465.30)" fill="#2552d2"/>
</g>
<rect x="151.30" y="441.50" width="36.00" height="30.60" fill="none" stroke="#c4c4c4" stroke-width="0.9"/>
<line x1="158.90" y1="486.10" x2="184.90" y2="486.10" stroke="#e0e0e0" stroke-width="0.6"/>
<text x="172.90" y="490.50" font-size="4.8" fill="#e6e6e6" text-anchor="middle" textLength="14.80" lengthAdjust="spacingAndGlyphs">200 um</text>
</g>
<clipPath id="cp11"><rect x="189.20" y="441.10" width="68.40" height="50.60"/></clipPath>
<g clip-path="url(#cp11)">
<rect x="189.20" y="441.10" width="68.40" height="50.60" fill="#120309"/>
<g filter="url(#soft)">
<circle cx="216.46" cy="472.26" r="2.06" fill="#b3182a" fill-opacity="0.18"/>
<circle cx="216.46" cy="472.26" r="1.03" fill="#1f4cc9"/>
<circle cx="215.50" cy="455.29" r="1.66" fill="#b3182a" fill-opacity="0.18"/>
<circle cx="215.50" cy="455.29" r="0.83" fill="#1f4cc9"/>
<circle cx="238.06" cy="486.53" r="1.03" fill="#1f4cc9"/>
<circle cx="248.55" cy="479.46" r="1.85" fill="#b3182a" fill-opacity="0.18"/>
<circle cx="248.55" cy="479.46" r="0.93" fill="#1f4cc9"/>
<circle cx="205.63" cy="488.96" r="1.02" fill="#1f4cc9"/>
<circle cx="253.75" cy="485.82" r="0.93" fill="#1f4cc9"/>
<circle cx="222.71" cy="484.24" r="0.90" fill="#1f4cc9"/>
<circle cx="235.76" cy="477.37" r="1.70" fill="#b3182a" fill-opacity="0.18"/>
<circle cx="235.76" cy="477.37" r="0.85" fill="#1f4cc9"/>
<circle cx="255.13" cy="479.60" r="0.95" fill="#1f4cc9"/>
<circle cx="229.09" cy="490.10" r="0.92" fill="#1f4cc9"/>
<circle cx="203.34" cy="475.88" r="0.83" fill="#1f4cc9"/>
<circle cx="200.08" cy="479.61" r="0.85" fill="#1f4cc9"/>
<circle cx="255.04" cy="489.54" r="0.92" fill="#1f4cc9"/>
<circle cx="192.71" cy="444.27" r="0.94" fill="#1f4cc9"/>
<circle cx="229.21" cy="485.06" r="1.89" fill="#b3182a" fill-opacity="0.18"/>
<circle cx="229.21" cy="485.06" r="0.95" fill="#1f4cc9"/>
<circle cx="197.50" cy="488.45" r="2.02" fill="#b3182a" fill-opacity="0.18"/>
<circle cx="197.50" cy="488.45" r="1.01" fill="#1f4cc9"/>
<circle cx="217.57" cy="480.47" r="0.92" fill="#1f4cc9"/>
<circle cx="211.42" cy="471.02" r="0.80" fill="#1f4cc9"/>
<circle cx="197.31" cy="485.30" r="0.93" fill="#1f4cc9"/>
<circle cx="195.41" cy="441.77" r="0.94" fill="#1f4cc9"/>
<circle cx="207.19" cy="455.87" r="0.89" fill="#1f4cc9"/>
<circle cx="220.07" cy="478.78" r="2.02" fill="#b3182a" fill-opacity="0.18"/>
<circle cx="220.07" cy="478.78" r="1.01" fill="#1f4cc9"/>
<circle cx="241.58" cy="481.22" r="1.61" fill="#b3182a" fill-opacity="0.18"/>
<circle cx="241.58" cy="481.22" r="0.81" fill="#1f4cc9"/>
<circle cx="235.21" cy="487.29" r="1.92" fill="#b3182a" fill-opacity="0.18"/>
<circle cx="235.21" cy="487.29" r="0.96" fill="#1f4cc9"/>
<circle cx="219.48" cy="482.83" r="0.85" fill="#1f4cc9"/>
<circle cx="206.78" cy="478.30" r="0.82" fill="#1f4cc9"/>
<circle cx="210.23" cy="456.36" r="0.87" fill="#1f4cc9"/>
<circle cx="245.77" cy="486.59" r="1.03" fill="#1f4cc9"/>
<circle cx="206.63" cy="462.58" r="1.00" fill="#1f4cc9"/>
<circle cx="226.28" cy="489.76" r="0.92" fill="#1f4cc9"/>
<circle cx="206.66" cy="441.72" r="0.92" fill="#1f4cc9"/>
<circle cx="224.00" cy="487.28" r="1.85" fill="#b3182a" fill-opacity="0.18"/>
<circle cx="224.00" cy="487.28" r="0.92" fill="#1f4cc9"/>
<circle cx="245.69" cy="483.82" r="0.91" fill="#1f4cc9"/>
<circle cx="257.11" cy="483.95" r="1.01" fill="#1f4cc9"/>
<circle cx="206.01" cy="485.88" r="0.83" fill="#1f4cc9"/>
<circle cx="192.73" cy="474.36" r="0.87" fill="#1f4cc9"/>
<circle cx="231.66" cy="483.45" r="1.89" fill="#b3182a" fill-opacity="0.18"/>
<circle cx="231.66" cy="483.45" r="0.94" fill="#1f4cc9"/>
<circle cx="215.16" cy="452.08" r="0.87" fill="#1f4cc9"/>
<circle cx="197.75" cy="470.47" r="0.81" fill="#1f4cc9"/>
<circle cx="249.44" cy="489.80" r="0.88" fill="#1f4cc9"/>
<circle cx="237.87" cy="480.74" r="0.85" fill="#1f4cc9"/>
<circle cx="210.11" cy="462.90" r="0.80" fill="#1f4cc9"/>
<circle cx="208.62" cy="470.80" r="1.00" fill="#1f4cc9"/>
<circle cx="215.47" cy="481.87" r="0.96" fill="#1f4cc9"/>
<circle cx="213.18" cy="476.75" r="0.92" fill="#1f4cc9"/>
<circle cx="205.01" cy="465.45" r="1.86" fill="#b3182a" fill-opacity="0.18"/>
<circle cx="205.01" cy="465.45" r="0.93" fill="#1f4cc9"/>
<circle cx="210.82" cy="444.23" r="0.87" fill="#1f4cc9"/>
<circle cx="195.97" cy="479.61" r="1.04" fill="#1f4cc9"/>
<circle cx="227.97" cy="474.44" r="0.83" fill="#1f4cc9"/>
<circle cx="196.43" cy="456.86" r="0.92" fill="#1f4cc9"/>
<circle cx="209.79" cy="459.14" r="1.71" fill="#b3182a" fill-opacity="0.18"/>
<circle cx="209.79" cy="459.14" r="0.85" fill="#1f4cc9"/>
<circle cx="216.29" cy="477.27" r="1.05" fill="#1f4cc9"/>
<circle cx="212.71" cy="486.80" r="0.89" fill="#1f4cc9"/>
<circle cx="214.18" cy="463.33" r="0.84" fill="#1f4cc9"/>
<circle cx="209.85" cy="449.95" r="0.92" fill="#1f4cc9"/>
<circle cx="203.43" cy="490.32" r="0.94" fill="#1f4cc9"/>
<circle cx="213.99" cy="490.45" r="1.01" fill="#1f4cc9"/>
<circle cx="194.96" cy="486.59" r="0.83" fill="#1f4cc9"/>
<circle cx="227.90" cy="481.74" r="1.88" fill="#b3182a" fill-opacity="0.18"/>
<circle cx="227.90" cy="481.74" r="0.94" fill="#1f4cc9"/>
<circle cx="198.02" cy="476.47" r="0.84" fill="#1f4cc9"/>
<circle cx="221.61" cy="488.72" r="1.81" fill="#b3182a" fill-opacity="0.18"/>
<circle cx="221.61" cy="488.72" r="0.90" fill="#1f4cc9"/>
<circle cx="208.04" cy="474.39" r="1.03" fill="#1f4cc9"/>
<circle cx="215.71" cy="469.39" r="0.91" fill="#1f4cc9"/>
<circle cx="232.10" cy="476.42" r="1.91" fill="#b3182a" fill-opacity="0.18"/>
<circle cx="232.10" cy="476.42" r="0.96" fill="#1f4cc9"/>
<circle cx="190.39" cy="481.84" r="0.96" fill="#1f4cc9"/>
<circle cx="230.76" cy="479.02" r="2.02" fill="#b3182a" fill-opacity="0.18"/>
<circle cx="230.76" cy="479.02" r="1.01" fill="#1f4cc9"/>
<circle cx="238.60" cy="477.11" r="0.92" fill="#1f4cc9"/>
<circle cx="197.89" cy="491.26" r="1.04" fill="#1f4cc9"/>
<circle cx="198.69" cy="453.91" r="0.92" fill="#1f4cc9"/>
<circle cx="205.39" cy="470.76" r="1.02" fill="#1f4cc9"/>
<circle cx="202.20" cy="469.69" r="0.99" fill="#1f4cc9"/>
<circle cx="209.87" cy="489.37" r="1.61" fill="#b3182a" fill-opacity="0.18"/>
<circle cx="209.87" cy="489.37" r="0.80" fill="#1f4cc9"/>
<circle cx="246.61" cy="489.71" r="1.98" fill="#b3182a" fill-opacity="0.18"/>
<circle cx="246.61" cy="489.71" r="0.99" fill="#1f4cc9"/>
<circle cx="194.12" cy="477.56" r="0.83" fill="#1f4cc9"/>
<circle cx="256.84" cy="477.75" r="1.00" fill="#1f4cc9"/>
<circle cx="220.53" cy="474.41" r="0.83" fill="#1f4cc9"/>
<circle cx="251.90" cy="478.38" r="0.88" fill="#1f4cc9"/>
<circle cx="251.95" cy="483.90" r="0.81" fill="#1f4cc9"/>
<circle cx="200.48" cy="488.32" r="1.80" fill="#b3182a" fill-opacity="0.18"/>
<circle cx="200.48" cy="488.32" r="0.90" fill="#1f4cc9"/>
<circle cx="210.53" cy="475.36" r="1.04" fill="#1f4cc9"/>
<circle cx="209.68" cy="482.58" r="0.97" fill="#1f4cc9"/>
<circle cx="217.79" cy="444.61" r="0.89" fill="#1f4cc9"/>
<circle cx="204.49" cy="473.43" r="1.62" fill="#b3182a" fill-opacity="0.18"/>
<circle cx="204.49" cy="473.43" r="0.81" fill="#1f4cc9"/>
<circle cx="210.75" cy="447.37" r="0.99" fill="#1f4cc9"/>
<circle cx="202.95" cy="446.50" r="0.95" fill="#1f4cc9"/>
<circle cx="228.01" cy="487.36" r="0.96" fill="#1f4cc9"/>
<circle cx="207.45" cy="466.47" r="1.68" fill="#b3182a" fill-opacity="0.18"/>
<circle cx="207.45" cy="466.47" r="0.84" fill="#1f4cc9"/>
<circle cx="191.06" cy="469.92" r="0.84" fill="#1f4cc9"/>
<circle cx="223.43" cy="479.43" r="1.91" fill="#b3182a" fill-opacity="0.18"/>
<circle cx="223.43" cy="479.43" r="0.95" fill="#1f4cc9"/>
<circle cx="218.79" cy="491.14" r="0.99" fill="#1f4cc9"/>
<circle cx="200.34" cy="485.27" r="0.93" fill="#1f4cc9"/>
<circle cx="200.97" cy="464.46" r="0.95" fill="#1f4cc9"/>
<circle cx="249.68" cy="476.83" r="1.94" fill="#b3182a" fill-opacity="0.18"/>
<circle cx="249.68" cy="476.83" r="0.97" fill="#1f4cc9"/>
<circle cx="212.56" cy="479.66" r="0.98" fill="#1f4cc9"/>
<circle cx="217.35" cy="488.70" r="1.71" fill="#b3182a" fill-opacity="0.18"/>
<circle cx="217.35" cy="488.70" r="0.85" fill="#1f4cc9"/>
<circle cx="256.87" cy="487.11" r="0.93" fill="#1f4cc9"/>
<circle cx="213.82" cy="471.95" r="1.67" fill="#b3182a" fill-opacity="0.18"/>
<circle cx="213.82" cy="471.95" r="0.83" fill="#1f4cc9"/>
<circle cx="195.92" cy="482.63" r="0.87" fill="#1f4cc9"/>
<circle cx="192.42" cy="449.35" r="1.01" fill="#1f4cc9"/>
<circle cx="256.29" cy="474.07" r="0.86" fill="#1f4cc9"/>
<circle cx="205.52" cy="481.59" r="0.80" fill="#1f4cc9"/>
<circle cx="241.81" cy="483.89" r="2.04" fill="#b3182a" fill-opacity="0.18"/>
<circle cx="241.81" cy="483.89" r="1.02" fill="#1f4cc9"/>
<circle cx="247.76" cy="474.97" r="0.98" fill="#1f4cc9"/>
<circle cx="244.26" cy="481.10" r="1.86" fill="#b3182a" fill-opacity="0.18"/>
<circle cx="244.26" cy="481.10" r="0.93" fill="#1f4cc9"/>
<circle cx="215.14" cy="447.38" r="1.82" fill="#b3182a" fill-opacity="0.18"/>
<circle cx="215.14" cy="447.38" r="0.91" fill="#1f4cc9"/>
<circle cx="213.36" cy="458.09" r="0.87" fill="#1f4cc9"/>
<circle cx="213.59" cy="442.16" r="0.82" fill="#1f4cc9"/>
<circle cx="231.07" cy="487.16" r="0.98" fill="#1f4cc9"/>
<circle cx="239.12" cy="474.43" r="1.79" fill="#b3182a" fill-opacity="0.18"/>
<circle cx="239.12" cy="474.43" r="0.90" fill="#1f4cc9"/>
<circle cx="212.82" cy="454.82" r="0.85" fill="#1f4cc9"/>
<circle cx="219.37" cy="486.85" r="0.90" fill="#1f4cc9"/>
<circle cx="204.17" cy="479.13" r="1.01" fill="#1f4cc9"/>
<circle cx="206.93" cy="458.39" r="0.85" fill="#1f4cc9"/>
<circle cx="197.11" cy="448.88" r="1.01" fill="#1f4cc9"/>
<circle cx="190.23" cy="475.79" r="0.88" fill="#1f4cc9"/>
<circle cx="201.30" cy="473.06" r="2.01" fill="#b3182a" fill-opacity="0.18"/>
<circle cx="201.30" cy="473.06" r="1.01" fill="#1f4cc9"/>
<circle cx="233.41" cy="480.16" r="0.95" fill="#1f4cc9"/>
<circle cx="214.15" cy="484.68" r="0.96" fill="#1f4cc9"/>
<circle cx="228.13" cy="477.36" r="1.01" fill="#1f4cc9"/>
<circle cx="243.17" cy="477.80" r="1.74" fill="#b3182a" fill-opacity="0.18"/>
<circle cx="243.17" cy="477.80" r="0.87" fill="#1f4cc9"/>
<circle cx="208.67" cy="485.38" r="1.01" fill="#1f4cc9"/>
<circle cx="190.87" cy="461.96" r="0.92" fill="#1f4cc9"/>
<circle cx="189.71" cy="445.99" r="1.04" fill="#1f4cc9"/>
<circle cx="237.32" cy="483.79" r="0.83" fill="#1f4cc9"/>
<circle cx="242.68" cy="473.24" r="1.00" fill="#1f4cc9"/>
<circle cx="207.79" cy="451.51" r="1.83" fill="#b3182a" fill-opacity="0.18"/>
<circle cx="207.79" cy="451.51" r="0.91" fill="#1f4cc9"/>
<circle cx="190.52" cy="490.74" r="0.92" fill="#1f4cc9"/>
<circle cx="236.15" cy="473.19" r="1.04" fill="#1f4cc9"/>
<circle cx="196.39" cy="466.13" r="0.87" fill="#1f4cc9"/>
<circle cx="193.15" cy="490.79" r="0.83" fill="#1f4cc9"/>
<circle cx="198.19" cy="473.87" r="0.95" fill="#1f4cc9"/>
<circle cx="248.33" cy="483.29" r="1.04" fill="#1f4cc9"/>
<circle cx="254.11" cy="475.60" r="0.96" fill="#1f4cc9"/>
<circle cx="218.46" cy="469.51" r="1.04" fill="#1f4cc9"/>
<circle cx="216.88" cy="449.53" r="1.03" fill="#1f4cc9"/>
<circle cx="249.69" cy="485.98" r="1.03" fill="#1f4cc9"/>
<circle cx="214.72" cy="444.54" r="1.01" fill="#1f4cc9"/>
<circle cx="211.95" cy="460.64" r="1.83" fill="#b3182a" fill-opacity="0.18"/>
<circle cx="211.95" cy="460.64" r="0.92" fill="#1f4cc9"/>
<circle cx="203.17" cy="451.92" r="0.95" fill="#1f4cc9"/>
<circle cx="189.72" cy="478.69" r="0.99" fill="#1f4cc9"/>
<circle cx="210.41" cy="453.81" r="0.92" fill="#1f4cc9"/>
<circle cx="242.68" cy="488.86" r="0.94" fill="#1f4cc9"/>
<circle cx="190.27" cy="485.04" r="0.80" fill="#1f4cc9"/>
<circle cx="191.90" cy="452.32" r="1.96" fill="#b3182a" fill-opacity="0.18"/>
<circle cx="191.90" cy="452.32" r="0.98" fill="#1f4cc9"/>
<circle cx="224.16" cy="473.23" r="0.95" fill="#1f4cc9"/>
<circle cx="223.83" cy="490.93" r="0.82" fill="#1f4cc9"/>
<circle cx="194.10" cy="463.18" r="1.70" fill="#b3182a" fill-opacity="0.18"/>
<circle cx="194.10" cy="463.18" r="0.85" fill="#1f4cc9"/>
<circle cx="237.53" cy="490.41" r="0.97" fill="#1f4cc9"/>
<circle cx="217.27" cy="485.20" r="0.96" fill="#1f4cc9"/>
<circle cx="234.51" cy="490.18" r="0.81" fill="#1f4cc9"/>
</g>
<rect x="220.60" y="441.10" width="37.00" height="31.00" fill="#1a050c"/>
<g filter="url(#soft2)">
<circle cx="226.00" cy="443.01" r="1.67" fill="#b0142a" fill-opacity="0.12"/>
<circle cx="231.97" cy="444.91" r="1.03" fill="#b0142a" fill-opacity="0.20"/>
<circle cx="228.56" cy="437.67" r="1.35" fill="#b0142a" fill-opacity="0.21"/>
<circle cx="230.95" cy="444.18" r="1.55" fill="#b0142a" fill-opacity="0.14"/>
<circle cx="232.51" cy="443.62" r="1.05" fill="#b0142a" fill-opacity="0.20"/>
<circle cx="227.01" cy="448.57" r="1.52" fill="#b0142a" fill-opacity="0.16"/>
<circle cx="226.90" cy="448.53" r="1.28" fill="#b0142a" fill-opacity="0.13"/>
<circle cx="225.10" cy="443.92" r="1.28" fill="#b0142a" fill-opacity="0.17"/>
<circle cx="223.20" cy="452.12" r="0.96" fill="#b0142a" fill-opacity="0.15"/>
<circle cx="224.63" cy="450.47" r="1.33" fill="#b0142a" fill-opacity="0.19"/>
<circle cx="242.23" cy="445.84" r="0.99" fill="#b0142a" fill-opacity="0.16"/>
<circle cx="239.74" cy="451.07" r="1.70" fill="#b0142a" fill-opacity="0.12"/>
<circle cx="235.24" cy="448.52" r="1.52" fill="#b0142a" fill-opacity="0.15"/>
<circle cx="238.38" cy="442.10" r="0.83" fill="#b0142a" fill-opacity="0.20"/>
<circle cx="242.54" cy="445.82" r="1.35" fill="#b0142a" fill-opacity="0.17"/>
<circle cx="240.55" cy="454.11" r="1.15" fill="#b0142a" fill-opacity="0.13"/>
<circle cx="241.76" cy="448.21" r="0.81" fill="#b0142a" fill-opacity="0.12"/>
<circle cx="240.35" cy="456.93" r="1.60" fill="#b0142a" fill-opacity="0.17"/>
<circle cx="246.14" cy="451.76" r="1.50" fill="#b0142a" fill-opacity="0.17"/>
<circle cx="239.25" cy="449.76" r="1.57" fill="#b0142a" fill-opacity="0.20"/>
<circle cx="250.31" cy="454.55" r="1.25" fill="#b0142a" fill-opacity="0.18"/>
<circle cx="253.26" cy="451.71" r="1.11" fill="#b0142a" fill-opacity="0.12"/>
<circle cx="250.57" cy="456.07" r="1.08" fill="#b0142a" fill-opacity="0.14"/>
<circle cx="253.45" cy="452.50" r="1.50" fill="#b0142a" fill-opacity="0.15"/>
<circle cx="248.49" cy="451.48" r="1.12" fill="#b0142a" fill-opacity="0.18"/>
<circle cx="226.46" cy="460.26" r="1.03" fill="#b0142a" fill-opacity="0.16"/>
<circle cx="231.80" cy="457.00" r="1.68" fill="#b0142a" fill-opacity="0.15"/>
<circle cx="226.07" cy="459.48" r="1.52" fill="#b0142a" fill-opacity="0.13"/>
<circle cx="226.78" cy="453.16" r="1.04" fill="#b0142a" fill-opacity="0.16"/>
<circle cx="229.70" cy="455.36" r="1.03" fill="#b0142a" fill-opacity="0.17"/>
<circle cx="232.21" cy="454.06" r="1.23" fill="#b0142a" fill-opacity="0.20"/>
<circle cx="234.78" cy="458.91" r="1.35" fill="#b0142a" fill-opacity="0.15"/>
<circle cx="233.37" cy="453.43" r="1.38" fill="#b0142a" fill-opacity="0.22"/>
<circle cx="232.92" cy="453.60" r="0.83" fill="#b0142a" fill-opacity="0.13"/>
<circle cx="234.93" cy="452.15" r="0.98" fill="#b0142a" fill-opacity="0.14"/>
<circle cx="226.46" cy="461.03" r="1.14" fill="#b0142a" fill-opacity="0.19"/>
<circle cx="231.58" cy="456.51" r="1.45" fill="#b0142a" fill-opacity="0.17"/>
<circle cx="230.90" cy="455.66" r="0.86" fill="#b0142a" fill-opacity="0.20"/>
<circle cx="227.23" cy="457.07" r="1.66" fill="#b0142a" fill-opacity="0.20"/>
<circle cx="234.85" cy="460.34" r="1.29" fill="#b0142a" fill-opacity="0.19"/>
<circle cx="230.30" cy="460.24" r="1.17" fill="#b0142a" fill-opacity="0.15"/>
<circle cx="228.28" cy="465.25" r="1.35" fill="#b0142a" fill-opacity="0.13"/>
<circle cx="220.09" cy="461.58" r="1.54" fill="#b0142a" fill-opacity="0.12"/>
<circle cx="228.05" cy="463.31" r="1.61" fill="#b0142a" fill-opacity="0.15"/>
<circle cx="224.62" cy="458.43" r="0.94" fill="#b0142a" fill-opacity="0.20"/>
<circle cx="239.14" cy="458.29" r="1.57" fill="#b0142a" fill-opacity="0.12"/>
<circle cx="241.88" cy="461.14" r="0.87" fill="#b0142a" fill-opacity="0.15"/>
<circle cx="243.41" cy="461.58" r="1.55" fill="#b0142a" fill-opacity="0.15"/>
<circle cx="238.64" cy="460.18" r="0.88" fill="#b0142a" fill-opacity="0.20"/>
<circle cx="238.17" cy="460.68" r="1.48" fill="#b0142a" fill-opacity="0.14"/>
<circle cx="246.76" cy="461.50" r="1.19" fill="#b0142a" fill-opacity="0.17"/>
<circle cx="244.09" cy="456.17" r="1.25" fill="#b0142a" fill-opacity="0.20"/>
<circle cx="243.21" cy="458.16" r="1.63" fill="#b0142a" fill-opacity="0.15"/>
<circle cx="244.43" cy="456.71" r="1.40" fill="#b0142a" fill-opacity="0.21"/>
<circle cx="243.22" cy="460.22" r="1.19" fill="#b0142a" fill-opacity="0.20"/>
<circle cx="250.22" cy="460.90" r="1.74" fill="#b0142a" fill-opacity="0.14"/>
<circle cx="244.50" cy="463.28" r="1.21" fill="#b0142a" fill-opacity="0.19"/>
<circle cx="241.89" cy="466.68" r="1.40" fill="#b0142a" fill-opacity="0.20"/>
<circle cx="242.75" cy="464.72" r="1.69" fill="#b0142a" fill-opacity="0.13"/>
<circle cx="250.03" cy="467.37" r="0.88" fill="#b0142a" fill-opacity="0.17"/>
<circle cx="256.62" cy="470.18" r="1.33" fill="#b0142a" fill-opacity="0.19"/>
<circle cx="250.83" cy="472.05" r="1.22" fill="#b0142a" fill-opacity="0.12"/>
<circle cx="247.57" cy="467.62" r="1.77" fill="#b0142a" fill-opacity="0.16"/>
<circle cx="255.77" cy="462.76" r="1.48" fill="#b0142a" fill-opacity="0.21"/>
<circle cx="253.75" cy="464.41" r="1.76" fill="#b0142a" fill-opacity="0.15"/>
<circle cx="232.69" cy="470.75" r="1.78" fill="#b0142a" fill-opacity="0.14"/>
<circle cx="233.82" cy="471.20" r="1.65" fill="#b0142a" fill-opacity="0.11"/>
<circle cx="237.21" cy="471.22" r="1.38" fill="#b0142a" fill-opacity="0.17"/>
<circle cx="233.53" cy="465.93" r="1.76" fill="#b0142a" fill-opacity="0.17"/>
<circle cx="233.15" cy="466.43" r="1.10" fill="#b0142a" fill-opacity="0.15"/>
<circle cx="225.81" cy="469.30" r="1.38" fill="#b0142a" fill-opacity="0.20"/>
<circle cx="222.55" cy="468.42" r="0.85" fill="#b0142a" fill-opacity="0.11"/>
<circle cx="220.53" cy="465.99" r="1.24" fill="#b0142a" fill-opacity="0.15"/>
<circle cx="222.96" cy="469.07" r="1.26" fill="#b0142a" fill-opacity="0.16"/>
<circle cx="224.66" cy="462.95" r="0.96" fill="#b0142a" fill-opacity="0.20"/>
<circle cx="241.50" cy="471.01" r="1.32" fill="#a0122a" fill-opacity="0.13"/>
<circle cx="256.14" cy="466.17" r="0.96" fill="#a0122a" fill-opacity="0.13"/>
<circle cx="222.56" cy="463.28" r="1.03" fill="#a0122a" fill-opacity="0.13"/>
<circle cx="255.56" cy="445.49" r="0.74" fill="#a0122a" fill-opacity="0.13"/>
<circle cx="228.28" cy="465.25" r="1.28" fill="#a0122a" fill-opacity="0.13"/>
<circle cx="226.92" cy="456.40" r="1.37" fill="#a0122a" fill-opacity="0.13"/>
<ellipse cx="230.40" cy="441.80" rx="2.39" ry="1.47" transform="rotate(0 230.40 441.80)" fill="#2552d2"/>
<ellipse cx="223.80" cy="447.20" rx="2.94" ry="2.21" transform="rotate(0 223.80 447.20)" fill="#2552d2"/>
<ellipse cx="238.30" cy="446.60" rx="2.58" ry="1.93" transform="rotate(-20 238.30 446.60)" fill="#2552d2"/>
<ellipse cx="243.10" cy="452.70" rx="3.22" ry="2.02" transform="rotate(-10 243.10 452.70)" fill="#2552d2"/>
<ellipse cx="250.90" cy="452.70" rx="1.84" ry="3.04" transform="rotate(-20 250.90 452.70)" fill="#2552d2"/>
<ellipse cx="228.00" cy="457.50" rx="2.76" ry="1.93" transform="rotate(20 228.00 457.50)" fill="#2552d2"/>
<ellipse cx="234.10" cy="455.70" rx="2.58" ry="1.93" transform="rotate(0 234.10 455.70)" fill="#2552d2"/>
<ellipse cx="231.00" cy="459.90" rx="2.76" ry="2.02" transform="rotate(30 231.00 459.90)" fill="#2552d2"/>
<ellipse cx="225.60" cy="461.70" rx="3.13" ry="1.84" transform="rotate(0 225.60 461.70)" fill="#2552d2"/>
<ellipse cx="240.10" cy="460.50" rx="1.66" ry="2.76" transform="rotate(0 240.10 460.50)" fill="#2552d2"/>
<ellipse cx="244.90" cy="458.70" rx="2.02" ry="2.02" transform="rotate(0 244.90 458.70)" fill="#2552d2"/>
<ellipse cx="246.70" cy="464.70" rx="2.94" ry="2.12" transform="rotate(-30 246.70 464.70)" fill="#2552d2"/>
<ellipse cx="252.70" cy="467.10" rx="3.13" ry="2.30" transform="rotate(-30 252.70 467.10)" fill="#2552d2"/>
<ellipse cx="234.10" cy="468.30" rx="2.39" ry="1.84" transform="rotate(0 234.10 468.30)" fill="#2552d2"/>
<ellipse cx="222.60" cy="466.50" rx="2.21" ry="2.02" transform="rotate(0 222.60 466.50)" fill="#2552d2"/>
</g>
<rect x="220.60" y="441.50" width="36.60" height="30.60" fill="none" stroke="#c4c4c4" stroke-width="0.9"/>
<line x1="228.20" y1="486.10" x2="254.20" y2="486.10" stroke="#e0e0e0" stroke-width="0.6"/>
<text x="242.20" y="490.50" font-size="4.8" fill="#e6e6e6" text-anchor="middle" textLength="14.80" lengthAdjust="spacingAndGlyphs">200 um</text>
</g>
<clipPath id="cp20"><rect x="119.90" y="493.30" width="67.80" height="50.60"/></clipPath>
<g clip-path="url(#cp20)">
<rect x="119.90" y="493.30" width="67.80" height="50.60" fill="#120309"/>
<g filter="url(#soft)">
<circle cx="134.70" cy="493.40" r="2.01" fill="#b3182a" fill-opacity="0.18"/>
<circle cx="134.70" cy="493.40" r="1.00" fill="#1f4cc9"/>
<circle cx="140.70" cy="499.00" r="2.27" fill="#b3182a" fill-opacity="0.18"/>
<circle cx="140.70" cy="499.00" r="1.14" fill="#1f4cc9"/>
<circle cx="133.50" cy="501.60" r="1.03" fill="#1f4cc9"/>
<circle cx="131.70" cy="505.30" r="0.88" fill="#1f4cc9"/>
<circle cx="122.00" cy="504.00" r="1.83" fill="#b3182a" fill-opacity="0.18"/>
<circle cx="122.00" cy="504.00" r="0.92" fill="#1f4cc9"/>
<circle cx="122.60" cy="506.50" r="0.95" fill="#1f4cc9"/>
<circle cx="126.80" cy="507.10" r="1.13" fill="#1f4cc9"/>
<circle cx="136.50" cy="510.70" r="1.89" fill="#b3182a" fill-opacity="0.18"/>
<circle cx="136.50" cy="510.70" r="0.95" fill="#1f4cc9"/>
<circle cx="140.70" cy="514.30" r="1.87" fill="#b3182a" fill-opacity="0.18"/>
<circle cx="140.70" cy="514.30" r="0.94" fill="#1f4cc9"/>
<circle cx="147.30" cy="514.30" r="2.00" fill="#b3182a" fill-opacity="0.18"/>
<circle cx="147.30" cy="514.30" r="1.00" fill="#1f4cc9"/>
<circle cx="125.60" cy="517.90" r="1.77" fill="#b3182a" fill-opacity="0.18"/>
<circle cx="125.60" cy="517.90" r="0.88" fill="#1f4cc9"/>
<circle cx="130.40" cy="518.50" r="1.11" fill="#1f4cc9"/>
<circle cx="121.40" cy="525.10" r="0.88" fill="#1f4cc9"/>
<circle cx="144.90" cy="525.10" r="1.97" fill="#b3182a" fill-opacity="0.18"/>
<circle cx="144.90" cy="525.10" r="0.98" fill="#1f4cc9"/>
<circle cx="126.80" cy="527.50" r="2.18" fill="#b3182a" fill-opacity="0.18"/>
<circle cx="126.80" cy="527.50" r="1.09" fill="#1f4cc9"/>
<circle cx="133.50" cy="528.70" r="1.96" fill="#b3182a" fill-opacity="0.18"/>
<circle cx="133.50" cy="528.70" r="0.98" fill="#1f4cc9"/>
<circle cx="138.90" cy="534.80" r="1.01" fill="#1f4cc9"/>
<circle cx="132.90" cy="537.80" r="2.12" fill="#b3182a" fill-opacity="0.18"/>
<circle cx="132.90" cy="537.80" r="1.06" fill="#1f4cc9"/>
<circle cx="128.60" cy="542.60" r="1.72" fill="#b3182a" fill-opacity="0.18"/>
<circle cx="128.60" cy="542.60" r="0.86" fill="#1f4cc9"/>
<circle cx="155.70" cy="539.60" r="0.94" fill="#1f4cc9"/>
<circle cx="158.80" cy="527.00" r="2.06" fill="#b3182a" fill-opacity="0.18"/>
<circle cx="158.80" cy="527.00" r="1.03" fill="#1f4cc9"/>
<circle cx="158.40" cy="526.60" r="1.95" fill="#b3182a" fill-opacity="0.18"/>
<circle cx="158.40" cy="526.60" r="0.98" fill="#1f4cc9"/>
<circle cx="174.70" cy="529.60" r="1.99" fill="#b3182a" fill-opacity="0.18"/>
<circle cx="174.70" cy="529.60" r="0.99" fill="#1f4cc9"/>
<circle cx="181.90" cy="532.00" r="2.11" fill="#b3182a" fill-opacity="0.18"/>
<circle cx="181.90" cy="532.00" r="1.06" fill="#1f4cc9"/>
<circle cx="165.10" cy="537.50" r="2.30" fill="#b3182a" fill-opacity="0.18"/>
<circle cx="165.10" cy="537.50" r="1.15" fill="#1f4cc9"/>
<circle cx="155.40" cy="539.30" r="1.00" fill="#1f4cc9"/>
<circle cx="183.70" cy="541.10" r="0.96" fill="#1f4cc9"/>
<circle cx="187.50" cy="529.60" r="2.03" fill="#b3182a" fill-opacity="0.18"/>
<circle cx="187.50" cy="529.60" r="1.02" fill="#1f4cc9"/>
<ellipse cx="133" cy="503" rx="1.6" ry="3" transform="rotate(30 133 503)" fill="#c03070" fill-opacity="0.7"/>
</g>
<rect x="151.30" y="493.30" width="36.40" height="31.00" fill="#1a050c"/>
<g filter="url(#soft2)">
<circle cx="164.37" cy="497.94" r="0.95" fill="#b0142a" fill-opacity="0.15"/>
<circle cx="164.01" cy="497.87" r="1.04" fill="#b0142a" fill-opacity="0.19"/>
<circle cx="172.13" cy="503.19" r="1.68" fill="#b0142a" fill-opacity="0.20"/>
<circle cx="167.75" cy="503.81" r="1.19" fill="#b0142a" fill-opacity="0.15"/>
<circle cx="165.90" cy="504.78" r="1.56" fill="#b0142a" fill-opacity="0.15"/>
<circle cx="157.16" cy="511.60" r="0.88" fill="#b0142a" fill-opacity="0.14"/>
<circle cx="153.43" cy="506.06" r="1.50" fill="#b0142a" fill-opacity="0.14"/>
<circle cx="155.92" cy="511.08" r="1.32" fill="#b0142a" fill-opacity="0.16"/>
<circle cx="153.98" cy="507.96" r="1.01" fill="#b0142a" fill-opacity="0.19"/>
<circle cx="157.30" cy="503.79" r="1.21" fill="#b0142a" fill-opacity="0.16"/>
<circle cx="177.07" cy="510.21" r="0.96" fill="#b0142a" fill-opacity="0.20"/>
<circle cx="178.84" cy="509.60" r="1.62" fill="#b0142a" fill-opacity="0.13"/>
<circle cx="179.92" cy="507.22" r="1.62" fill="#b0142a" fill-opacity="0.16"/>
<circle cx="175.84" cy="504.89" r="0.83" fill="#b0142a" fill-opacity="0.15"/>
<circle cx="178.72" cy="506.63" r="1.45" fill="#b0142a" fill-opacity="0.13"/>
<circle cx="187.01" cy="507.56" r="1.39" fill="#b0142a" fill-opacity="0.20"/>
<circle cx="184.09" cy="515.25" r="1.40" fill="#b0142a" fill-opacity="0.22"/>
<circle cx="187.83" cy="511.80" r="0.93" fill="#b0142a" fill-opacity="0.21"/>
<circle cx="186.78" cy="515.53" r="1.47" fill="#b0142a" fill-opacity="0.17"/>
<circle cx="188.50" cy="510.08" r="1.12" fill="#b0142a" fill-opacity="0.23"/>
<circle cx="175.49" cy="498.75" r="0.81" fill="#a0122a" fill-opacity="0.15"/>
<circle cx="154.32" cy="511.39" r="1.16" fill="#a0122a" fill-opacity="0.15"/>
<circle cx="162.39" cy="498.85" r="0.89" fill="#a0122a" fill-opacity="0.15"/>
<circle cx="184.34" cy="497.74" r="0.72" fill="#a0122a" fill-opacity="0.15"/>
<circle cx="161.48" cy="513.63" r="0.89" fill="#a0122a" fill-opacity="0.15"/>
<circle cx="175.22" cy="506.71" r="0.79" fill="#a0122a" fill-opacity="0.15"/>
<circle cx="154.71" cy="520.74" r="0.88" fill="#a0122a" fill-opacity="0.15"/>
<circle cx="167.50" cy="500.40" r="4.70" fill="#a8142a" fill-opacity="0.3"/>
<circle cx="158.20" cy="507.50" r="5.20" fill="#a8142a" fill-opacity="0.3"/>
<circle cx="176.50" cy="508.30" r="4.20" fill="#a8142a" fill-opacity="0.3"/>
<circle cx="184.30" cy="511.30" r="4.00" fill="#a8142a" fill-opacity="0.3"/>
<ellipse cx="167.50" cy="500.40" rx="3.22" ry="2.39" transform="rotate(20 167.50 500.40)" fill="#2552d2"/>
<ellipse cx="158.20" cy="507.50" rx="3.68" ry="2.12" transform="rotate(30 158.20 507.50)" fill="#2552d2"/>
<ellipse cx="176.50" cy="508.30" rx="2.21" ry="2.76" transform="rotate(0 176.50 508.30)" fill="#2552d2"/>
<ellipse cx="184.30" cy="511.30" rx="2.58" ry="2.58" transform="rotate(0 184.30 511.30)" fill="#2552d2"/>
</g>
<rect x="151.30" y="493.70" width="36.00" height="30.60" fill="none" stroke="#c4c4c4" stroke-width="0.9"/>
<line x1="158.90" y1="538.30" x2="184.90" y2="538.30" stroke="#e0e0e0" stroke-width="0.6"/>
<text x="172.90" y="542.70" font-size="4.8" fill="#e6e6e6" text-anchor="middle" textLength="14.80" lengthAdjust="spacingAndGlyphs">200 um</text>
</g>
<clipPath id="cp21"><rect x="189.20" y="493.30" width="68.40" height="50.60"/></clipPath>
<g clip-path="url(#cp21)">
<rect x="189.20" y="493.30" width="68.40" height="50.60" fill="#120309"/>
<g filter="url(#soft)">
<circle cx="194.00" cy="497.40" r="1.75" fill="#b3182a" fill-opacity="0.32"/>
<circle cx="194.00" cy="497.40" r="0.88" fill="#1f4cc9"/>
<circle cx="197.60" cy="496.80" r="0.97" fill="#1f4cc9"/>
<circle cx="215.70" cy="502.20" r="2.07" fill="#b3182a" fill-opacity="0.32"/>
<circle cx="215.70" cy="502.20" r="1.03" fill="#1f4cc9"/>
<circle cx="199.40" cy="507.10" r="2.26" fill="#b3182a" fill-opacity="0.32"/>
<circle cx="199.40" cy="507.10" r="1.13" fill="#1f4cc9"/>
<circle cx="213.30" cy="506.50" r="2.21" fill="#b3182a" fill-opacity="0.32"/>
<circle cx="213.30" cy="506.50" r="1.10" fill="#1f4cc9"/>
<circle cx="208.50" cy="510.70" r="1.05" fill="#1f4cc9"/>
<circle cx="210.90" cy="514.30" r="2.18" fill="#b3182a" fill-opacity="0.32"/>
<circle cx="210.90" cy="514.30" r="1.09" fill="#1f4cc9"/>
<circle cx="218.70" cy="514.90" r="2.18" fill="#b3182a" fill-opacity="0.32"/>
<circle cx="218.70" cy="514.90" r="1.09" fill="#1f4cc9"/>
<circle cx="193.40" cy="516.70" r="0.98" fill="#1f4cc9"/>
<circle cx="206.10" cy="520.30" r="2.15" fill="#b3182a" fill-opacity="0.32"/>
<circle cx="206.10" cy="520.30" r="1.08" fill="#1f4cc9"/>
<circle cx="213.90" cy="520.30" r="1.84" fill="#b3182a" fill-opacity="0.32"/>
<circle cx="213.90" cy="520.30" r="0.92" fill="#1f4cc9"/>
<circle cx="195.20" cy="526.30" r="1.96" fill="#b3182a" fill-opacity="0.32"/>
<circle cx="195.20" cy="526.30" r="0.98" fill="#1f4cc9"/>
<circle cx="215.70" cy="525.70" r="2.26" fill="#b3182a" fill-opacity="0.32"/>
<circle cx="215.70" cy="525.70" r="1.13" fill="#1f4cc9"/>
<circle cx="219.30" cy="530.60" r="2.02" fill="#b3182a" fill-opacity="0.32"/>
<circle cx="219.30" cy="530.60" r="1.01" fill="#1f4cc9"/>
<circle cx="195.20" cy="536.60" r="1.89" fill="#b3182a" fill-opacity="0.32"/>
<circle cx="195.20" cy="536.60" r="0.95" fill="#1f4cc9"/>
<circle cx="220.50" cy="537.80" r="1.79" fill="#b3182a" fill-opacity="0.32"/>
<circle cx="220.50" cy="537.80" r="0.89" fill="#1f4cc9"/>
<circle cx="194.00" cy="540.20" r="0.96" fill="#1f4cc9"/>
<circle cx="202.50" cy="542.00" r="2.24" fill="#b3182a" fill-opacity="0.32"/>
<circle cx="202.50" cy="542.00" r="1.12" fill="#1f4cc9"/>
<circle cx="226.60" cy="531.80" r="0.89" fill="#1f4cc9"/>
<circle cx="232.00" cy="527.50" r="1.71" fill="#b3182a" fill-opacity="0.32"/>
<circle cx="232.00" cy="527.50" r="0.85" fill="#1f4cc9"/>
<circle cx="241.00" cy="530.50" r="2.04" fill="#b3182a" fill-opacity="0.32"/>
<circle cx="241.00" cy="530.50" r="1.02" fill="#1f4cc9"/>
<circle cx="249.00" cy="528.50" r="0.92" fill="#1f4cc9"/>
<circle cx="236.00" cy="536.00" r="2.13" fill="#b3182a" fill-opacity="0.32"/>
<circle cx="236.00" cy="536.00" r="1.06" fill="#1f4cc9"/>
<circle cx="246.00" cy="539.50" r="2.13" fill="#b3182a" fill-opacity="0.32"/>
<circle cx="246.00" cy="539.50" r="1.06" fill="#1f4cc9"/>
<circle cx="254.00" cy="534.00" r="2.00" fill="#b3182a" fill-opacity="0.32"/>
<circle cx="254.00" cy="534.00" r="1.00" fill="#1f4cc9"/>
<circle cx="229.00" cy="541.50" r="1.05" fill="#1f4cc9"/>
<circle cx="251.00" cy="542.50" r="1.81" fill="#b3182a" fill-opacity="0.32"/>
<circle cx="251.00" cy="542.50" r="0.90" fill="#1f4cc9"/>
</g>
<rect x="220.60" y="493.30" width="37.00" height="31.00" fill="#1a050c"/>
<g filter="url(#soft2)">
<circle cx="237.45" cy="499.44" r="1.21" fill="#b0142a" fill-opacity="0.48"/>
<circle cx="238.32" cy="500.18" r="1.56" fill="#b0142a" fill-opacity="0.49"/>
<circle cx="238.07" cy="500.94" r="1.01" fill="#b0142a" fill-opacity="0.48"/>
<circle cx="231.87" cy="503.60" r="1.57" fill="#b0142a" fill-opacity="0.43"/>
<circle cx="230.63" cy="501.80" r="0.90" fill="#b0142a" fill-opacity="0.46"/>
<circle cx="252.38" cy="506.32" r="1.48" fill="#b0142a" fill-opacity="0.46"/>
<circle cx="252.22" cy="505.08" r="1.15" fill="#b0142a" fill-opacity="0.50"/>
<circle cx="248.95" cy="504.57" r="1.11" fill="#b0142a" fill-opacity="0.47"/>
<circle cx="249.21" cy="505.35" r="0.92" fill="#b0142a" fill-opacity="0.32"/>
<circle cx="252.74" cy="506.88" r="1.15" fill="#b0142a" fill-opacity="0.42"/>
<circle cx="230.70" cy="511.16" r="1.60" fill="#b0142a" fill-opacity="0.55"/>
<circle cx="230.10" cy="512.95" r="1.57" fill="#b0142a" fill-opacity="0.34"/>
<circle cx="230.07" cy="514.65" r="1.48" fill="#b0142a" fill-opacity="0.52"/>
<circle cx="226.39" cy="511.85" r="1.23" fill="#b0142a" fill-opacity="0.31"/>
<circle cx="230.27" cy="516.31" r="1.37" fill="#b0142a" fill-opacity="0.47"/>
<circle cx="243.49" cy="521.05" r="1.00" fill="#b0142a" fill-opacity="0.36"/>
<circle cx="243.23" cy="515.07" r="1.15" fill="#b0142a" fill-opacity="0.56"/>
<circle cx="237.81" cy="517.27" r="1.26" fill="#b0142a" fill-opacity="0.38"/>
<circle cx="236.48" cy="519.40" r="1.79" fill="#b0142a" fill-opacity="0.58"/>
<circle cx="244.33" cy="519.97" r="1.21" fill="#b0142a" fill-opacity="0.48"/>
<circle cx="254.60" cy="496.46" r="0.76" fill="#a0122a" fill-opacity="0.36"/>
<circle cx="230.96" cy="505.25" r="1.39" fill="#a0122a" fill-opacity="0.36"/>
<circle cx="249.11" cy="495.84" r="0.83" fill="#a0122a" fill-opacity="0.36"/>
<circle cx="239.59" cy="523.31" r="0.88" fill="#a0122a" fill-opacity="0.36"/>
<circle cx="227.58" cy="507.34" r="0.68" fill="#a0122a" fill-opacity="0.36"/>
<circle cx="233.97" cy="494.38" r="1.34" fill="#a0122a" fill-opacity="0.36"/>
<circle cx="238.58" cy="511.62" r="1.05" fill="#a0122a" fill-opacity="0.36"/>
<circle cx="249.56" cy="494.75" r="0.96" fill="#a0122a" fill-opacity="0.36"/>
<circle cx="255.39" cy="511.59" r="0.66" fill="#a0122a" fill-opacity="0.36"/>
<circle cx="238.07" cy="505.87" r="1.01" fill="#a0122a" fill-opacity="0.36"/>
<circle cx="251.25" cy="504.60" r="0.77" fill="#a0122a" fill-opacity="0.36"/>
<circle cx="225.62" cy="495.97" r="1.30" fill="#a0122a" fill-opacity="0.36"/>
<circle cx="253.03" cy="501.70" r="0.77" fill="#a0122a" fill-opacity="0.36"/>
<circle cx="245.65" cy="505.94" r="0.94" fill="#a0122a" fill-opacity="0.36"/>
<circle cx="242.50" cy="508.48" r="1.16" fill="#a0122a" fill-opacity="0.36"/>
<circle cx="230.11" cy="511.69" r="0.71" fill="#a0122a" fill-opacity="0.36"/>
<circle cx="233.71" cy="496.82" r="0.91" fill="#a0122a" fill-opacity="0.36"/>
<circle cx="222.53" cy="515.46" r="1.38" fill="#a0122a" fill-opacity="0.36"/>
<path d="M231,497 L238,496 L236,508 L232,512 Z" fill="#a8142a" fill-opacity="0.55"/>
<path d="M244,503 L255,506 L254,514 L246,512 Z" fill="#a8142a" fill-opacity="0.3"/>
<circle cx="226.8" cy="514.3" r="5.0" fill="#a8142a" fill-opacity="0.55"/>
<circle cx="234.1" cy="499.8" r="4.6" fill="#a8142a" fill-opacity="0.45"/>
<ellipse cx="234.10" cy="499.80" rx="2.76" ry="3.50" transform="rotate(10 234.10 499.80)" fill="#2552d2"/>
<ellipse cx="250.90" cy="508.90" rx="2.58" ry="2.85" transform="rotate(0 250.90 508.90)" fill="#2552d2"/>
<ellipse cx="226.80" cy="514.30" rx="2.76" ry="2.94" transform="rotate(0 226.80 514.30)" fill="#2552d2"/>
<ellipse cx="241.30" cy="517.30" rx="3.22" ry="2.76" transform="rotate(0 241.30 517.30)" fill="#2552d2"/>
</g>
<rect x="220.60" y="493.70" width="36.60" height="30.60" fill="none" stroke="#c4c4c4" stroke-width="0.9"/>
<line x1="228.20" y1="538.30" x2="254.20" y2="538.30" stroke="#e0e0e0" stroke-width="0.6"/>
<text x="242.20" y="542.70" font-size="4.8" fill="#e6e6e6" text-anchor="middle" textLength="14.80" lengthAdjust="spacingAndGlyphs">200 um</text>
</g>
</svg>
</body></html>
